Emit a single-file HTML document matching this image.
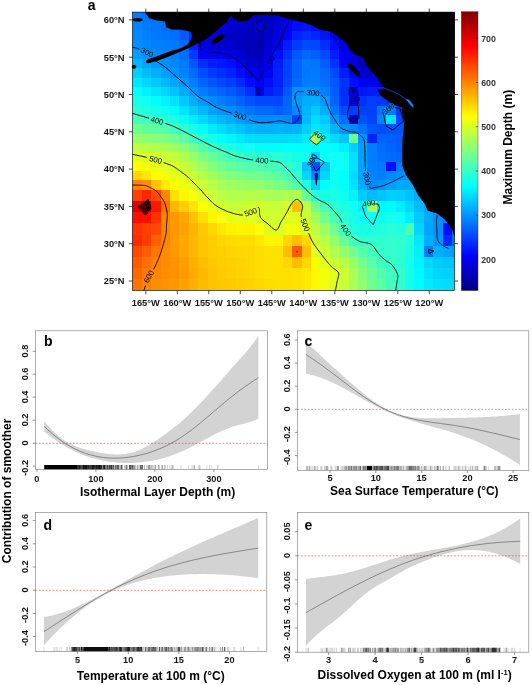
<!DOCTYPE html>
<html><head><meta charset="utf-8"><title>Figure</title>
<style>html,body{margin:0;padding:0;background:#fff}svg{display:block}</style></head>
<body>
<svg width="532" height="685" viewBox="0 0 532 685">
<rect width="532" height="685" fill="#fff"/>
<defs><clipPath id="mapclip"><rect x="132.4" y="12.1" width="322.2" height="278.5"/></clipPath><filter id="soft" x="-5%" y="-5%" width="110%" height="110%"><feGaussianBlur stdDeviation="0.6"/></filter></defs>
<g clip-path="url(#mapclip)"><g filter="url(#soft)" shape-rendering="crispEdges">
<rect x="128.40" y="8.10" width="13.70" height="13.65" fill="#007dff"/>
<rect x="141.80" y="8.10" width="9.70" height="13.65" fill="#0076ff"/>
<rect x="151.20" y="8.10" width="9.70" height="13.65" fill="#006eff"/>
<rect x="160.60" y="8.10" width="9.70" height="13.65" fill="#0065ff"/>
<rect x="170.00" y="8.10" width="9.70" height="13.65" fill="#0058ff"/>
<rect x="179.40" y="8.10" width="9.70" height="13.65" fill="#0044ff"/>
<rect x="188.80" y="8.10" width="9.70" height="13.65" fill="#002bff"/>
<rect x="198.20" y="8.10" width="9.70" height="13.65" fill="#0012ff"/>
<rect x="207.60" y="8.10" width="9.70" height="13.65" fill="#0000fb"/>
<rect x="217.00" y="8.10" width="9.70" height="13.65" fill="#0000e6"/>
<rect x="226.40" y="8.10" width="9.70" height="13.65" fill="#0000d6"/>
<rect x="235.80" y="8.10" width="9.70" height="13.65" fill="#0000cc"/>
<rect x="245.20" y="8.10" width="9.70" height="13.65" fill="#0000c4"/>
<rect x="254.60" y="8.10" width="9.70" height="13.65" fill="#0000c0"/>
<rect x="264.00" y="8.10" width="9.70" height="13.65" fill="#0000c3"/>
<rect x="273.40" y="8.10" width="9.70" height="13.65" fill="#0000d3"/>
<rect x="282.80" y="8.10" width="9.70" height="13.65" fill="#0000e7"/>
<rect x="292.20" y="8.10" width="9.70" height="13.65" fill="#0000f5"/>
<rect x="301.60" y="8.10" width="9.70" height="13.65" fill="#0000f9"/>
<rect x="311.00" y="8.10" width="9.70" height="13.65" fill="#0000f5"/>
<rect x="320.40" y="8.10" width="9.70" height="13.65" fill="#0000e8"/>
<rect x="329.80" y="8.10" width="9.70" height="13.65" fill="#0000d6"/>
<rect x="339.20" y="8.10" width="9.70" height="13.65" fill="#0000c1"/>
<rect x="348.60" y="8.10" width="9.70" height="13.65" fill="#0000ad"/>
<rect x="358.00" y="8.10" width="9.70" height="13.65" fill="#00009b"/>
<rect x="367.40" y="8.10" width="9.70" height="13.65" fill="#00008b"/>
<rect x="376.80" y="8.10" width="9.70" height="13.65" fill="#000080"/>
<rect x="386.20" y="8.10" width="9.70" height="13.65" fill="#000080"/>
<rect x="395.60" y="8.10" width="9.70" height="13.65" fill="#000080"/>
<rect x="405.00" y="8.10" width="9.70" height="13.65" fill="#000080"/>
<rect x="414.40" y="8.10" width="9.70" height="13.65" fill="#000080"/>
<rect x="423.80" y="8.10" width="9.70" height="13.65" fill="#000080"/>
<rect x="433.20" y="8.10" width="9.70" height="13.65" fill="#000080"/>
<rect x="442.60" y="8.10" width="9.70" height="13.65" fill="#000080"/>
<rect x="452.00" y="8.10" width="6.90" height="13.65" fill="#000080"/>
<rect x="128.40" y="21.45" width="13.70" height="9.65" fill="#0083ff"/>
<rect x="141.80" y="21.45" width="9.70" height="9.65" fill="#007cff"/>
<rect x="151.20" y="21.45" width="9.70" height="9.65" fill="#0074ff"/>
<rect x="160.60" y="21.45" width="9.70" height="9.65" fill="#006dff"/>
<rect x="170.00" y="21.45" width="9.70" height="9.65" fill="#0063ff"/>
<rect x="179.40" y="21.45" width="9.70" height="9.65" fill="#004dff"/>
<rect x="188.80" y="21.45" width="9.70" height="9.65" fill="#002bff"/>
<rect x="198.20" y="21.45" width="9.70" height="9.65" fill="#000cff"/>
<rect x="207.60" y="21.45" width="9.70" height="9.65" fill="#0000f4"/>
<rect x="217.00" y="21.45" width="9.70" height="9.65" fill="#0000de"/>
<rect x="226.40" y="21.45" width="9.70" height="9.65" fill="#0000cf"/>
<rect x="235.80" y="21.45" width="9.70" height="9.65" fill="#0000c8"/>
<rect x="245.20" y="21.45" width="9.70" height="9.65" fill="#0000c3"/>
<rect x="254.60" y="21.45" width="9.70" height="9.65" fill="#0000e1"/>
<rect x="264.00" y="21.45" width="9.70" height="9.65" fill="#0000c2"/>
<rect x="273.40" y="21.45" width="9.70" height="9.65" fill="#0000d8"/>
<rect x="282.80" y="21.45" width="9.70" height="9.65" fill="#0000f4"/>
<rect x="292.20" y="21.45" width="9.70" height="9.65" fill="#000aff"/>
<rect x="301.60" y="21.45" width="9.70" height="9.65" fill="#0012ff"/>
<rect x="311.00" y="21.45" width="9.70" height="9.65" fill="#000eff"/>
<rect x="320.40" y="21.45" width="9.70" height="9.65" fill="#0000fe"/>
<rect x="329.80" y="21.45" width="9.70" height="9.65" fill="#0000e7"/>
<rect x="339.20" y="21.45" width="9.70" height="9.65" fill="#0000cf"/>
<rect x="348.60" y="21.45" width="9.70" height="9.65" fill="#0000b7"/>
<rect x="358.00" y="21.45" width="9.70" height="9.65" fill="#0000a4"/>
<rect x="367.40" y="21.45" width="9.70" height="9.65" fill="#000094"/>
<rect x="376.80" y="21.45" width="9.70" height="9.65" fill="#000089"/>
<rect x="386.20" y="21.45" width="9.70" height="9.65" fill="#000081"/>
<rect x="395.60" y="21.45" width="9.70" height="9.65" fill="#000080"/>
<rect x="405.00" y="21.45" width="9.70" height="9.65" fill="#000080"/>
<rect x="414.40" y="21.45" width="9.70" height="9.65" fill="#000080"/>
<rect x="423.80" y="21.45" width="9.70" height="9.65" fill="#000080"/>
<rect x="433.20" y="21.45" width="9.70" height="9.65" fill="#000080"/>
<rect x="442.60" y="21.45" width="9.70" height="9.65" fill="#000080"/>
<rect x="452.00" y="21.45" width="6.90" height="9.65" fill="#000080"/>
<rect x="128.40" y="30.81" width="13.70" height="9.65" fill="#0088ff"/>
<rect x="141.80" y="30.81" width="9.70" height="9.65" fill="#0080ff"/>
<rect x="151.20" y="30.81" width="9.70" height="9.65" fill="#0079ff"/>
<rect x="160.60" y="30.81" width="9.70" height="9.65" fill="#0074ff"/>
<rect x="170.00" y="30.81" width="9.70" height="9.65" fill="#0070ff"/>
<rect x="179.40" y="30.81" width="9.70" height="9.65" fill="#005aff"/>
<rect x="188.80" y="30.81" width="9.70" height="9.65" fill="#0025ff"/>
<rect x="198.20" y="30.81" width="9.70" height="9.65" fill="#0000f9"/>
<rect x="207.60" y="30.81" width="9.70" height="9.65" fill="#0000e7"/>
<rect x="217.00" y="30.81" width="9.70" height="9.65" fill="#0000d2"/>
<rect x="226.40" y="30.81" width="9.70" height="9.65" fill="#0000c7"/>
<rect x="235.80" y="30.81" width="9.70" height="9.65" fill="#0000c3"/>
<rect x="245.20" y="30.81" width="9.70" height="9.65" fill="#0000c0"/>
<rect x="254.60" y="30.81" width="9.70" height="9.65" fill="#0000ba"/>
<rect x="264.00" y="30.81" width="9.70" height="9.65" fill="#0000c6"/>
<rect x="273.40" y="30.81" width="9.70" height="9.65" fill="#0000e1"/>
<rect x="282.80" y="30.81" width="9.70" height="9.65" fill="#0004ff"/>
<rect x="292.20" y="30.81" width="9.70" height="9.65" fill="#0020ff"/>
<rect x="301.60" y="30.81" width="9.70" height="9.65" fill="#002dff"/>
<rect x="311.00" y="30.81" width="9.70" height="9.65" fill="#0028ff"/>
<rect x="320.40" y="30.81" width="9.70" height="9.65" fill="#0016ff"/>
<rect x="329.80" y="30.81" width="9.70" height="9.65" fill="#0000f9"/>
<rect x="339.20" y="30.81" width="9.70" height="9.65" fill="#0000db"/>
<rect x="348.60" y="30.81" width="9.70" height="9.65" fill="#0000c1"/>
<rect x="358.00" y="30.81" width="9.70" height="9.65" fill="#0000ac"/>
<rect x="367.40" y="30.81" width="9.70" height="9.65" fill="#00009e"/>
<rect x="376.80" y="30.81" width="9.70" height="9.65" fill="#000094"/>
<rect x="386.20" y="30.81" width="9.70" height="9.65" fill="#00008d"/>
<rect x="395.60" y="30.81" width="9.70" height="9.65" fill="#000088"/>
<rect x="405.00" y="30.81" width="9.70" height="9.65" fill="#000083"/>
<rect x="414.40" y="30.81" width="9.70" height="9.65" fill="#000080"/>
<rect x="423.80" y="30.81" width="9.70" height="9.65" fill="#000080"/>
<rect x="433.20" y="30.81" width="9.70" height="9.65" fill="#000080"/>
<rect x="442.60" y="30.81" width="9.70" height="9.65" fill="#000080"/>
<rect x="452.00" y="30.81" width="6.90" height="9.65" fill="#000080"/>
<rect x="128.40" y="40.16" width="13.70" height="9.65" fill="#008fff"/>
<rect x="141.80" y="40.16" width="9.70" height="9.65" fill="#0088ff"/>
<rect x="151.20" y="40.16" width="9.70" height="9.65" fill="#007fff"/>
<rect x="160.60" y="40.16" width="9.70" height="9.65" fill="#007bff"/>
<rect x="170.00" y="40.16" width="9.70" height="9.65" fill="#007aff"/>
<rect x="179.40" y="40.16" width="9.70" height="9.65" fill="#0068ff"/>
<rect x="188.80" y="40.16" width="9.70" height="9.65" fill="#0023ff"/>
<rect x="198.20" y="40.16" width="9.70" height="9.65" fill="#0000e6"/>
<rect x="207.60" y="40.16" width="9.70" height="9.65" fill="#0000d9"/>
<rect x="217.00" y="40.16" width="9.70" height="9.65" fill="#0000d0"/>
<rect x="226.40" y="40.16" width="9.70" height="9.65" fill="#0000cb"/>
<rect x="235.80" y="40.16" width="9.70" height="9.65" fill="#0000c2"/>
<rect x="245.20" y="40.16" width="9.70" height="9.65" fill="#0000b6"/>
<rect x="254.60" y="40.16" width="9.70" height="9.65" fill="#0000b0"/>
<rect x="264.00" y="40.16" width="9.70" height="9.65" fill="#0000cd"/>
<rect x="273.40" y="40.16" width="9.70" height="9.65" fill="#0000f1"/>
<rect x="282.80" y="40.16" width="9.70" height="9.65" fill="#001bff"/>
<rect x="292.20" y="40.16" width="9.70" height="9.65" fill="#003bff"/>
<rect x="301.60" y="40.16" width="9.70" height="9.65" fill="#004aff"/>
<rect x="311.00" y="40.16" width="9.70" height="9.65" fill="#0045ff"/>
<rect x="320.40" y="40.16" width="9.70" height="9.65" fill="#002fff"/>
<rect x="329.80" y="40.16" width="9.70" height="9.65" fill="#000cff"/>
<rect x="339.20" y="40.16" width="9.70" height="9.65" fill="#0000e7"/>
<rect x="348.60" y="40.16" width="9.70" height="9.65" fill="#0000c9"/>
<rect x="358.00" y="40.16" width="9.70" height="9.65" fill="#0000b4"/>
<rect x="367.40" y="40.16" width="9.70" height="9.65" fill="#0000a7"/>
<rect x="376.80" y="40.16" width="9.70" height="9.65" fill="#0000a0"/>
<rect x="386.20" y="40.16" width="9.70" height="9.65" fill="#00009b"/>
<rect x="395.60" y="40.16" width="9.70" height="9.65" fill="#000098"/>
<rect x="405.00" y="40.16" width="9.70" height="9.65" fill="#000094"/>
<rect x="414.40" y="40.16" width="9.70" height="9.65" fill="#000090"/>
<rect x="423.80" y="40.16" width="9.70" height="9.65" fill="#00008b"/>
<rect x="433.20" y="40.16" width="9.70" height="9.65" fill="#000085"/>
<rect x="442.60" y="40.16" width="9.70" height="9.65" fill="#000080"/>
<rect x="452.00" y="40.16" width="6.90" height="9.65" fill="#000080"/>
<rect x="128.40" y="49.51" width="13.70" height="9.65" fill="#009eff"/>
<rect x="141.80" y="49.51" width="9.70" height="9.65" fill="#0095ff"/>
<rect x="151.20" y="49.51" width="9.70" height="9.65" fill="#008aff"/>
<rect x="160.60" y="49.51" width="9.70" height="9.65" fill="#0084ff"/>
<rect x="170.00" y="49.51" width="9.70" height="9.65" fill="#0080ff"/>
<rect x="179.40" y="49.51" width="9.70" height="9.65" fill="#006eff"/>
<rect x="188.80" y="49.51" width="9.70" height="9.65" fill="#0037ff"/>
<rect x="198.20" y="49.51" width="9.70" height="9.65" fill="#0000fe"/>
<rect x="207.60" y="49.51" width="9.70" height="9.65" fill="#0000f9"/>
<rect x="217.00" y="49.51" width="9.70" height="9.65" fill="#0000f4"/>
<rect x="226.40" y="49.51" width="9.70" height="9.65" fill="#0000e9"/>
<rect x="235.80" y="49.51" width="9.70" height="9.65" fill="#0000d3"/>
<rect x="245.20" y="49.51" width="9.70" height="9.65" fill="#0000bb"/>
<rect x="254.60" y="49.51" width="9.70" height="9.65" fill="#0000b9"/>
<rect x="264.00" y="49.51" width="9.70" height="9.65" fill="#0000df"/>
<rect x="273.40" y="49.51" width="9.70" height="9.65" fill="#000aff"/>
<rect x="282.80" y="49.51" width="9.70" height="9.65" fill="#0033ff"/>
<rect x="292.20" y="49.51" width="9.70" height="9.65" fill="#0057ff"/>
<rect x="301.60" y="49.51" width="9.70" height="9.65" fill="#0067ff"/>
<rect x="311.00" y="49.51" width="9.70" height="9.65" fill="#0061ff"/>
<rect x="320.40" y="49.51" width="9.70" height="9.65" fill="#0048ff"/>
<rect x="329.80" y="49.51" width="9.70" height="9.65" fill="#001fff"/>
<rect x="339.20" y="49.51" width="9.70" height="9.65" fill="#0000f2"/>
<rect x="348.60" y="49.51" width="9.70" height="9.65" fill="#0000d1"/>
<rect x="358.00" y="49.51" width="9.70" height="9.65" fill="#0000be"/>
<rect x="367.40" y="49.51" width="9.70" height="9.65" fill="#0000b3"/>
<rect x="376.80" y="49.51" width="9.70" height="9.65" fill="#0000ae"/>
<rect x="386.20" y="49.51" width="9.70" height="9.65" fill="#0000ac"/>
<rect x="395.60" y="49.51" width="9.70" height="9.65" fill="#0000aa"/>
<rect x="405.00" y="49.51" width="9.70" height="9.65" fill="#0000a8"/>
<rect x="414.40" y="49.51" width="9.70" height="9.65" fill="#0000a4"/>
<rect x="423.80" y="49.51" width="9.70" height="9.65" fill="#00009f"/>
<rect x="433.20" y="49.51" width="9.70" height="9.65" fill="#000098"/>
<rect x="442.60" y="49.51" width="9.70" height="9.65" fill="#000091"/>
<rect x="452.00" y="49.51" width="6.90" height="9.65" fill="#00008c"/>
<rect x="128.40" y="58.86" width="13.70" height="9.65" fill="#00b4ff"/>
<rect x="141.80" y="58.86" width="9.70" height="9.65" fill="#00a7ff"/>
<rect x="151.20" y="58.86" width="9.70" height="9.65" fill="#0099ff"/>
<rect x="160.60" y="58.86" width="9.70" height="9.65" fill="#008fff"/>
<rect x="170.00" y="58.86" width="9.70" height="9.65" fill="#0087ff"/>
<rect x="179.40" y="58.86" width="9.70" height="9.65" fill="#0079ff"/>
<rect x="188.80" y="58.86" width="9.70" height="9.65" fill="#0056ff"/>
<rect x="198.20" y="58.86" width="9.70" height="9.65" fill="#002dff"/>
<rect x="207.60" y="58.86" width="9.70" height="9.65" fill="#001cff"/>
<rect x="217.00" y="58.86" width="9.70" height="9.65" fill="#0014ff"/>
<rect x="226.40" y="58.86" width="9.70" height="9.65" fill="#0009ff"/>
<rect x="235.80" y="58.86" width="9.70" height="9.65" fill="#0000f3"/>
<rect x="245.20" y="58.86" width="9.70" height="9.65" fill="#0000d3"/>
<rect x="254.60" y="58.86" width="9.70" height="9.65" fill="#0000cc"/>
<rect x="264.00" y="58.86" width="9.70" height="9.65" fill="#0000f5"/>
<rect x="273.40" y="58.86" width="9.70" height="9.65" fill="#001bff"/>
<rect x="282.80" y="58.86" width="9.70" height="9.65" fill="#0041ff"/>
<rect x="292.20" y="58.86" width="9.70" height="9.65" fill="#0064ff"/>
<rect x="301.60" y="58.86" width="9.70" height="9.65" fill="#0077ff"/>
<rect x="311.00" y="58.86" width="9.70" height="9.65" fill="#0074ff"/>
<rect x="320.40" y="58.86" width="9.70" height="9.65" fill="#005dff"/>
<rect x="329.80" y="58.86" width="9.70" height="9.65" fill="#0034ff"/>
<rect x="339.20" y="58.86" width="9.70" height="9.65" fill="#0001ff"/>
<rect x="348.60" y="58.86" width="9.70" height="9.65" fill="#0000de"/>
<rect x="358.00" y="58.86" width="9.70" height="9.65" fill="#0000cb"/>
<rect x="367.40" y="58.86" width="9.70" height="9.65" fill="#0000c3"/>
<rect x="376.80" y="58.86" width="9.70" height="9.65" fill="#0000c1"/>
<rect x="386.20" y="58.86" width="9.70" height="9.65" fill="#0000c1"/>
<rect x="395.60" y="58.86" width="9.70" height="9.65" fill="#0000c0"/>
<rect x="405.00" y="58.86" width="9.70" height="9.65" fill="#0000be"/>
<rect x="414.40" y="58.86" width="9.70" height="9.65" fill="#0000b9"/>
<rect x="423.80" y="58.86" width="9.70" height="9.65" fill="#0000b3"/>
<rect x="433.20" y="58.86" width="9.70" height="9.65" fill="#0000ac"/>
<rect x="442.60" y="58.86" width="9.70" height="9.65" fill="#0000a4"/>
<rect x="452.00" y="58.86" width="6.90" height="9.65" fill="#00009e"/>
<rect x="128.40" y="68.22" width="13.70" height="9.65" fill="#00ceff"/>
<rect x="141.80" y="68.22" width="9.70" height="9.65" fill="#00bfff"/>
<rect x="151.20" y="68.22" width="9.70" height="9.65" fill="#00afff"/>
<rect x="160.60" y="68.22" width="9.70" height="9.65" fill="#009fff"/>
<rect x="170.00" y="68.22" width="9.70" height="9.65" fill="#0090ff"/>
<rect x="179.40" y="68.22" width="9.70" height="9.65" fill="#0081ff"/>
<rect x="188.80" y="68.22" width="9.70" height="9.65" fill="#0069ff"/>
<rect x="198.20" y="68.22" width="9.70" height="9.65" fill="#004dff"/>
<rect x="207.60" y="68.22" width="9.70" height="9.65" fill="#0039ff"/>
<rect x="217.00" y="68.22" width="9.70" height="9.65" fill="#002eff"/>
<rect x="226.40" y="68.22" width="9.70" height="9.65" fill="#0023ff"/>
<rect x="235.80" y="68.22" width="9.70" height="9.65" fill="#0010ff"/>
<rect x="245.20" y="68.22" width="9.70" height="9.65" fill="#0000f3"/>
<rect x="254.60" y="68.22" width="9.70" height="9.65" fill="#0000e7"/>
<rect x="264.00" y="68.22" width="9.70" height="9.65" fill="#0004ff"/>
<rect x="273.40" y="68.22" width="9.70" height="9.65" fill="#0020ff"/>
<rect x="282.80" y="68.22" width="9.70" height="9.65" fill="#0042ff"/>
<rect x="292.20" y="68.22" width="9.70" height="9.65" fill="#0062ff"/>
<rect x="301.60" y="68.22" width="9.70" height="9.65" fill="#0077ff"/>
<rect x="311.00" y="68.22" width="9.70" height="9.65" fill="#007cff"/>
<rect x="320.40" y="68.22" width="9.70" height="9.65" fill="#006aff"/>
<rect x="329.80" y="68.22" width="9.70" height="9.65" fill="#004aff"/>
<rect x="339.20" y="68.22" width="9.70" height="9.65" fill="#001dff"/>
<rect x="348.60" y="68.22" width="9.70" height="9.65" fill="#0000f3"/>
<rect x="358.00" y="68.22" width="9.70" height="9.65" fill="#0000dd"/>
<rect x="367.40" y="68.22" width="9.70" height="9.65" fill="#0000d8"/>
<rect x="376.80" y="68.22" width="9.70" height="9.65" fill="#0000da"/>
<rect x="386.20" y="68.22" width="9.70" height="9.65" fill="#0000db"/>
<rect x="395.60" y="68.22" width="9.70" height="9.65" fill="#0000da"/>
<rect x="405.00" y="68.22" width="9.70" height="9.65" fill="#0000d6"/>
<rect x="414.40" y="68.22" width="9.70" height="9.65" fill="#0000d0"/>
<rect x="423.80" y="68.22" width="9.70" height="9.65" fill="#0000c9"/>
<rect x="433.20" y="68.22" width="9.70" height="9.65" fill="#0000c1"/>
<rect x="442.60" y="68.22" width="9.70" height="9.65" fill="#0000b8"/>
<rect x="452.00" y="68.22" width="6.90" height="9.65" fill="#0000b1"/>
<rect x="128.40" y="77.57" width="13.70" height="9.65" fill="#00e8ff"/>
<rect x="141.80" y="77.57" width="9.70" height="9.65" fill="#00d9ff"/>
<rect x="151.20" y="77.57" width="9.70" height="9.65" fill="#00c9ff"/>
<rect x="160.60" y="77.57" width="9.70" height="9.65" fill="#00b8ff"/>
<rect x="170.00" y="77.57" width="9.70" height="9.65" fill="#00a5ff"/>
<rect x="179.40" y="77.57" width="9.70" height="9.65" fill="#0092ff"/>
<rect x="188.80" y="77.57" width="9.70" height="9.65" fill="#007cff"/>
<rect x="198.20" y="77.57" width="9.70" height="9.65" fill="#0065ff"/>
<rect x="207.60" y="77.57" width="9.70" height="9.65" fill="#0054ff"/>
<rect x="217.00" y="77.57" width="9.70" height="9.65" fill="#0048ff"/>
<rect x="226.40" y="77.57" width="9.70" height="9.65" fill="#003dff"/>
<rect x="235.80" y="77.57" width="9.70" height="9.65" fill="#0029ff"/>
<rect x="245.20" y="77.57" width="9.70" height="9.65" fill="#000cff"/>
<rect x="254.60" y="77.57" width="9.70" height="9.65" fill="#0000f7"/>
<rect x="264.00" y="77.57" width="9.70" height="9.65" fill="#0008ff"/>
<rect x="273.40" y="77.57" width="9.70" height="9.65" fill="#0020ff"/>
<rect x="282.80" y="77.57" width="9.70" height="9.65" fill="#0047ff"/>
<rect x="292.20" y="77.57" width="9.70" height="9.65" fill="#006bff"/>
<rect x="301.60" y="77.57" width="9.70" height="9.65" fill="#007cff"/>
<rect x="311.00" y="77.57" width="9.70" height="9.65" fill="#007eff"/>
<rect x="320.40" y="77.57" width="9.70" height="9.65" fill="#0072ff"/>
<rect x="329.80" y="77.57" width="9.70" height="9.65" fill="#0059ff"/>
<rect x="339.20" y="77.57" width="9.70" height="9.65" fill="#0031ff"/>
<rect x="348.60" y="77.57" width="9.70" height="9.65" fill="#0007ff"/>
<rect x="358.00" y="77.57" width="9.70" height="9.65" fill="#0000f2"/>
<rect x="367.40" y="77.57" width="9.70" height="9.65" fill="#0000f4"/>
<rect x="376.80" y="77.57" width="9.70" height="9.65" fill="#0000f8"/>
<rect x="386.20" y="77.57" width="9.70" height="9.65" fill="#0000f9"/>
<rect x="395.60" y="77.57" width="9.70" height="9.65" fill="#0000f5"/>
<rect x="405.00" y="77.57" width="9.70" height="9.65" fill="#0000ef"/>
<rect x="414.40" y="77.57" width="9.70" height="9.65" fill="#0000e8"/>
<rect x="423.80" y="77.57" width="9.70" height="9.65" fill="#0000df"/>
<rect x="433.20" y="77.57" width="9.70" height="9.65" fill="#0000d6"/>
<rect x="442.60" y="77.57" width="9.70" height="9.65" fill="#0000cb"/>
<rect x="452.00" y="77.57" width="6.90" height="9.65" fill="#0000c4"/>
<rect x="128.40" y="86.92" width="13.70" height="9.65" fill="#00feff"/>
<rect x="141.80" y="86.92" width="9.70" height="9.65" fill="#00f1ff"/>
<rect x="151.20" y="86.92" width="9.70" height="9.65" fill="#00e4ff"/>
<rect x="160.60" y="86.92" width="9.70" height="9.65" fill="#00d5ff"/>
<rect x="170.00" y="86.92" width="9.70" height="9.65" fill="#00c2ff"/>
<rect x="179.40" y="86.92" width="9.70" height="9.65" fill="#00abff"/>
<rect x="188.80" y="86.92" width="9.70" height="9.65" fill="#0092ff"/>
<rect x="198.20" y="86.92" width="9.70" height="9.65" fill="#007eff"/>
<rect x="207.60" y="86.92" width="9.70" height="9.65" fill="#006eff"/>
<rect x="217.00" y="86.92" width="9.70" height="9.65" fill="#0063ff"/>
<rect x="226.40" y="86.92" width="9.70" height="9.65" fill="#0058ff"/>
<rect x="235.80" y="86.92" width="9.70" height="9.65" fill="#0047ff"/>
<rect x="245.20" y="86.92" width="9.70" height="9.65" fill="#002dff"/>
<rect x="254.60" y="86.92" width="9.70" height="9.65" fill="#0000e9"/>
<rect x="264.00" y="86.92" width="9.70" height="9.65" fill="#001eff"/>
<rect x="273.40" y="86.92" width="9.70" height="9.65" fill="#002aff"/>
<rect x="282.80" y="86.92" width="9.70" height="9.65" fill="#0059ff"/>
<rect x="292.20" y="86.92" width="9.70" height="9.65" fill="#0091ff"/>
<rect x="301.60" y="86.92" width="9.70" height="9.65" fill="#0095ff"/>
<rect x="311.00" y="86.92" width="9.70" height="9.65" fill="#008fff"/>
<rect x="320.40" y="86.92" width="9.70" height="9.65" fill="#0080ff"/>
<rect x="329.80" y="86.92" width="9.70" height="9.65" fill="#005cff"/>
<rect x="339.20" y="86.92" width="9.70" height="9.65" fill="#002fff"/>
<rect x="348.60" y="86.92" width="9.70" height="9.65" fill="#0000f1"/>
<rect x="358.00" y="86.92" width="9.70" height="9.65" fill="#0013ff"/>
<rect x="367.40" y="86.92" width="9.70" height="9.65" fill="#001bff"/>
<rect x="376.80" y="86.92" width="9.70" height="9.65" fill="#001dff"/>
<rect x="386.20" y="86.92" width="9.70" height="9.65" fill="#0018ff"/>
<rect x="395.60" y="86.92" width="9.70" height="9.65" fill="#0011ff"/>
<rect x="405.00" y="86.92" width="9.70" height="9.65" fill="#0009ff"/>
<rect x="414.40" y="86.92" width="9.70" height="9.65" fill="#0000ff"/>
<rect x="423.80" y="86.92" width="9.70" height="9.65" fill="#0000f5"/>
<rect x="433.20" y="86.92" width="9.70" height="9.65" fill="#0000ea"/>
<rect x="442.60" y="86.92" width="9.70" height="9.65" fill="#0000de"/>
<rect x="452.00" y="86.92" width="6.90" height="9.65" fill="#0000d7"/>
<rect x="128.40" y="96.27" width="13.70" height="9.65" fill="#14ffeb"/>
<rect x="141.80" y="96.27" width="9.70" height="9.65" fill="#09fff6"/>
<rect x="151.20" y="96.27" width="9.70" height="9.65" fill="#00feff"/>
<rect x="160.60" y="96.27" width="9.70" height="9.65" fill="#00f3ff"/>
<rect x="170.00" y="96.27" width="9.70" height="9.65" fill="#00e0ff"/>
<rect x="179.40" y="96.27" width="9.70" height="9.65" fill="#00c7ff"/>
<rect x="188.80" y="96.27" width="9.70" height="9.65" fill="#00adff"/>
<rect x="198.20" y="96.27" width="9.70" height="9.65" fill="#0099ff"/>
<rect x="207.60" y="96.27" width="9.70" height="9.65" fill="#0089ff"/>
<rect x="217.00" y="96.27" width="9.70" height="9.65" fill="#007cff"/>
<rect x="226.40" y="96.27" width="9.70" height="9.65" fill="#0072ff"/>
<rect x="235.80" y="96.27" width="9.70" height="9.65" fill="#0063ff"/>
<rect x="245.20" y="96.27" width="9.70" height="9.65" fill="#0051ff"/>
<rect x="254.60" y="96.27" width="9.70" height="9.65" fill="#0046ff"/>
<rect x="264.00" y="96.27" width="9.70" height="9.65" fill="#0045ff"/>
<rect x="273.40" y="96.27" width="9.70" height="9.65" fill="#0044ff"/>
<rect x="282.80" y="96.27" width="9.70" height="9.65" fill="#0065ff"/>
<rect x="292.20" y="96.27" width="9.70" height="9.65" fill="#009aff"/>
<rect x="301.60" y="96.27" width="9.70" height="9.65" fill="#00aeff"/>
<rect x="311.00" y="96.27" width="9.70" height="9.65" fill="#00afff"/>
<rect x="320.40" y="96.27" width="9.70" height="9.65" fill="#0097ff"/>
<rect x="329.80" y="96.27" width="9.70" height="9.65" fill="#0063ff"/>
<rect x="339.20" y="96.27" width="9.70" height="9.65" fill="#0031ff"/>
<rect x="348.60" y="96.27" width="9.70" height="9.65" fill="#0000e1"/>
<rect x="358.00" y="96.27" width="9.70" height="9.65" fill="#0030ff"/>
<rect x="367.40" y="96.27" width="9.70" height="9.65" fill="#003dff"/>
<rect x="376.80" y="96.27" width="9.70" height="9.65" fill="#0037ff"/>
<rect x="386.20" y="96.27" width="9.70" height="9.65" fill="#0030ff"/>
<rect x="395.60" y="96.27" width="9.70" height="9.65" fill="#0027ff"/>
<rect x="405.00" y="96.27" width="9.70" height="9.65" fill="#001eff"/>
<rect x="414.40" y="96.27" width="9.70" height="9.65" fill="#0015ff"/>
<rect x="423.80" y="96.27" width="9.70" height="9.65" fill="#0009ff"/>
<rect x="433.20" y="96.27" width="9.70" height="9.65" fill="#0000fd"/>
<rect x="442.60" y="96.27" width="9.70" height="9.65" fill="#0000f0"/>
<rect x="452.00" y="96.27" width="6.90" height="9.65" fill="#0000e8"/>
<rect x="128.40" y="105.63" width="13.70" height="9.65" fill="#2affd5"/>
<rect x="141.80" y="105.63" width="9.70" height="9.65" fill="#21ffde"/>
<rect x="151.20" y="105.63" width="9.70" height="9.65" fill="#18ffe7"/>
<rect x="160.60" y="105.63" width="9.70" height="9.65" fill="#0dfff2"/>
<rect x="170.00" y="105.63" width="9.70" height="9.65" fill="#00fbff"/>
<rect x="179.40" y="105.63" width="9.70" height="9.65" fill="#00e4ff"/>
<rect x="188.80" y="105.63" width="9.70" height="9.65" fill="#00ccff"/>
<rect x="198.20" y="105.63" width="9.70" height="9.65" fill="#00b7ff"/>
<rect x="207.60" y="105.63" width="9.70" height="9.65" fill="#00a4ff"/>
<rect x="217.00" y="105.63" width="9.70" height="9.65" fill="#0096ff"/>
<rect x="226.40" y="105.63" width="9.70" height="9.65" fill="#008cff"/>
<rect x="235.80" y="105.63" width="9.70" height="9.65" fill="#0080ff"/>
<rect x="245.20" y="105.63" width="9.70" height="9.65" fill="#0073ff"/>
<rect x="254.60" y="105.63" width="9.70" height="9.65" fill="#006bff"/>
<rect x="264.00" y="105.63" width="9.70" height="9.65" fill="#0069ff"/>
<rect x="273.40" y="105.63" width="9.70" height="9.65" fill="#0060ff"/>
<rect x="282.80" y="105.63" width="9.70" height="9.65" fill="#0069ff"/>
<rect x="292.20" y="105.63" width="9.70" height="9.65" fill="#008cff"/>
<rect x="301.60" y="105.63" width="9.70" height="9.65" fill="#00b5ff"/>
<rect x="311.00" y="105.63" width="9.70" height="9.65" fill="#00caff"/>
<rect x="320.40" y="105.63" width="9.70" height="9.65" fill="#00adff"/>
<rect x="329.80" y="105.63" width="9.70" height="9.65" fill="#0077ff"/>
<rect x="339.20" y="105.63" width="9.70" height="9.65" fill="#004cff"/>
<rect x="348.60" y="105.63" width="9.70" height="9.65" fill="#003dff"/>
<rect x="358.00" y="105.63" width="9.70" height="9.65" fill="#003fff"/>
<rect x="367.40" y="105.63" width="9.70" height="9.65" fill="#0041ff"/>
<rect x="376.80" y="105.63" width="9.70" height="9.65" fill="#0074ff"/>
<rect x="386.20" y="105.63" width="9.70" height="9.65" fill="#007cff"/>
<rect x="395.60" y="105.63" width="9.70" height="9.65" fill="#0038ff"/>
<rect x="405.00" y="105.63" width="9.70" height="9.65" fill="#0031ff"/>
<rect x="414.40" y="105.63" width="9.70" height="9.65" fill="#0027ff"/>
<rect x="423.80" y="105.63" width="9.70" height="9.65" fill="#001bff"/>
<rect x="433.20" y="105.63" width="9.70" height="9.65" fill="#000fff"/>
<rect x="442.60" y="105.63" width="9.70" height="9.65" fill="#0002ff"/>
<rect x="452.00" y="105.63" width="6.90" height="9.65" fill="#0000f8"/>
<rect x="128.40" y="114.98" width="13.70" height="9.65" fill="#48ffb7"/>
<rect x="141.80" y="114.98" width="9.70" height="9.65" fill="#3fffc0"/>
<rect x="151.20" y="114.98" width="9.70" height="9.65" fill="#35ffca"/>
<rect x="160.60" y="114.98" width="9.70" height="9.65" fill="#2affd5"/>
<rect x="170.00" y="114.98" width="9.70" height="9.65" fill="#1affe5"/>
<rect x="179.40" y="114.98" width="9.70" height="9.65" fill="#04fffb"/>
<rect x="188.80" y="114.98" width="9.70" height="9.65" fill="#00edff"/>
<rect x="198.20" y="114.98" width="9.70" height="9.65" fill="#00d8ff"/>
<rect x="207.60" y="114.98" width="9.70" height="9.65" fill="#00c6ff"/>
<rect x="217.00" y="114.98" width="9.70" height="9.65" fill="#00b7ff"/>
<rect x="226.40" y="114.98" width="9.70" height="9.65" fill="#00abff"/>
<rect x="235.80" y="114.98" width="9.70" height="9.65" fill="#00a0ff"/>
<rect x="245.20" y="114.98" width="9.70" height="9.65" fill="#0092ff"/>
<rect x="254.60" y="114.98" width="9.70" height="9.65" fill="#008aff"/>
<rect x="264.00" y="114.98" width="9.70" height="9.65" fill="#008aff"/>
<rect x="273.40" y="114.98" width="9.70" height="9.65" fill="#008eff"/>
<rect x="282.80" y="114.98" width="9.70" height="9.65" fill="#0088ff"/>
<rect x="292.20" y="114.98" width="9.70" height="9.65" fill="#0043ff"/>
<rect x="301.60" y="114.98" width="9.70" height="9.65" fill="#00bcff"/>
<rect x="311.00" y="114.98" width="9.70" height="9.65" fill="#00dcff"/>
<rect x="320.40" y="114.98" width="9.70" height="9.65" fill="#00c9ff"/>
<rect x="329.80" y="114.98" width="9.70" height="9.65" fill="#0096ff"/>
<rect x="339.20" y="114.98" width="9.70" height="9.65" fill="#006dff"/>
<rect x="348.60" y="114.98" width="9.70" height="9.65" fill="#0000b8"/>
<rect x="358.00" y="114.98" width="9.70" height="9.65" fill="#0051ff"/>
<rect x="367.40" y="114.98" width="9.70" height="9.65" fill="#0042ff"/>
<rect x="376.80" y="114.98" width="9.70" height="9.65" fill="#0087ff"/>
<rect x="386.20" y="114.98" width="9.70" height="9.65" fill="#00e5ff"/>
<rect x="395.60" y="114.98" width="9.70" height="9.65" fill="#0046ff"/>
<rect x="405.00" y="114.98" width="9.70" height="9.65" fill="#0040ff"/>
<rect x="414.40" y="114.98" width="9.70" height="9.65" fill="#0036ff"/>
<rect x="423.80" y="114.98" width="9.70" height="9.65" fill="#002aff"/>
<rect x="433.20" y="114.98" width="9.70" height="9.65" fill="#001eff"/>
<rect x="442.60" y="114.98" width="9.70" height="9.65" fill="#0011ff"/>
<rect x="452.00" y="114.98" width="6.90" height="9.65" fill="#0008ff"/>
<rect x="128.40" y="124.33" width="13.70" height="9.65" fill="#6eff91"/>
<rect x="141.80" y="124.33" width="9.70" height="9.65" fill="#65ff9a"/>
<rect x="151.20" y="124.33" width="9.70" height="9.65" fill="#5bffa4"/>
<rect x="160.60" y="124.33" width="9.70" height="9.65" fill="#51ffae"/>
<rect x="170.00" y="124.33" width="9.70" height="9.65" fill="#41ffbe"/>
<rect x="179.40" y="124.33" width="9.70" height="9.65" fill="#2bffd4"/>
<rect x="188.80" y="124.33" width="9.70" height="9.65" fill="#14ffeb"/>
<rect x="198.20" y="124.33" width="9.70" height="9.65" fill="#00feff"/>
<rect x="207.60" y="124.33" width="9.70" height="9.65" fill="#00ebff"/>
<rect x="217.00" y="124.33" width="9.70" height="9.65" fill="#00dcff"/>
<rect x="226.40" y="124.33" width="9.70" height="9.65" fill="#00ceff"/>
<rect x="235.80" y="124.33" width="9.70" height="9.65" fill="#00c2ff"/>
<rect x="245.20" y="124.33" width="9.70" height="9.65" fill="#00b6ff"/>
<rect x="254.60" y="124.33" width="9.70" height="9.65" fill="#00b0ff"/>
<rect x="264.00" y="124.33" width="9.70" height="9.65" fill="#00b1ff"/>
<rect x="273.40" y="124.33" width="9.70" height="9.65" fill="#00b4ff"/>
<rect x="282.80" y="124.33" width="9.70" height="9.65" fill="#00afff"/>
<rect x="292.20" y="124.33" width="9.70" height="9.65" fill="#00b4ff"/>
<rect x="301.60" y="124.33" width="9.70" height="9.65" fill="#00d0ff"/>
<rect x="311.00" y="124.33" width="9.70" height="9.65" fill="#00e6ff"/>
<rect x="320.40" y="124.33" width="9.70" height="9.65" fill="#00dbff"/>
<rect x="329.80" y="124.33" width="9.70" height="9.65" fill="#00b5ff"/>
<rect x="339.20" y="124.33" width="9.70" height="9.65" fill="#0092ff"/>
<rect x="348.60" y="124.33" width="9.70" height="9.65" fill="#0086ff"/>
<rect x="358.00" y="124.33" width="9.70" height="9.65" fill="#0072ff"/>
<rect x="367.40" y="124.33" width="9.70" height="9.65" fill="#0055ff"/>
<rect x="376.80" y="124.33" width="9.70" height="9.65" fill="#004dff"/>
<rect x="386.20" y="124.33" width="9.70" height="9.65" fill="#0053ff"/>
<rect x="395.60" y="124.33" width="9.70" height="9.65" fill="#0054ff"/>
<rect x="405.00" y="124.33" width="9.70" height="9.65" fill="#004dff"/>
<rect x="414.40" y="124.33" width="9.70" height="9.65" fill="#0043ff"/>
<rect x="423.80" y="124.33" width="9.70" height="9.65" fill="#0037ff"/>
<rect x="433.20" y="124.33" width="9.70" height="9.65" fill="#002bff"/>
<rect x="442.60" y="124.33" width="9.70" height="9.65" fill="#001eff"/>
<rect x="452.00" y="124.33" width="6.90" height="9.65" fill="#0016ff"/>
<rect x="128.40" y="133.68" width="13.70" height="9.65" fill="#97ff68"/>
<rect x="141.80" y="133.68" width="9.70" height="9.65" fill="#8fff70"/>
<rect x="151.20" y="133.68" width="9.70" height="9.65" fill="#87ff78"/>
<rect x="160.60" y="133.68" width="9.70" height="9.65" fill="#7fff80"/>
<rect x="170.00" y="133.68" width="9.70" height="9.65" fill="#72ff8d"/>
<rect x="179.40" y="133.68" width="9.70" height="9.65" fill="#5dffa2"/>
<rect x="188.80" y="133.68" width="9.70" height="9.65" fill="#41ffbe"/>
<rect x="198.20" y="133.68" width="9.70" height="9.65" fill="#29ffd6"/>
<rect x="207.60" y="133.68" width="9.70" height="9.65" fill="#15ffea"/>
<rect x="217.00" y="133.68" width="9.70" height="9.65" fill="#04fffb"/>
<rect x="226.40" y="133.68" width="9.70" height="9.65" fill="#00f5ff"/>
<rect x="235.80" y="133.68" width="9.70" height="9.65" fill="#00e8ff"/>
<rect x="245.20" y="133.68" width="9.70" height="9.65" fill="#00deff"/>
<rect x="254.60" y="133.68" width="9.70" height="9.65" fill="#00d9ff"/>
<rect x="264.00" y="133.68" width="9.70" height="9.65" fill="#00daff"/>
<rect x="273.40" y="133.68" width="9.70" height="9.65" fill="#00daff"/>
<rect x="282.80" y="133.68" width="9.70" height="9.65" fill="#00daff"/>
<rect x="292.20" y="133.68" width="9.70" height="9.65" fill="#00deff"/>
<rect x="301.60" y="133.68" width="9.70" height="9.65" fill="#00ebff"/>
<rect x="311.00" y="133.68" width="9.70" height="9.65" fill="#b9ff46"/>
<rect x="320.40" y="133.68" width="9.70" height="9.65" fill="#00eeff"/>
<rect x="329.80" y="133.68" width="9.70" height="9.65" fill="#00dbff"/>
<rect x="339.20" y="133.68" width="9.70" height="9.65" fill="#00c5ff"/>
<rect x="348.60" y="133.68" width="9.70" height="9.65" fill="#68ff97"/>
<rect x="358.00" y="133.68" width="9.70" height="9.65" fill="#0095ff"/>
<rect x="367.40" y="133.68" width="9.70" height="9.65" fill="#0023ff"/>
<rect x="376.80" y="133.68" width="9.70" height="9.65" fill="#0062ff"/>
<rect x="386.20" y="133.68" width="9.70" height="9.65" fill="#0061ff"/>
<rect x="395.60" y="133.68" width="9.70" height="9.65" fill="#005cff"/>
<rect x="405.00" y="133.68" width="9.70" height="9.65" fill="#0054ff"/>
<rect x="414.40" y="133.68" width="9.70" height="9.65" fill="#004cff"/>
<rect x="423.80" y="133.68" width="9.70" height="9.65" fill="#0043ff"/>
<rect x="433.20" y="133.68" width="9.70" height="9.65" fill="#0038ff"/>
<rect x="442.60" y="133.68" width="9.70" height="9.65" fill="#002bff"/>
<rect x="452.00" y="133.68" width="6.90" height="9.65" fill="#0022ff"/>
<rect x="128.40" y="143.04" width="13.70" height="9.65" fill="#beff41"/>
<rect x="141.80" y="143.04" width="9.70" height="9.65" fill="#b7ff48"/>
<rect x="151.20" y="143.04" width="9.70" height="9.65" fill="#b1ff4e"/>
<rect x="160.60" y="143.04" width="9.70" height="9.65" fill="#aaff55"/>
<rect x="170.00" y="143.04" width="9.70" height="9.65" fill="#a0ff5f"/>
<rect x="179.40" y="143.04" width="9.70" height="9.65" fill="#8dff72"/>
<rect x="188.80" y="143.04" width="9.70" height="9.65" fill="#6fff90"/>
<rect x="198.20" y="143.04" width="9.70" height="9.65" fill="#55ffaa"/>
<rect x="207.60" y="143.04" width="9.70" height="9.65" fill="#3effc1"/>
<rect x="217.00" y="143.04" width="9.70" height="9.65" fill="#2dffd2"/>
<rect x="226.40" y="143.04" width="9.70" height="9.65" fill="#1dffe2"/>
<rect x="235.80" y="143.04" width="9.70" height="9.65" fill="#10ffef"/>
<rect x="245.20" y="143.04" width="9.70" height="9.65" fill="#07fff8"/>
<rect x="254.60" y="143.04" width="9.70" height="9.65" fill="#04fffb"/>
<rect x="264.00" y="143.04" width="9.70" height="9.65" fill="#03fffc"/>
<rect x="273.40" y="143.04" width="9.70" height="9.65" fill="#03fffc"/>
<rect x="282.80" y="143.04" width="9.70" height="9.65" fill="#02fffd"/>
<rect x="292.20" y="143.04" width="9.70" height="9.65" fill="#03fffc"/>
<rect x="301.60" y="143.04" width="9.70" height="9.65" fill="#04fffb"/>
<rect x="311.00" y="143.04" width="9.70" height="9.65" fill="#04fffb"/>
<rect x="320.40" y="143.04" width="9.70" height="9.65" fill="#01fffe"/>
<rect x="329.80" y="143.04" width="9.70" height="9.65" fill="#00fcff"/>
<rect x="339.20" y="143.04" width="9.70" height="9.65" fill="#00f0ff"/>
<rect x="348.60" y="143.04" width="9.70" height="9.65" fill="#00d0ff"/>
<rect x="358.00" y="143.04" width="9.70" height="9.65" fill="#00a1ff"/>
<rect x="367.40" y="143.04" width="9.70" height="9.65" fill="#007dff"/>
<rect x="376.80" y="143.04" width="9.70" height="9.65" fill="#006cff"/>
<rect x="386.20" y="143.04" width="9.70" height="9.65" fill="#0065ff"/>
<rect x="395.60" y="143.04" width="9.70" height="9.65" fill="#005bff"/>
<rect x="405.00" y="143.04" width="9.70" height="9.65" fill="#0059ff"/>
<rect x="414.40" y="143.04" width="9.70" height="9.65" fill="#0055ff"/>
<rect x="423.80" y="143.04" width="9.70" height="9.65" fill="#004eff"/>
<rect x="433.20" y="143.04" width="9.70" height="9.65" fill="#0044ff"/>
<rect x="442.60" y="143.04" width="9.70" height="9.65" fill="#0037ff"/>
<rect x="452.00" y="143.04" width="6.90" height="9.65" fill="#002eff"/>
<rect x="128.40" y="152.39" width="13.70" height="9.65" fill="#dfff20"/>
<rect x="141.80" y="152.39" width="9.70" height="9.65" fill="#d8ff27"/>
<rect x="151.20" y="152.39" width="9.70" height="9.65" fill="#d1ff2e"/>
<rect x="160.60" y="152.39" width="9.70" height="9.65" fill="#caff35"/>
<rect x="170.00" y="152.39" width="9.70" height="9.65" fill="#c1ff3e"/>
<rect x="179.40" y="152.39" width="9.70" height="9.65" fill="#afff50"/>
<rect x="188.80" y="152.39" width="9.70" height="9.65" fill="#96ff69"/>
<rect x="198.20" y="152.39" width="9.70" height="9.65" fill="#7cff83"/>
<rect x="207.60" y="152.39" width="9.70" height="9.65" fill="#65ff9a"/>
<rect x="217.00" y="152.39" width="9.70" height="9.65" fill="#52ffad"/>
<rect x="226.40" y="152.39" width="9.70" height="9.65" fill="#42ffbd"/>
<rect x="235.80" y="152.39" width="9.70" height="9.65" fill="#36ffc9"/>
<rect x="245.20" y="152.39" width="9.70" height="9.65" fill="#2effd1"/>
<rect x="254.60" y="152.39" width="9.70" height="9.65" fill="#2affd5"/>
<rect x="264.00" y="152.39" width="9.70" height="9.65" fill="#2affd5"/>
<rect x="273.40" y="152.39" width="9.70" height="9.65" fill="#27ffd8"/>
<rect x="282.80" y="152.39" width="9.70" height="9.65" fill="#1fffe0"/>
<rect x="292.20" y="152.39" width="9.70" height="9.65" fill="#19ffe6"/>
<rect x="301.60" y="152.39" width="9.70" height="9.65" fill="#13ffec"/>
<rect x="311.00" y="152.39" width="9.70" height="9.65" fill="#00d5ff"/>
<rect x="320.40" y="152.39" width="9.70" height="9.65" fill="#07fff8"/>
<rect x="329.80" y="152.39" width="9.70" height="9.65" fill="#0afff5"/>
<rect x="339.20" y="152.39" width="9.70" height="9.65" fill="#07fff8"/>
<rect x="348.60" y="152.39" width="9.70" height="9.65" fill="#00e2ff"/>
<rect x="358.00" y="152.39" width="9.70" height="9.65" fill="#00a2ff"/>
<rect x="367.40" y="152.39" width="9.70" height="9.65" fill="#007dff"/>
<rect x="376.80" y="152.39" width="9.70" height="9.65" fill="#0071ff"/>
<rect x="386.20" y="152.39" width="9.70" height="9.65" fill="#006cff"/>
<rect x="395.60" y="152.39" width="9.70" height="9.65" fill="#0066ff"/>
<rect x="405.00" y="152.39" width="9.70" height="9.65" fill="#0065ff"/>
<rect x="414.40" y="152.39" width="9.70" height="9.65" fill="#0062ff"/>
<rect x="423.80" y="152.39" width="9.70" height="9.65" fill="#005bff"/>
<rect x="433.20" y="152.39" width="9.70" height="9.65" fill="#0050ff"/>
<rect x="442.60" y="152.39" width="9.70" height="9.65" fill="#0043ff"/>
<rect x="452.00" y="152.39" width="6.90" height="9.65" fill="#003aff"/>
<rect x="128.40" y="161.74" width="13.70" height="9.65" fill="#fdff02"/>
<rect x="141.80" y="161.74" width="9.70" height="9.65" fill="#f1ff0e"/>
<rect x="151.20" y="161.74" width="9.70" height="9.65" fill="#e7ff18"/>
<rect x="160.60" y="161.74" width="9.70" height="9.65" fill="#dfff20"/>
<rect x="170.00" y="161.74" width="9.70" height="9.65" fill="#d8ff27"/>
<rect x="179.40" y="161.74" width="9.70" height="9.65" fill="#c9ff36"/>
<rect x="188.80" y="161.74" width="9.70" height="9.65" fill="#b4ff4b"/>
<rect x="198.20" y="161.74" width="9.70" height="9.65" fill="#9cff63"/>
<rect x="207.60" y="161.74" width="9.70" height="9.65" fill="#86ff79"/>
<rect x="217.00" y="161.74" width="9.70" height="9.65" fill="#73ff8c"/>
<rect x="226.40" y="161.74" width="9.70" height="9.65" fill="#65ff9a"/>
<rect x="235.80" y="161.74" width="9.70" height="9.65" fill="#5affa5"/>
<rect x="245.20" y="161.74" width="9.70" height="9.65" fill="#52ffad"/>
<rect x="254.60" y="161.74" width="9.70" height="9.65" fill="#4effb1"/>
<rect x="264.00" y="161.74" width="9.70" height="9.65" fill="#49ffb6"/>
<rect x="273.40" y="161.74" width="9.70" height="9.65" fill="#42ffbd"/>
<rect x="282.80" y="161.74" width="9.70" height="9.65" fill="#32ffcd"/>
<rect x="292.20" y="161.74" width="9.70" height="9.65" fill="#26ffd9"/>
<rect x="301.60" y="161.74" width="9.70" height="9.65" fill="#00c2ff"/>
<rect x="311.00" y="161.74" width="9.70" height="9.65" fill="#004bff"/>
<rect x="320.40" y="161.74" width="9.70" height="9.65" fill="#00c2ff"/>
<rect x="329.80" y="161.74" width="9.70" height="9.65" fill="#08fff7"/>
<rect x="339.20" y="161.74" width="9.70" height="9.65" fill="#07fff8"/>
<rect x="348.60" y="161.74" width="9.70" height="9.65" fill="#00e1ff"/>
<rect x="358.00" y="161.74" width="9.70" height="9.65" fill="#00a4ff"/>
<rect x="367.40" y="161.74" width="9.70" height="9.65" fill="#007fff"/>
<rect x="376.80" y="161.74" width="9.70" height="9.65" fill="#0079ff"/>
<rect x="386.20" y="161.74" width="9.70" height="9.65" fill="#000aff"/>
<rect x="395.60" y="161.74" width="9.70" height="9.65" fill="#007bff"/>
<rect x="405.00" y="161.74" width="9.70" height="9.65" fill="#007aff"/>
<rect x="414.40" y="161.74" width="9.70" height="9.65" fill="#0075ff"/>
<rect x="423.80" y="161.74" width="9.70" height="9.65" fill="#006bff"/>
<rect x="433.20" y="161.74" width="9.70" height="9.65" fill="#005eff"/>
<rect x="442.60" y="161.74" width="9.70" height="9.65" fill="#004fff"/>
<rect x="452.00" y="161.74" width="6.90" height="9.65" fill="#0045ff"/>
<rect x="128.40" y="171.09" width="13.70" height="9.65" fill="#ffd600"/>
<rect x="141.80" y="171.09" width="9.70" height="9.65" fill="#ffe800"/>
<rect x="151.20" y="171.09" width="9.70" height="9.65" fill="#fffe00"/>
<rect x="160.60" y="171.09" width="9.70" height="9.65" fill="#f1ff0e"/>
<rect x="170.00" y="171.09" width="9.70" height="9.65" fill="#e8ff17"/>
<rect x="179.40" y="171.09" width="9.70" height="9.65" fill="#ddff22"/>
<rect x="188.80" y="171.09" width="9.70" height="9.65" fill="#cbff34"/>
<rect x="198.20" y="171.09" width="9.70" height="9.65" fill="#b5ff4a"/>
<rect x="207.60" y="171.09" width="9.70" height="9.65" fill="#a0ff5f"/>
<rect x="217.00" y="171.09" width="9.70" height="9.65" fill="#8fff70"/>
<rect x="226.40" y="171.09" width="9.70" height="9.65" fill="#83ff7c"/>
<rect x="235.80" y="171.09" width="9.70" height="9.65" fill="#7bff84"/>
<rect x="245.20" y="171.09" width="9.70" height="9.65" fill="#75ff8a"/>
<rect x="254.60" y="171.09" width="9.70" height="9.65" fill="#6fff90"/>
<rect x="264.00" y="171.09" width="9.70" height="9.65" fill="#66ff99"/>
<rect x="273.40" y="171.09" width="9.70" height="9.65" fill="#59ffa6"/>
<rect x="282.80" y="171.09" width="9.70" height="9.65" fill="#46ffb9"/>
<rect x="292.20" y="171.09" width="9.70" height="9.65" fill="#2fffd0"/>
<rect x="301.60" y="171.09" width="9.70" height="9.65" fill="#00d5ff"/>
<rect x="311.00" y="171.09" width="9.70" height="9.65" fill="#0081ff"/>
<rect x="320.40" y="171.09" width="9.70" height="9.65" fill="#00d5ff"/>
<rect x="329.80" y="171.09" width="9.70" height="9.65" fill="#0bfff4"/>
<rect x="339.20" y="171.09" width="9.70" height="9.65" fill="#04fffb"/>
<rect x="348.60" y="171.09" width="9.70" height="9.65" fill="#00dbff"/>
<rect x="358.00" y="171.09" width="9.70" height="9.65" fill="#00a5ff"/>
<rect x="367.40" y="171.09" width="9.70" height="9.65" fill="#0083ff"/>
<rect x="376.80" y="171.09" width="9.70" height="9.65" fill="#007fff"/>
<rect x="386.20" y="171.09" width="9.70" height="9.65" fill="#0086ff"/>
<rect x="395.60" y="171.09" width="9.70" height="9.65" fill="#0091ff"/>
<rect x="405.00" y="171.09" width="9.70" height="9.65" fill="#0092ff"/>
<rect x="414.40" y="171.09" width="9.70" height="9.65" fill="#0089ff"/>
<rect x="423.80" y="171.09" width="9.70" height="9.65" fill="#007bff"/>
<rect x="433.20" y="171.09" width="9.70" height="9.65" fill="#006cff"/>
<rect x="442.60" y="171.09" width="9.70" height="9.65" fill="#005bff"/>
<rect x="452.00" y="171.09" width="6.90" height="9.65" fill="#0050ff"/>
<rect x="128.40" y="180.45" width="13.70" height="9.65" fill="#ff8200"/>
<rect x="141.80" y="180.45" width="9.70" height="9.65" fill="#ff8d00"/>
<rect x="151.20" y="180.45" width="9.70" height="9.65" fill="#ffc300"/>
<rect x="160.60" y="180.45" width="9.70" height="9.65" fill="#ffec00"/>
<rect x="170.00" y="180.45" width="9.70" height="9.65" fill="#fcff03"/>
<rect x="179.40" y="180.45" width="9.70" height="9.65" fill="#eeff11"/>
<rect x="188.80" y="180.45" width="9.70" height="9.65" fill="#dfff20"/>
<rect x="198.20" y="180.45" width="9.70" height="9.65" fill="#caff35"/>
<rect x="207.60" y="180.45" width="9.70" height="9.65" fill="#b6ff49"/>
<rect x="217.00" y="180.45" width="9.70" height="9.65" fill="#a6ff59"/>
<rect x="226.40" y="180.45" width="9.70" height="9.65" fill="#9cff63"/>
<rect x="235.80" y="180.45" width="9.70" height="9.65" fill="#97ff68"/>
<rect x="245.20" y="180.45" width="9.70" height="9.65" fill="#95ff6a"/>
<rect x="254.60" y="180.45" width="9.70" height="9.65" fill="#90ff6f"/>
<rect x="264.00" y="180.45" width="9.70" height="9.65" fill="#86ff79"/>
<rect x="273.40" y="180.45" width="9.70" height="9.65" fill="#79ff86"/>
<rect x="282.80" y="180.45" width="9.70" height="9.65" fill="#6dff92"/>
<rect x="292.20" y="180.45" width="9.70" height="9.65" fill="#51ffae"/>
<rect x="301.60" y="180.45" width="9.70" height="9.65" fill="#22ffdd"/>
<rect x="311.00" y="180.45" width="9.70" height="9.65" fill="#00cdff"/>
<rect x="320.40" y="180.45" width="9.70" height="9.65" fill="#06fff9"/>
<rect x="329.80" y="180.45" width="9.70" height="9.65" fill="#0efff1"/>
<rect x="339.20" y="180.45" width="9.70" height="9.65" fill="#06fff9"/>
<rect x="348.60" y="180.45" width="9.70" height="9.65" fill="#00e0ff"/>
<rect x="358.00" y="180.45" width="9.70" height="9.65" fill="#00adff"/>
<rect x="367.40" y="180.45" width="9.70" height="9.65" fill="#008cff"/>
<rect x="376.80" y="180.45" width="9.70" height="9.65" fill="#0091ff"/>
<rect x="386.20" y="180.45" width="9.70" height="9.65" fill="#009eff"/>
<rect x="395.60" y="180.45" width="9.70" height="9.65" fill="#00a9ff"/>
<rect x="405.00" y="180.45" width="9.70" height="9.65" fill="#00a8ff"/>
<rect x="414.40" y="180.45" width="9.70" height="9.65" fill="#009cff"/>
<rect x="423.80" y="180.45" width="9.70" height="9.65" fill="#008bff"/>
<rect x="433.20" y="180.45" width="9.70" height="9.65" fill="#0078ff"/>
<rect x="442.60" y="180.45" width="9.70" height="9.65" fill="#0065ff"/>
<rect x="452.00" y="180.45" width="6.90" height="9.65" fill="#0059ff"/>
<rect x="128.40" y="189.80" width="13.70" height="11.50" fill="#ff4000"/>
<rect x="141.80" y="189.80" width="9.70" height="11.50" fill="#ff2600"/>
<rect x="151.20" y="189.80" width="9.70" height="11.50" fill="#ff4a00"/>
<rect x="160.60" y="189.80" width="9.70" height="11.50" fill="#ff8600"/>
<rect x="170.00" y="189.80" width="9.70" height="11.50" fill="#ffe100"/>
<rect x="179.40" y="189.80" width="9.70" height="11.50" fill="#fff600"/>
<rect x="188.80" y="189.80" width="9.70" height="11.50" fill="#f6ff09"/>
<rect x="198.20" y="189.80" width="9.70" height="11.50" fill="#e0ff1f"/>
<rect x="207.60" y="189.80" width="9.70" height="11.50" fill="#caff35"/>
<rect x="217.00" y="189.80" width="9.70" height="11.50" fill="#baff45"/>
<rect x="226.40" y="189.80" width="9.70" height="11.50" fill="#b3ff4c"/>
<rect x="235.80" y="189.80" width="9.70" height="11.50" fill="#b2ff4d"/>
<rect x="245.20" y="189.80" width="9.70" height="11.50" fill="#b6ff49"/>
<rect x="254.60" y="189.80" width="9.70" height="11.50" fill="#b6ff49"/>
<rect x="264.00" y="189.80" width="9.70" height="11.50" fill="#adff52"/>
<rect x="273.40" y="189.80" width="9.70" height="11.50" fill="#a6ff59"/>
<rect x="282.80" y="189.80" width="9.70" height="11.50" fill="#afff50"/>
<rect x="292.20" y="189.80" width="9.70" height="11.50" fill="#b2ff4d"/>
<rect x="301.60" y="189.80" width="9.70" height="11.50" fill="#6aff95"/>
<rect x="311.00" y="189.80" width="9.70" height="11.50" fill="#28ffd7"/>
<rect x="320.40" y="189.80" width="9.70" height="11.50" fill="#19ffe6"/>
<rect x="329.80" y="189.80" width="9.70" height="11.50" fill="#17ffe8"/>
<rect x="339.20" y="189.80" width="9.70" height="11.50" fill="#0ffff0"/>
<rect x="348.60" y="189.80" width="9.70" height="11.50" fill="#00f3ff"/>
<rect x="358.00" y="189.80" width="9.70" height="11.50" fill="#00cdff"/>
<rect x="367.40" y="189.80" width="9.70" height="11.50" fill="#00b9ff"/>
<rect x="376.80" y="189.80" width="9.70" height="11.50" fill="#00c6ff"/>
<rect x="386.20" y="189.80" width="9.70" height="11.50" fill="#00d0ff"/>
<rect x="395.60" y="189.80" width="9.70" height="11.50" fill="#00ceff"/>
<rect x="405.00" y="189.80" width="9.70" height="11.50" fill="#00c1ff"/>
<rect x="414.40" y="189.80" width="9.70" height="11.50" fill="#00adff"/>
<rect x="423.80" y="189.80" width="9.70" height="11.50" fill="#0098ff"/>
<rect x="433.20" y="189.80" width="9.70" height="11.50" fill="#0084ff"/>
<rect x="442.60" y="189.80" width="9.70" height="11.50" fill="#006fff"/>
<rect x="452.00" y="189.80" width="6.90" height="11.50" fill="#0062ff"/>
<rect x="128.40" y="201.00" width="13.70" height="11.50" fill="#df0000"/>
<rect x="141.80" y="201.00" width="9.70" height="11.50" fill="#c50000"/>
<rect x="151.20" y="201.00" width="9.70" height="11.50" fill="#ff1900"/>
<rect x="160.60" y="201.00" width="9.70" height="11.50" fill="#ff7200"/>
<rect x="170.00" y="201.00" width="9.70" height="11.50" fill="#ffb700"/>
<rect x="179.40" y="201.00" width="9.70" height="11.50" fill="#ffce00"/>
<rect x="188.80" y="201.00" width="9.70" height="11.50" fill="#ffe500"/>
<rect x="198.20" y="201.00" width="9.70" height="11.50" fill="#ffff00"/>
<rect x="207.60" y="201.00" width="9.70" height="11.50" fill="#e5ff1a"/>
<rect x="217.00" y="201.00" width="9.70" height="11.50" fill="#d3ff2c"/>
<rect x="226.40" y="201.00" width="9.70" height="11.50" fill="#caff35"/>
<rect x="235.80" y="201.00" width="9.70" height="11.50" fill="#c9ff36"/>
<rect x="245.20" y="201.00" width="9.70" height="11.50" fill="#d0ff2f"/>
<rect x="254.60" y="201.00" width="9.70" height="11.50" fill="#d7ff28"/>
<rect x="264.00" y="201.00" width="9.70" height="11.50" fill="#ccff33"/>
<rect x="273.40" y="201.00" width="9.70" height="11.50" fill="#c9ff36"/>
<rect x="282.80" y="201.00" width="9.70" height="11.50" fill="#d7ff28"/>
<rect x="292.20" y="201.00" width="9.70" height="11.50" fill="#ffc000"/>
<rect x="301.60" y="201.00" width="9.70" height="11.50" fill="#bdff42"/>
<rect x="311.00" y="201.00" width="9.70" height="11.50" fill="#72ff8d"/>
<rect x="320.40" y="201.00" width="9.70" height="11.50" fill="#47ffb8"/>
<rect x="329.80" y="201.00" width="9.70" height="11.50" fill="#2dffd2"/>
<rect x="339.20" y="201.00" width="9.70" height="11.50" fill="#1cffe3"/>
<rect x="348.60" y="201.00" width="9.70" height="11.50" fill="#09fff6"/>
<rect x="358.00" y="201.00" width="9.70" height="11.50" fill="#00f3ff"/>
<rect x="367.40" y="201.00" width="9.70" height="11.50" fill="#a9ff56"/>
<rect x="376.80" y="201.00" width="9.70" height="11.50" fill="#00f8ff"/>
<rect x="386.20" y="201.00" width="9.70" height="11.50" fill="#00fbff"/>
<rect x="395.60" y="201.00" width="9.70" height="11.50" fill="#00efff"/>
<rect x="405.00" y="201.00" width="9.70" height="11.50" fill="#00d8ff"/>
<rect x="414.40" y="201.00" width="9.70" height="11.50" fill="#00bcff"/>
<rect x="423.80" y="201.00" width="9.70" height="11.50" fill="#00a3ff"/>
<rect x="433.20" y="201.00" width="9.70" height="11.50" fill="#008dff"/>
<rect x="442.60" y="201.00" width="9.70" height="11.50" fill="#0076ff"/>
<rect x="452.00" y="201.00" width="6.90" height="11.50" fill="#0068ff"/>
<rect x="128.40" y="212.20" width="13.70" height="11.50" fill="#ff0e00"/>
<rect x="141.80" y="212.20" width="9.70" height="11.50" fill="#ff0e00"/>
<rect x="151.20" y="212.20" width="9.70" height="11.50" fill="#ff3100"/>
<rect x="160.60" y="212.20" width="9.70" height="11.50" fill="#ff8600"/>
<rect x="170.00" y="212.20" width="9.70" height="11.50" fill="#ff9900"/>
<rect x="179.40" y="212.20" width="9.70" height="11.50" fill="#ffa600"/>
<rect x="188.80" y="212.20" width="9.70" height="11.50" fill="#ffc200"/>
<rect x="198.20" y="212.20" width="9.70" height="11.50" fill="#ffde00"/>
<rect x="207.60" y="212.20" width="9.70" height="11.50" fill="#fff500"/>
<rect x="217.00" y="212.20" width="9.70" height="11.50" fill="#f6ff09"/>
<rect x="226.40" y="212.20" width="9.70" height="11.50" fill="#e9ff16"/>
<rect x="235.80" y="212.20" width="9.70" height="11.50" fill="#e2ff1d"/>
<rect x="245.20" y="212.20" width="9.70" height="11.50" fill="#e4ff1b"/>
<rect x="254.60" y="212.20" width="9.70" height="11.50" fill="#dcff23"/>
<rect x="264.00" y="212.20" width="9.70" height="11.50" fill="#d2ff2d"/>
<rect x="273.40" y="212.20" width="9.70" height="11.50" fill="#d3ff2c"/>
<rect x="282.80" y="212.20" width="9.70" height="11.50" fill="#dfff20"/>
<rect x="292.20" y="212.20" width="9.70" height="11.50" fill="#e2ff1d"/>
<rect x="301.60" y="212.20" width="9.70" height="11.50" fill="#cbff34"/>
<rect x="311.00" y="212.20" width="9.70" height="11.50" fill="#a0ff5f"/>
<rect x="320.40" y="212.20" width="9.70" height="11.50" fill="#73ff8c"/>
<rect x="329.80" y="212.20" width="9.70" height="11.50" fill="#4affb5"/>
<rect x="339.20" y="212.20" width="9.70" height="11.50" fill="#2affd5"/>
<rect x="348.60" y="212.20" width="9.70" height="11.50" fill="#14ffeb"/>
<rect x="358.00" y="212.20" width="9.70" height="11.50" fill="#0afff5"/>
<rect x="367.40" y="212.20" width="9.70" height="11.50" fill="#0afff5"/>
<rect x="376.80" y="212.20" width="9.70" height="11.50" fill="#11ffee"/>
<rect x="386.20" y="212.20" width="9.70" height="11.50" fill="#13ffec"/>
<rect x="395.60" y="212.20" width="9.70" height="11.50" fill="#09fff6"/>
<rect x="405.00" y="212.20" width="9.70" height="11.50" fill="#00eeff"/>
<rect x="414.40" y="212.20" width="9.70" height="11.50" fill="#00caff"/>
<rect x="423.80" y="212.20" width="9.70" height="11.50" fill="#00aaff"/>
<rect x="433.20" y="212.20" width="9.70" height="11.50" fill="#0091ff"/>
<rect x="442.60" y="212.20" width="9.70" height="11.50" fill="#0078ff"/>
<rect x="452.00" y="212.20" width="6.90" height="11.50" fill="#0069ff"/>
<rect x="128.40" y="223.40" width="13.70" height="11.50" fill="#ff3100"/>
<rect x="141.80" y="223.40" width="9.70" height="11.50" fill="#ff4000"/>
<rect x="151.20" y="223.40" width="9.70" height="11.50" fill="#ff4a00"/>
<rect x="160.60" y="223.40" width="9.70" height="11.50" fill="#ff8600"/>
<rect x="170.00" y="223.40" width="9.70" height="11.50" fill="#ff9700"/>
<rect x="179.40" y="223.40" width="9.70" height="11.50" fill="#ffa100"/>
<rect x="188.80" y="223.40" width="9.70" height="11.50" fill="#ffb400"/>
<rect x="198.20" y="223.40" width="9.70" height="11.50" fill="#ffc800"/>
<rect x="207.60" y="223.40" width="9.70" height="11.50" fill="#ffd800"/>
<rect x="217.00" y="223.40" width="9.70" height="11.50" fill="#ffe700"/>
<rect x="226.40" y="223.40" width="9.70" height="11.50" fill="#fff200"/>
<rect x="235.80" y="223.40" width="9.70" height="11.50" fill="#fff500"/>
<rect x="245.20" y="223.40" width="9.70" height="11.50" fill="#fff300"/>
<rect x="254.60" y="223.40" width="9.70" height="11.50" fill="#feff01"/>
<rect x="264.00" y="223.40" width="9.70" height="11.50" fill="#e2ff1d"/>
<rect x="273.40" y="223.40" width="9.70" height="11.50" fill="#dbff24"/>
<rect x="282.80" y="223.40" width="9.70" height="11.50" fill="#f0ff0f"/>
<rect x="292.20" y="223.40" width="9.70" height="11.50" fill="#f0ff0f"/>
<rect x="301.60" y="223.40" width="9.70" height="11.50" fill="#dbff24"/>
<rect x="311.00" y="223.40" width="9.70" height="11.50" fill="#bcff43"/>
<rect x="320.40" y="223.40" width="9.70" height="11.50" fill="#9bff64"/>
<rect x="329.80" y="223.40" width="9.70" height="11.50" fill="#6fff90"/>
<rect x="339.20" y="223.40" width="9.70" height="11.50" fill="#3dffc2"/>
<rect x="348.60" y="223.40" width="9.70" height="11.50" fill="#21ffde"/>
<rect x="358.00" y="223.40" width="9.70" height="11.50" fill="#19ffe6"/>
<rect x="367.40" y="223.40" width="9.70" height="11.50" fill="#1cffe3"/>
<rect x="376.80" y="223.40" width="9.70" height="11.50" fill="#21ffde"/>
<rect x="386.20" y="223.40" width="9.70" height="11.50" fill="#25ffda"/>
<rect x="395.60" y="223.40" width="9.70" height="11.50" fill="#20ffdf"/>
<rect x="405.00" y="223.40" width="9.70" height="11.50" fill="#4bffb4"/>
<rect x="414.40" y="223.40" width="9.70" height="11.50" fill="#00d7ff"/>
<rect x="423.80" y="223.40" width="9.70" height="11.50" fill="#00a7ff"/>
<rect x="433.20" y="223.40" width="9.70" height="11.50" fill="#0091ff"/>
<rect x="442.60" y="223.40" width="9.70" height="11.50" fill="#000aff"/>
<rect x="452.00" y="223.40" width="6.90" height="11.50" fill="#0068ff"/>
<rect x="128.40" y="234.60" width="13.70" height="11.50" fill="#ff2c00"/>
<rect x="141.80" y="234.60" width="9.70" height="11.50" fill="#ff3e00"/>
<rect x="151.20" y="234.60" width="9.70" height="11.50" fill="#ff6100"/>
<rect x="160.60" y="234.60" width="9.70" height="11.50" fill="#ff8500"/>
<rect x="170.00" y="234.60" width="9.70" height="11.50" fill="#ff9a00"/>
<rect x="179.40" y="234.60" width="9.70" height="11.50" fill="#ffa800"/>
<rect x="188.80" y="234.60" width="9.70" height="11.50" fill="#ffb700"/>
<rect x="198.20" y="234.60" width="9.70" height="11.50" fill="#ffc500"/>
<rect x="207.60" y="234.60" width="9.70" height="11.50" fill="#ffce00"/>
<rect x="217.00" y="234.60" width="9.70" height="11.50" fill="#ffd600"/>
<rect x="226.40" y="234.60" width="9.70" height="11.50" fill="#ffdc00"/>
<rect x="235.80" y="234.60" width="9.70" height="11.50" fill="#ffdd00"/>
<rect x="245.20" y="234.60" width="9.70" height="11.50" fill="#ffdd00"/>
<rect x="254.60" y="234.60" width="9.70" height="11.50" fill="#ffe700"/>
<rect x="264.00" y="234.60" width="9.70" height="11.50" fill="#fff700"/>
<rect x="273.40" y="234.60" width="9.70" height="11.50" fill="#fff500"/>
<rect x="282.80" y="234.60" width="9.70" height="11.50" fill="#ffd700"/>
<rect x="292.20" y="234.60" width="9.70" height="11.50" fill="#ffbe00"/>
<rect x="301.60" y="234.60" width="9.70" height="11.50" fill="#ffd700"/>
<rect x="311.00" y="234.60" width="9.70" height="11.50" fill="#cfff30"/>
<rect x="320.40" y="234.60" width="9.70" height="11.50" fill="#b7ff48"/>
<rect x="329.80" y="234.60" width="9.70" height="11.50" fill="#93ff6c"/>
<rect x="339.20" y="234.60" width="9.70" height="11.50" fill="#64ff9b"/>
<rect x="348.60" y="234.60" width="9.70" height="11.50" fill="#41ffbe"/>
<rect x="358.00" y="234.60" width="9.70" height="11.50" fill="#31ffce"/>
<rect x="367.40" y="234.60" width="9.70" height="11.50" fill="#2fffd0"/>
<rect x="376.80" y="234.60" width="9.70" height="11.50" fill="#2effd1"/>
<rect x="386.20" y="234.60" width="9.70" height="11.50" fill="#30ffcf"/>
<rect x="395.60" y="234.60" width="9.70" height="11.50" fill="#31ffce"/>
<rect x="405.00" y="234.60" width="9.70" height="11.50" fill="#20ffdf"/>
<rect x="414.40" y="234.60" width="9.70" height="11.50" fill="#00e7ff"/>
<rect x="423.80" y="234.60" width="9.70" height="11.50" fill="#00afff"/>
<rect x="433.20" y="234.60" width="9.70" height="11.50" fill="#0094ff"/>
<rect x="442.60" y="234.60" width="9.70" height="11.50" fill="#002bff"/>
<rect x="452.00" y="234.60" width="6.90" height="11.50" fill="#006dff"/>
<rect x="128.40" y="245.80" width="13.70" height="11.50" fill="#ff4c00"/>
<rect x="141.80" y="245.80" width="9.70" height="11.50" fill="#ff5f00"/>
<rect x="151.20" y="245.80" width="9.70" height="11.50" fill="#ff7600"/>
<rect x="160.60" y="245.80" width="9.70" height="11.50" fill="#ff8b00"/>
<rect x="170.00" y="245.80" width="9.70" height="11.50" fill="#ff9900"/>
<rect x="179.40" y="245.80" width="9.70" height="11.50" fill="#ffa700"/>
<rect x="188.80" y="245.80" width="9.70" height="11.50" fill="#ffb800"/>
<rect x="198.20" y="245.80" width="9.70" height="11.50" fill="#ffc600"/>
<rect x="207.60" y="245.80" width="9.70" height="11.50" fill="#ffcc00"/>
<rect x="217.00" y="245.80" width="9.70" height="11.50" fill="#ffd000"/>
<rect x="226.40" y="245.80" width="9.70" height="11.50" fill="#ffd400"/>
<rect x="235.80" y="245.80" width="9.70" height="11.50" fill="#ffd600"/>
<rect x="245.20" y="245.80" width="9.70" height="11.50" fill="#ffd800"/>
<rect x="254.60" y="245.80" width="9.70" height="11.50" fill="#ffdd00"/>
<rect x="264.00" y="245.80" width="9.70" height="11.50" fill="#ffe300"/>
<rect x="273.40" y="245.80" width="9.70" height="11.50" fill="#ffe100"/>
<rect x="282.80" y="245.80" width="9.70" height="11.50" fill="#ffbe00"/>
<rect x="292.20" y="245.80" width="9.70" height="11.50" fill="#ff5a00"/>
<rect x="301.60" y="245.80" width="9.70" height="11.50" fill="#ffbe00"/>
<rect x="311.00" y="245.80" width="9.70" height="11.50" fill="#e3ff1c"/>
<rect x="320.40" y="245.80" width="9.70" height="11.50" fill="#caff35"/>
<rect x="329.80" y="245.80" width="9.70" height="11.50" fill="#b0ff4f"/>
<rect x="339.20" y="245.80" width="9.70" height="11.50" fill="#90ff6f"/>
<rect x="348.60" y="245.80" width="9.70" height="11.50" fill="#6fff90"/>
<rect x="358.00" y="245.80" width="9.70" height="11.50" fill="#54ffab"/>
<rect x="367.40" y="245.80" width="9.70" height="11.50" fill="#40ffbf"/>
<rect x="376.80" y="245.80" width="9.70" height="11.50" fill="#33ffcc"/>
<rect x="386.20" y="245.80" width="9.70" height="11.50" fill="#32ffcd"/>
<rect x="395.60" y="245.80" width="9.70" height="11.50" fill="#2effd1"/>
<rect x="405.00" y="245.80" width="9.70" height="11.50" fill="#1affe5"/>
<rect x="414.40" y="245.80" width="9.70" height="11.50" fill="#00f0ff"/>
<rect x="423.80" y="245.80" width="9.70" height="11.50" fill="#007cff"/>
<rect x="433.20" y="245.80" width="9.70" height="11.50" fill="#00b1ff"/>
<rect x="442.60" y="245.80" width="9.70" height="11.50" fill="#00a3ff"/>
<rect x="452.00" y="245.80" width="6.90" height="11.50" fill="#0099ff"/>
<rect x="128.40" y="257.00" width="13.70" height="11.50" fill="#ff5c00"/>
<rect x="141.80" y="257.00" width="9.70" height="11.50" fill="#ff6f00"/>
<rect x="151.20" y="257.00" width="9.70" height="11.50" fill="#ff8100"/>
<rect x="160.60" y="257.00" width="9.70" height="11.50" fill="#ff8c00"/>
<rect x="170.00" y="257.00" width="9.70" height="11.50" fill="#ff9200"/>
<rect x="179.40" y="257.00" width="9.70" height="11.50" fill="#ff9e00"/>
<rect x="188.80" y="257.00" width="9.70" height="11.50" fill="#ffb000"/>
<rect x="198.20" y="257.00" width="9.70" height="11.50" fill="#ffbf00"/>
<rect x="207.60" y="257.00" width="9.70" height="11.50" fill="#ffc800"/>
<rect x="217.00" y="257.00" width="9.70" height="11.50" fill="#ffcd00"/>
<rect x="226.40" y="257.00" width="9.70" height="11.50" fill="#ffd000"/>
<rect x="235.80" y="257.00" width="9.70" height="11.50" fill="#ffd300"/>
<rect x="245.20" y="257.00" width="9.70" height="11.50" fill="#ffd700"/>
<rect x="254.60" y="257.00" width="9.70" height="11.50" fill="#ffdc00"/>
<rect x="264.00" y="257.00" width="9.70" height="11.50" fill="#ffe100"/>
<rect x="273.40" y="257.00" width="9.70" height="11.50" fill="#ffe200"/>
<rect x="282.80" y="257.00" width="9.70" height="11.50" fill="#ffd700"/>
<rect x="292.20" y="257.00" width="9.70" height="11.50" fill="#ffbe00"/>
<rect x="301.60" y="257.00" width="9.70" height="11.50" fill="#ffd700"/>
<rect x="311.00" y="257.00" width="9.70" height="11.50" fill="#faff05"/>
<rect x="320.40" y="257.00" width="9.70" height="11.50" fill="#e0ff1f"/>
<rect x="329.80" y="257.00" width="9.70" height="11.50" fill="#ccff33"/>
<rect x="339.20" y="257.00" width="9.70" height="11.50" fill="#b6ff49"/>
<rect x="348.60" y="257.00" width="9.70" height="11.50" fill="#97ff68"/>
<rect x="358.00" y="257.00" width="9.70" height="11.50" fill="#73ff8c"/>
<rect x="367.40" y="257.00" width="9.70" height="11.50" fill="#54ffab"/>
<rect x="376.80" y="257.00" width="9.70" height="11.50" fill="#3fffc0"/>
<rect x="386.20" y="257.00" width="9.70" height="11.50" fill="#36ffc9"/>
<rect x="395.60" y="257.00" width="9.70" height="11.50" fill="#2cffd3"/>
<rect x="405.00" y="257.00" width="9.70" height="11.50" fill="#15ffea"/>
<rect x="414.40" y="257.00" width="9.70" height="11.50" fill="#00f4ff"/>
<rect x="423.80" y="257.00" width="9.70" height="11.50" fill="#00d9ff"/>
<rect x="433.20" y="257.00" width="9.70" height="11.50" fill="#00cbff"/>
<rect x="442.60" y="257.00" width="9.70" height="11.50" fill="#00c6ff"/>
<rect x="452.00" y="257.00" width="6.90" height="11.50" fill="#00c3ff"/>
<rect x="128.40" y="268.20" width="13.70" height="11.50" fill="#ff6800"/>
<rect x="141.80" y="268.20" width="9.70" height="11.50" fill="#ff7b00"/>
<rect x="151.20" y="268.20" width="9.70" height="11.50" fill="#ff8800"/>
<rect x="160.60" y="268.20" width="9.70" height="11.50" fill="#ff8e00"/>
<rect x="170.00" y="268.20" width="9.70" height="11.50" fill="#ff9000"/>
<rect x="179.40" y="268.20" width="9.70" height="11.50" fill="#ff9a00"/>
<rect x="188.80" y="268.20" width="9.70" height="11.50" fill="#ffab00"/>
<rect x="198.20" y="268.20" width="9.70" height="11.50" fill="#ffba00"/>
<rect x="207.60" y="268.20" width="9.70" height="11.50" fill="#ffc400"/>
<rect x="217.00" y="268.20" width="9.70" height="11.50" fill="#ffca00"/>
<rect x="226.40" y="268.20" width="9.70" height="11.50" fill="#ffce00"/>
<rect x="235.80" y="268.20" width="9.70" height="11.50" fill="#ffd100"/>
<rect x="245.20" y="268.20" width="9.70" height="11.50" fill="#ffd600"/>
<rect x="254.60" y="268.20" width="9.70" height="11.50" fill="#ffdc00"/>
<rect x="264.00" y="268.20" width="9.70" height="11.50" fill="#ffe100"/>
<rect x="273.40" y="268.20" width="9.70" height="11.50" fill="#ffe100"/>
<rect x="282.80" y="268.20" width="9.70" height="11.50" fill="#ffe100"/>
<rect x="292.20" y="268.20" width="9.70" height="11.50" fill="#ffe200"/>
<rect x="301.60" y="268.20" width="9.70" height="11.50" fill="#ffe900"/>
<rect x="311.00" y="268.20" width="9.70" height="11.50" fill="#fff900"/>
<rect x="320.40" y="268.20" width="9.70" height="11.50" fill="#f1ff0e"/>
<rect x="329.80" y="268.20" width="9.70" height="11.50" fill="#e0ff1f"/>
<rect x="339.20" y="268.20" width="9.70" height="11.50" fill="#cbff34"/>
<rect x="348.60" y="268.20" width="9.70" height="11.50" fill="#a9ff56"/>
<rect x="358.00" y="268.20" width="9.70" height="11.50" fill="#86ff79"/>
<rect x="367.40" y="268.20" width="9.70" height="11.50" fill="#67ff98"/>
<rect x="376.80" y="268.20" width="9.70" height="11.50" fill="#50ffaf"/>
<rect x="386.20" y="268.20" width="9.70" height="11.50" fill="#41ffbe"/>
<rect x="395.60" y="268.20" width="9.70" height="11.50" fill="#31ffce"/>
<rect x="405.00" y="268.20" width="9.70" height="11.50" fill="#16ffe9"/>
<rect x="414.40" y="268.20" width="9.70" height="11.50" fill="#00f9ff"/>
<rect x="423.80" y="268.20" width="9.70" height="11.50" fill="#00e3ff"/>
<rect x="433.20" y="268.20" width="9.70" height="11.50" fill="#00d6ff"/>
<rect x="442.60" y="268.20" width="9.70" height="11.50" fill="#00d2ff"/>
<rect x="452.00" y="268.20" width="6.90" height="11.50" fill="#00d0ff"/>
<rect x="128.40" y="279.40" width="13.70" height="15.50" fill="#ff7300"/>
<rect x="141.80" y="279.40" width="9.70" height="15.50" fill="#ff8400"/>
<rect x="151.20" y="279.40" width="9.70" height="15.50" fill="#ff8e00"/>
<rect x="160.60" y="279.40" width="9.70" height="15.50" fill="#ff9300"/>
<rect x="170.00" y="279.40" width="9.70" height="15.50" fill="#ff9800"/>
<rect x="179.40" y="279.40" width="9.70" height="15.50" fill="#ffa100"/>
<rect x="188.80" y="279.40" width="9.70" height="15.50" fill="#ffaf00"/>
<rect x="198.20" y="279.40" width="9.70" height="15.50" fill="#ffbb00"/>
<rect x="207.60" y="279.40" width="9.70" height="15.50" fill="#ffc300"/>
<rect x="217.00" y="279.40" width="9.70" height="15.50" fill="#ffc800"/>
<rect x="226.40" y="279.40" width="9.70" height="15.50" fill="#ffcb00"/>
<rect x="235.80" y="279.40" width="9.70" height="15.50" fill="#ffce00"/>
<rect x="245.20" y="279.40" width="9.70" height="15.50" fill="#ffd300"/>
<rect x="254.60" y="279.40" width="9.70" height="15.50" fill="#ffd800"/>
<rect x="264.00" y="279.40" width="9.70" height="15.50" fill="#ffdc00"/>
<rect x="273.40" y="279.40" width="9.70" height="15.50" fill="#ffde00"/>
<rect x="282.80" y="279.40" width="9.70" height="15.50" fill="#ffde00"/>
<rect x="292.20" y="279.40" width="9.70" height="15.50" fill="#ffe100"/>
<rect x="301.60" y="279.40" width="9.70" height="15.50" fill="#ffe900"/>
<rect x="311.00" y="279.40" width="9.70" height="15.50" fill="#fff800"/>
<rect x="320.40" y="279.40" width="9.70" height="15.50" fill="#f3ff0c"/>
<rect x="329.80" y="279.40" width="9.70" height="15.50" fill="#deff21"/>
<rect x="339.20" y="279.40" width="9.70" height="15.50" fill="#c7ff38"/>
<rect x="348.60" y="279.40" width="9.70" height="15.50" fill="#abff54"/>
<rect x="358.00" y="279.40" width="9.70" height="15.50" fill="#8dff72"/>
<rect x="367.40" y="279.40" width="9.70" height="15.50" fill="#70ff8f"/>
<rect x="376.80" y="279.40" width="9.70" height="15.50" fill="#58ffa7"/>
<rect x="386.20" y="279.40" width="9.70" height="15.50" fill="#43ffbc"/>
<rect x="395.60" y="279.40" width="9.70" height="15.50" fill="#2effd1"/>
<rect x="405.00" y="279.40" width="9.70" height="15.50" fill="#15ffea"/>
<rect x="414.40" y="279.40" width="9.70" height="15.50" fill="#00fcff"/>
<rect x="423.80" y="279.40" width="9.70" height="15.50" fill="#00ebff"/>
<rect x="433.20" y="279.40" width="9.70" height="15.50" fill="#00e0ff"/>
<rect x="442.60" y="279.40" width="9.70" height="15.50" fill="#00dcff"/>
<rect x="452.00" y="279.40" width="6.90" height="15.50" fill="#00d9ff"/>
</g></g>
<path d="M144.7,12.1 L149.2,18.2 L157.0,20.4 L165.0,21.5 L166.1,27.2 L171.7,29.4 L180.8,29.6 L186.4,30.8 L190.9,32.0 L192.3,36.2 L191.0,39.5 L187.1,45.0 L179.6,48.6 L172.1,50.4 L164.6,53.2 L157.0,56.2 L148.0,59.3 L145.6,61.0 L146.5,63.0 L148.5,63.2 L157.0,61.0 L167.6,57.0 L176.6,53.3 L187.1,48.8 L196.2,44.2 L203.0,40.8 L209.0,37.3 L216.8,30.6 L222.0,25.8 L226.5,22.6 L229.3,17.5 L231.5,15.2 L233.0,18.8 L238.0,21.2 L246.0,21.0 L250.5,18.6 L253.0,15.2 L265.0,14.7 L277.0,15.4 L288.3,19.1 L303.3,22.4 L312.0,25.4 L320.0,29.8 L331.3,31.7 L340.7,38.8 L345.4,42.6 L351.0,51.0 L355.7,54.8 L363.2,57.6 L366.0,65.1 L370.0,70.0 L374.5,74.5 L379.0,81.0 L382.0,86.0 L384.0,89.6 L395.0,93.4 L405.0,99.4 L413.5,108.6 L407.0,108.0 L401.5,108.6 L402.0,113.0 L404.3,121.0 L403.5,130.0 L402.5,140.0 L402.3,148.9 L402.3,165.8 L406.0,175.2 L412.6,184.6 L418.3,195.6 L424.8,204.0 L427.7,210.7 L437.0,213.5 L445.5,220.0 L452.0,229.5 L454.6,237.0 L454.6,12.1Z" fill="#000"/>
<ellipse cx="137.7" cy="19.7" rx="5" ry="1.8" fill="#000"/>
<ellipse cx="134" cy="66.8" rx="2.3" ry="2" fill="#000"/>
<ellipse cx="218" cy="39" rx="7.5" ry="2.9" transform="rotate(-33 218 39)" fill="#000"/>
<path d="M347,64.5 L350.5,63.5 355,67 359.5,72.5 360.5,76.5 357,76 352,71.5 348,67.5Z" fill="#000"/>
<path d="M377.3,89.5 L383,89.3 395,93 405,99 413,108.4 410,109.2 400,107 390,102.5 381,96Z" fill="#000"/>
<path d="M333.5,32.5 L336,41 M334.5,36.5 L337.5,34 M336,41 L340,38.5 M336,41 L339,46.5 344.5,50.5 M341,43 L344,44.5" stroke="#00107a" stroke-width="0.8" fill="none"/>
<path d="M352,55 L356.5,59.5 358.5,65 M361,62 L363.5,69.5 368,77 373,80.5" stroke="#00107a" stroke-width="0.7" fill="none"/>
<path d="M382.3,87.2 L388,89.6 395,92.4 402,96.4 407.5,100.5 411.5,104.5" stroke="#0a58ff" stroke-width="0.7" fill="none"/>
<path d="M405.5,98.8 L409.5,100 412.8,104.5 413.8,108 411,105.5 408,102Z" fill="#1c86ff"/>
<path d="M132.4,47.0L132.8,47.1L133.3,47.3L133.9,47.4L134.5,47.6L135.2,47.7L136.0,48.0L136.8,48.2L137.6,48.5L138.4,48.8L139.3,49.1M152.6,58.8L153.6,59.5L154.6,60.2L155.7,60.9L156.8,61.6L157.8,62.2L158.9,62.9L160.0,63.6L161.0,64.3L162.1,64.9L163.1,65.6L164.0,66.3L165.0,67.0L165.9,67.7L166.8,68.4L167.6,69.1L168.4,69.8L169.2,70.5L170.0,71.2L170.8,71.9L171.6,72.7L172.4,73.4L173.2,74.2L174.1,74.9L175.0,75.7L175.9,76.5L176.9,77.3L177.9,78.2L178.9,79.0L179.9,79.9L181.0,80.8L182.0,81.6L183.0,82.5L184.0,83.4L185.1,84.3L186.0,85.1L187.0,86.0L187.9,86.9L188.9,87.7L189.8,88.6L190.7,89.5L191.6,90.4L192.5,91.3L193.4,92.2L194.3,93.0L195.2,93.8L196.0,94.6L196.9,95.3L197.7,96.0L198.5,96.6L199.3,97.2L200.1,97.7L200.8,98.2L201.6,98.6L202.3,99.0L203.0,99.4L203.8,99.8L204.5,100.2L205.2,100.6L206.0,101.1L206.7,101.5L207.4,102.0L208.2,102.4L208.9,102.9L209.7,103.4L210.4,103.9L211.1,104.3L211.9,104.8L212.6,105.3L213.4,105.7L214.1,106.2L214.9,106.6L215.7,107.0L216.5,107.4L217.3,107.8L218.1,108.1L218.9,108.5L219.7,108.8L220.5,109.1L221.3,109.5L222.2,109.8L223.0,110.1L224.0,110.5L224.9,110.8L225.9,111.2L226.9,111.6L228.0,111.9L229.1,112.3L230.2,112.7L231.3,113.1M248.8,119.5L250.3,120.2L251.9,120.7L253.4,121.3L254.9,121.7L256.4,122.1L257.8,122.4L259.2,122.6L260.7,122.7L262.2,122.7L263.6,122.7L265.1,122.6L266.5,122.5L267.9,122.4L269.3,122.2L270.5,122.1L271.7,121.9L272.8,121.8L273.8,121.7L274.7,121.6L275.4,121.5L276.0,121.4L276.6,121.3L277.0,121.2L277.5,121.1L277.9,121.0L278.2,120.9L278.6,120.8L279.0,120.8L279.5,120.8L280.0,120.8L280.6,120.9L281.1,120.9L281.7,121.1L282.3,121.2L282.9,121.4L283.5,121.5L284.1,121.7L284.7,121.9L285.3,122.1L285.9,122.2L286.4,122.4L287.0,122.5L287.5,122.6L288.1,122.7L288.6,122.9L289.1,123.0L289.6,123.1L290.2,123.3L290.7,123.4L291.1,123.4L291.6,123.5L292.1,123.5L292.6,123.5L293.0,123.4L293.4,123.3L293.9,123.1L294.3,122.9L294.7,122.7L295.1,122.4L295.5,122.1L295.9,121.8L296.2,121.5L296.6,121.1L296.9,120.8L297.2,120.4L297.5,120.0L297.8,119.6L298.1,119.2L298.3,118.8L298.6,118.3L298.9,117.9L299.1,117.4L299.3,116.9L299.5,116.4L299.6,115.8L299.7,115.3L299.7,114.6L299.7,114.0L299.6,113.3L299.5,112.5L299.2,111.7L299.0,110.8L298.7,109.9L298.3,109.0L298.0,108.1L297.6,107.2L297.3,106.3L297.0,105.5L296.7,104.7L296.5,104.0L296.3,103.4L296.1,102.8L295.9,102.2L295.8,101.7L295.6,101.2L295.5,100.7L295.4,100.2L295.3,99.8L295.2,99.3L295.1,98.9L295.0,98.5L295.0,98.0L295.0,97.5L295.0,97.1L295.0,96.6L295.0,96.1L295.1,95.7L295.2,95.2L295.2,94.8L295.4,94.4L295.5,94.0L295.6,93.6L295.8,93.3L296.0,93.0L296.2,92.7L296.4,92.5L296.6,92.3L296.8,92.1L297.0,92.0L297.2,91.8L297.5,91.7L297.9,91.6L298.3,91.6L298.8,91.5L299.3,91.5L300.0,91.5L300.8,91.5L301.7,91.5L302.7,91.6L303.8,91.7M321.3,95.7L322.1,96.1L322.8,96.6L323.4,97.0L323.9,97.5L324.4,98.0L324.8,98.5L325.1,99.1L325.4,99.7L325.7,100.3L325.9,100.9L326.1,101.5L326.3,102.1L326.5,102.8L326.7,103.4L327.0,104.0L327.3,104.6L327.5,105.2L327.7,105.8L328.0,106.5L328.2,107.1L328.4,107.7L328.6,108.3L328.9,109.0L329.1,109.6L329.4,110.3L329.7,110.9L330.0,111.6L330.3,112.3L330.7,113.0L331.1,113.7L331.5,114.4L331.9,115.1L332.3,115.8L332.8,116.5L333.2,117.2L333.7,118.0L334.1,118.6L334.6,119.3L335.0,120.0L335.4,120.7L335.9,121.3L336.3,122.0L336.7,122.7L337.2,123.3L337.6,124.0L338.0,124.6L338.5,125.3L339.0,125.8L339.5,126.4L340.0,126.9L340.5,127.4L341.1,127.8L341.6,128.2L342.2,128.6L342.8,129.0L343.4,129.3L344.1,129.6L344.7,129.8L345.4,130.1L346.0,130.3L346.7,130.6L347.3,130.8L348.0,131.0L348.7,131.2L349.4,131.4L350.1,131.5L350.8,131.6L351.6,131.7L352.3,131.8L353.1,131.9L353.8,132.0L354.5,132.1L355.1,132.3L355.7,132.4L356.3,132.6L356.8,132.8L357.3,133.0L357.8,133.3L358.2,133.6L358.6,133.8L359.0,134.1L359.3,134.4L359.7,134.7L360.0,135.0L360.3,135.3L360.7,135.7L361.0,136.0L361.3,136.3L361.6,136.6L362.0,136.8L362.3,137.0L362.6,137.3L362.8,137.6L363.1,137.9L363.4,138.2L363.6,138.6L363.8,139.2L364.0,139.8L364.2,140.5L364.4,141.4L364.5,142.3L364.6,143.4L364.7,144.6L364.7,145.8L364.8,147.1L364.8,148.5L364.8,149.8L364.9,151.1L364.9,152.5L365.0,153.8L365.0,155.0L365.0,156.2L365.1,157.5L365.1,158.7L365.2,160.0L365.2,161.3L365.2,162.6L365.3,163.8L365.3,165.1L365.3,166.2L365.4,167.4L365.4,168.5L365.5,169.5L365.6,170.5M369.0,187.0L369.2,187.2L369.5,187.4L369.8,187.6L370.1,187.8L370.4,187.9L370.8,188.0L371.2,188.1L371.7,188.1L372.3,188.1L372.9,188.0L373.5,187.9L374.1,187.8L374.8,187.7L375.5,187.6L376.1,187.4L376.8,187.3L377.4,187.1L378.0,187.0L378.6,186.9L379.2,186.7L379.7,186.6L380.3,186.5L380.8,186.3L381.4,186.2L382.0,186.0L382.5,185.9L383.1,185.7L383.7,185.5L384.3,185.2L385.0,185.0L385.7,184.7L386.4,184.5L387.1,184.2L387.8,183.9L388.6,183.5L389.3,183.2L390.1,182.8L390.9,182.5L391.7,182.1L392.4,181.7L393.2,181.4L394.0,181.0L394.8,180.6L395.7,180.2L396.6,179.7L397.5,179.2L398.5,178.7L399.4,178.2L400.3,177.8L401.2,177.3L401.9,176.9L402.6,176.6L403.2,176.2L403.7,176.0" fill="none" stroke="#000" stroke-width="0.95" stroke-linejoin="round"/>
<path d="M437.0,215.4L437.0,215.7L436.9,216.0L436.9,216.4L436.8,216.8L436.8,217.3L436.7,217.8L436.7,218.3L436.6,218.9L436.6,219.4L436.5,219.9L436.5,220.5L436.5,221.0L436.5,221.5L436.5,222.0L436.5,222.6L436.5,223.1L436.5,223.7L436.5,224.2L436.6,224.8L436.6,225.4L436.6,225.9L436.7,226.5L436.7,227.1L436.7,227.6L436.7,228.1L436.7,228.7L436.8,229.2L436.8,229.7L436.8,230.3L436.8,230.8L436.8,231.3L436.8,231.8L436.9,232.4L436.9,232.9L437.0,233.5L437.0,234.0L437.0,234.6L437.1,235.1L437.1,235.7L437.1,236.3L437.2,236.9L437.2,237.5L437.3,238.1L437.4,238.7L437.5,239.2L437.6,239.8L437.8,240.3L438.0,240.8L438.3,241.3L438.6,241.7L438.9,242.2L439.3,242.6L439.7,243.0L440.1,243.4L440.5,243.8L440.9,244.2L441.4,244.5L441.8,244.9L442.3,245.2L442.7,245.5L443.2,245.8L443.6,246.1L444.2,246.4L444.7,246.7L445.3,246.9L445.8,247.2L446.3,247.4L446.8,247.6L447.3,247.8L447.7,248.0L448.0,248.2L448.3,248.3" fill="none" stroke="#000" stroke-width="0.95" stroke-linejoin="round"/>
<path d="M209.0,35.0L208.7,35.1L208.3,35.3L207.9,35.5L207.3,35.7L206.8,36.0L206.2,36.2L205.6,36.5L205.0,36.8L204.4,37.1L203.9,37.4L203.4,37.7L203.0,38.0L202.6,38.3L202.3,38.6L202.0,38.9L201.6,39.2L201.4,39.5L201.1,39.9L200.8,40.2L200.6,40.6L200.4,40.9L200.3,41.3L200.1,41.6L200.0,42.0L199.9,42.4L199.9,42.8L199.9,43.2L199.9,43.6L199.9,44.1L200.0,44.5L200.0,44.9L200.1,45.4L200.2,45.8L200.3,46.2L200.4,46.6L200.5,47.0L200.6,47.4L200.6,47.8L200.6,48.1L200.6,48.5L200.7,48.9L200.7,49.2L200.8,49.6L200.9,49.9L201.1,50.2L201.3,50.5L201.6,50.8L202.0,51.0L202.5,51.2L203.1,51.3L203.7,51.5L204.4,51.6L205.2,51.6L206.0,51.7L206.9,51.7L207.7,51.8L208.6,51.8L209.4,51.9L210.2,51.9L211.0,52.0L211.7,52.1L212.5,52.1L213.2,52.2L213.9,52.2L214.6,52.3L215.3,52.3L216.1,52.4L216.8,52.5L217.6,52.6L218.4,52.7L219.2,52.8L220.0,53.0L220.9,53.2L221.8,53.4L222.7,53.6L223.6,53.8L224.6,54.0L225.6,54.2L226.5,54.5L227.5,54.8L228.5,55.2L229.5,55.6L230.5,56.0L231.5,56.5L232.5,57.1L233.5,57.7L234.6,58.4L235.6,59.1L236.7,59.9L237.8,60.8L238.8,61.6L239.8,62.4L240.8,63.2L241.8,64.0L242.7,64.8L243.5,65.5L244.3,66.2L245.0,66.8L245.7,67.5L246.3,68.1L247.0,68.7L247.6,69.4L248.1,70.0L248.7,70.6L249.3,71.2L249.8,71.8L250.4,72.4L251.0,73.0L251.6,73.7L252.3,74.4L252.9,75.2L253.5,76.0L254.2,76.8L254.8,77.5L255.5,78.2L256.1,78.9L256.6,79.4L257.2,79.8L257.7,80.1L258.2,80.2L258.6,80.1L259.0,79.8L259.4,79.4L259.7,78.8L260.0,78.2L260.3,77.4L260.6,76.7L260.8,75.9L261.1,75.1L261.4,74.3L261.7,73.6L262.0,73.0L262.3,72.5L262.6,72.0L262.9,71.5L263.2,71.0L263.6,70.6L263.9,70.1L264.2,69.7L264.5,69.2M272.5,54.1L273.1,53.1L273.6,52.2L274.2,51.3L274.7,50.4L275.3,49.5L275.8,48.6L276.4,47.7L276.9,46.8L277.5,45.9L278.0,44.9L278.5,44.0L279.0,43.0L279.5,42.0L280.0,41.0L280.4,40.0L280.9,39.0L281.4,38.0L281.8,36.9L282.3,35.9L282.7,34.9L283.1,33.9L283.6,33.0L284.0,32.0L284.4,31.0L284.9,30.0L285.3,29.0L285.8,28.0L286.3,27.0L286.7,26.0L287.1,25.1L287.5,24.2L287.9,23.4L288.2,22.6L288.5,22.0L288.7,21.5" fill="none" stroke="#000" stroke-width="0.95" stroke-linejoin="round"/>
<path d="M132.4,113.4L133.0,113.6L133.8,113.8L134.7,114.0L135.7,114.3L136.8,114.6L137.9,115.0L139.2,115.3L140.4,115.7L141.6,116.0L142.8,116.3L143.9,116.7L145.0,117.0L146.0,117.3L147.0,117.6L148.0,117.9L149.0,118.2M165.5,123.5L166.8,123.9L168.0,124.3L169.2,124.8L170.4,125.2L171.5,125.6L172.6,126.0L173.6,126.5L174.6,126.9L175.6,127.3L176.5,127.8L177.5,128.2L178.4,128.7L179.3,129.1L180.2,129.6L181.1,130.1L182.1,130.5L183.0,131.0L183.9,131.5L184.9,131.9L185.8,132.4L186.7,132.9L187.6,133.4L188.5,133.9L189.4,134.4L190.4,134.9L191.3,135.3L192.2,135.8L193.1,136.3L194.0,136.8L194.9,137.3L195.8,137.8L196.7,138.2L197.7,138.7L198.6,139.2L199.5,139.7L200.4,140.1L201.3,140.6L202.2,141.1L203.1,141.6L204.1,142.0L205.0,142.5L205.9,143.0L206.9,143.4L207.8,143.9L208.8,144.4L209.8,144.9L210.7,145.4L211.7,145.8L212.6,146.3L213.6,146.7L214.5,147.2L215.4,147.6L216.3,148.0L217.2,148.4L218.0,148.8L218.8,149.1L219.7,149.4L220.5,149.8L221.3,150.1L222.1,150.4L222.8,150.7L223.6,151.0L224.4,151.4L225.2,151.7L226.0,152.0L226.8,152.3L227.5,152.7L228.3,153.0L229.0,153.4L229.7,153.7L230.4,154.0L231.2,154.4L232.0,154.7L232.8,155.0L233.6,155.4L234.5,155.7L235.5,156.0L236.5,156.3L237.7,156.6L238.8,157.0L240.1,157.3L241.3,157.6L242.6,157.9L243.9,158.2L245.2,158.5L246.4,158.8L247.7,159.1L248.9,159.3L250.0,159.5L251.1,159.7L252.1,159.8L253.1,159.9M270.4,161.1L271.8,161.2L273.3,161.3L274.6,161.5L275.9,161.6L277.0,161.8L278.0,162.0L278.9,162.2L279.6,162.5L280.2,162.8L280.8,163.1L281.3,163.4L281.7,163.8L282.1,164.1L282.4,164.5L282.8,164.9L283.2,165.3L283.6,165.6L284.0,166.0L284.4,166.4L284.8,166.7L285.2,167.0L285.6,167.3L285.9,167.6L286.3,168.0L286.6,168.3L287.0,168.7L287.4,169.1L287.9,169.6L288.4,170.2L289.0,170.8L289.7,171.5L290.4,172.4L291.2,173.3L292.0,174.2L292.9,175.3L293.8,176.3L294.7,177.3L295.5,178.4L296.4,179.4L297.2,180.3L298.0,181.2L298.7,182.0L299.3,182.7L299.9,183.4L300.5,184.0L301.0,184.5L301.6,185.1L302.1,185.6L302.5,186.1L303.0,186.5L303.5,187.0L304.0,187.5L304.5,188.0L305.0,188.5L305.5,189.0L306.0,189.6L306.6,190.1L307.1,190.6L307.6,191.2L308.1,191.7L308.6,192.2L309.2,192.7L309.7,193.2L310.3,193.7L310.8,194.2L311.4,194.7L312.0,195.2L312.6,195.6L313.2,196.1L313.8,196.6L314.4,197.0L315.1,197.5L315.7,197.9L316.4,198.3L317.0,198.8L317.7,199.2L318.3,199.6L319.0,200.0L319.7,200.4L320.4,200.7L321.1,201.1L321.8,201.4L322.5,201.7L323.3,202.1L324.0,202.4L324.7,202.7L325.4,203.1L326.1,203.5L326.8,203.9L327.4,204.3L328.0,204.8L328.6,205.3L329.2,205.8L329.7,206.3L330.3,206.9L330.8,207.4L331.4,208.0L331.9,208.6L332.4,209.2L332.9,209.8L333.5,210.4L334.0,211.0L334.5,211.6L335.1,212.2L335.6,212.8L336.1,213.4L336.7,214.0L337.2,214.6L337.7,215.2L338.2,215.8L338.7,216.5L339.2,217.2L339.7,217.9L340.2,218.7L340.7,219.5L341.1,220.4L341.6,221.4L342.0,222.4M351.4,236.0L352.0,236.5L352.6,237.0L353.2,237.4L353.8,237.9L354.4,238.4L355.1,238.8L355.7,239.2L356.4,239.6L357.0,240.0L357.7,240.4L358.5,240.8L359.2,241.2L360.0,241.5L360.8,241.8L361.7,242.0L362.7,242.2L363.7,242.4L364.7,242.6L365.7,242.7L366.7,242.9L367.7,243.1L368.7,243.3L369.6,243.6L370.5,244.0L371.3,244.5L372.1,245.1L372.8,245.7L373.5,246.5L374.1,247.3L374.8,248.2L375.4,249.1L376.0,250.0L376.5,250.9L377.1,251.7L377.7,252.5L378.2,253.3L378.8,254.0L379.4,254.6L379.9,255.2L380.4,255.8L380.9,256.3L381.4,256.8L381.9,257.3L382.4,257.7L382.9,258.2L383.4,258.7L383.9,259.1L384.5,259.5L385.0,260.0L385.6,260.4L386.1,260.8L386.7,261.2L387.3,261.6L387.9,261.9L388.5,262.3L389.1,262.6L389.7,263.0L390.3,263.4L390.9,263.9L391.5,264.4L392.0,265.0L392.5,265.6L393.1,266.4L393.6,267.1L394.2,267.9L394.7,268.8L395.3,269.7L395.8,270.5L396.2,271.4L396.7,272.2L397.0,273.1L397.4,273.9L397.6,274.6L397.8,275.3L397.9,276.0L397.9,276.6L397.9,277.2L397.8,277.8L397.7,278.4L397.6,279.0L397.5,279.6L397.3,280.2L397.2,280.8L397.1,281.4L397.0,282.0L396.9,282.7L396.8,283.4L396.7,284.1L396.6,284.9L396.4,285.7L396.3,286.5L396.2,287.2L396.1,287.9L395.9,288.5L395.8,289.1L395.8,289.6L395.7,290.0" fill="none" stroke="#000" stroke-width="0.95" stroke-linejoin="round"/>
<path d="M132.4,154.3L133.0,154.4L133.8,154.6L134.7,154.8L135.7,155.0L136.9,155.2L138.0,155.5L139.3,155.7L140.5,156.0L141.7,156.2L142.9,156.5L144.0,156.8L145.0,157.0L145.9,157.2L146.8,157.5M163.7,162.6L165.1,163.1L166.6,163.6L167.9,164.1L169.2,164.6L170.4,165.0L171.5,165.5L172.5,166.0L173.4,166.4L174.2,166.9L174.9,167.3L175.6,167.8L176.3,168.2L176.9,168.7L177.5,169.2L178.1,169.6L178.7,170.1L179.4,170.5L180.0,171.0L180.7,171.5L181.3,171.9L182.0,172.4L182.6,172.9L183.2,173.3L183.9,173.8L184.5,174.3L185.1,174.7L185.7,175.2L186.3,175.7L186.9,176.2L187.5,176.7L188.1,177.2L188.6,177.7L189.2,178.2L189.7,178.7L190.3,179.3L190.8,179.8L191.4,180.3L191.9,180.9L192.4,181.4L192.9,181.9L193.5,182.5L194.0,183.0L194.5,183.5L195.1,184.1L195.6,184.6L196.1,185.1L196.6,185.6L197.1,186.2L197.7,186.7L198.2,187.3L198.7,187.8L199.2,188.4L199.8,188.9L200.3,189.5L200.8,190.1L201.4,190.7L201.9,191.3L202.5,191.9L203.0,192.5L203.5,193.2L204.1,193.8L204.7,194.4L205.2,195.1L205.8,195.7L206.4,196.4L207.0,197.0L207.6,197.6L208.3,198.3L208.9,199.0L209.6,199.7L210.2,200.4L210.9,201.1L211.6,201.8L212.3,202.4L213.0,203.1L213.7,203.7L214.3,204.3L215.0,204.8L215.7,205.3L216.3,205.8L217.0,206.2L217.7,206.7L218.3,207.1L219.0,207.4L219.7,207.8L220.3,208.2L221.0,208.5L221.7,208.8L222.3,209.2L223.0,209.5L223.7,209.8L224.3,210.1L224.9,210.4L225.6,210.7L226.2,211.0L226.8,211.3L227.5,211.5L228.1,211.8L228.8,212.0L229.5,212.2L230.2,212.5L231.0,212.7L231.8,212.9L232.7,213.2L233.6,213.5L234.5,213.7L235.5,214.0L236.5,214.2L237.4,214.4L238.4,214.6L239.3,214.8L240.3,214.9L241.2,215.0L242.0,215.0L242.8,215.0M257.7,207.5L258.3,207.4L258.7,207.5L259.0,207.8L259.3,208.3L259.4,208.9L259.5,209.7L259.5,210.6L259.5,211.5L259.5,212.5L259.6,213.5L259.6,214.5L259.8,215.4L260.0,216.3L260.3,217.0L260.7,217.7L261.2,218.3L261.8,218.9L262.4,219.6L263.0,220.1L263.7,220.7L264.4,221.3L265.2,221.8L265.9,222.4L266.6,222.9L267.3,223.5L268.0,224.0L268.7,224.6L269.4,225.2L270.1,225.9L270.9,226.6L271.6,227.3L272.3,227.9L273.1,228.5L273.8,229.1L274.5,229.5L275.1,229.8L275.7,230.0L276.3,230.0L276.8,229.8L277.3,229.5L277.7,229.0L278.1,228.4L278.5,227.7L278.9,226.9L279.2,226.0L279.6,225.2L279.9,224.3L280.2,223.5L280.6,222.7L281.0,222.0L281.4,221.3L281.8,220.7L282.2,220.1L282.6,219.5L283.0,218.8L283.3,218.2L283.7,217.6L284.1,216.9L284.6,216.2L285.0,215.5L285.4,214.8L285.9,214.0L286.4,213.1L286.9,212.2L287.4,211.2L288.0,210.2L288.5,209.1L289.1,208.0L289.6,207.0L290.2,206.0L290.7,205.0L291.3,204.2L291.8,203.4L292.3,202.7L292.8,202.1L293.3,201.6L293.7,201.1L294.2,200.7L294.7,200.3L295.1,200.0L295.5,199.7L296.0,199.5L296.4,199.4L296.8,199.4L297.3,199.4L297.7,199.5L298.1,199.7L298.6,200.0L299.1,200.4L299.6,200.8L300.1,201.4L300.5,202.0L301.0,202.6L301.4,203.3L301.7,203.9L302.1,204.6L302.3,205.3L302.5,206.0L302.6,206.7L302.6,207.4L302.5,208.2L302.3,208.9L302.1,209.7L301.9,210.6L301.7,211.4L301.5,212.2L301.3,213.1L301.2,213.9L301.1,214.7L301.2,215.5L301.3,216.3L301.5,217.1M308.7,233.3L309.0,234.0L309.3,234.7L309.6,235.5L309.9,236.2L310.2,236.9L310.5,237.6L310.8,238.3L311.1,239.0L311.4,239.7L311.8,240.5L312.2,241.2L312.6,241.9L313.0,242.7L313.5,243.5L314.0,244.3L314.5,245.1L315.1,245.9L315.7,246.7L316.3,247.6L316.9,248.4L317.5,249.2L318.2,250.0L318.8,250.9L319.4,251.7L320.0,252.5L320.6,253.3L321.2,254.1L321.9,255.0L322.5,255.8L323.1,256.7L323.8,257.5L324.4,258.3L325.1,259.1L325.7,259.9L326.3,260.6L326.8,261.3L327.4,262.0L327.9,262.6L328.4,263.2L328.9,263.8L329.4,264.3L329.9,264.8L330.3,265.3L330.8,265.7L331.2,266.2L331.6,266.7L332.1,267.1L332.5,267.5L333.0,268.0L333.5,268.4L334.0,268.8L334.6,269.2L335.1,269.6L335.7,270.0L336.2,270.3L336.8,270.7L337.3,271.1L337.7,271.5L338.1,271.9L338.4,272.4L338.6,273.0L338.7,273.6L338.8,274.3L338.7,275.0L338.6,275.7L338.4,276.5L338.2,277.3L338.0,278.1L337.8,278.9L337.6,279.7L337.4,280.5L337.2,281.3L337.0,282.0L336.9,282.8L336.7,283.6L336.6,284.4L336.4,285.2L336.3,286.0L336.1,286.9L336.0,287.6L335.8,288.4L335.7,289.1L335.6,289.7L335.5,290.2L335.4,290.6" fill="none" stroke="#000" stroke-width="0.95" stroke-linejoin="round"/>
<path d="M132.4,185.0L132.7,185.0L133.1,185.0L133.6,185.0L134.1,185.0L134.7,185.1L135.3,185.1L135.9,185.1L136.6,185.1L137.2,185.1L137.8,185.2L138.4,185.2L139.0,185.2L139.5,185.2L140.1,185.2L140.6,185.2L141.1,185.2L141.7,185.3L142.2,185.3L142.7,185.3L143.3,185.3L143.8,185.4L144.3,185.4L144.8,185.5L145.3,185.6L145.8,185.7L146.3,185.9L146.8,186.0L147.2,186.2L147.7,186.4L148.2,186.6L148.7,186.8L149.1,187.1L149.6,187.3L150.1,187.5L150.5,187.8L151.0,188.0L151.5,188.2L152.0,188.5L152.4,188.7L152.9,188.9L153.4,189.2L153.9,189.4L154.4,189.7L154.8,190.0L155.3,190.3L155.7,190.6L156.2,190.9L156.6,191.3L157.0,191.7L157.4,192.1L157.8,192.6L158.2,193.0L158.6,193.5L158.9,194.0L159.3,194.5L159.6,195.0L160.0,195.5L160.3,196.0L160.7,196.5L161.0,197.0L161.3,197.5L161.6,197.9L162.0,198.3L162.3,198.7L162.6,199.1L162.9,199.5L163.1,199.9L163.4,200.3L163.7,200.8L164.0,201.3L164.2,201.9L164.5,202.6L164.8,203.3L165.0,204.1L165.3,205.0L165.6,205.9L165.9,206.9L166.1,207.8L166.4,208.8L166.6,209.9L166.8,210.9L167.0,211.9L167.1,212.8L167.2,213.8L167.3,214.7L167.3,215.7L167.3,216.7L167.2,217.7L167.1,218.7L167.0,219.7L166.9,220.6L166.8,221.6L166.7,222.5L166.6,223.4L166.6,224.2L166.5,225.0L166.5,225.7L166.5,226.4L166.5,227.0L166.5,227.5L166.5,228.0L166.5,228.5L166.5,229.0L166.5,229.5L166.5,230.1L166.4,230.6L166.4,231.2L166.3,231.9L166.2,232.6L166.0,233.4L165.9,234.2L165.7,235.0L165.5,235.9L165.3,236.8L165.1,237.6L164.9,238.5L164.7,239.4L164.4,240.3L164.2,241.2L164.0,242.0L163.8,242.8L163.5,243.7L163.3,244.6L163.1,245.4L162.8,246.3L162.5,247.1L162.3,248.0L162.0,248.8L161.8,249.6L161.5,250.5L161.3,251.2L161.0,252.0L160.8,252.7L160.5,253.4L160.3,254.1L160.0,254.8L159.8,255.5L159.5,256.1L159.3,256.8L159.1,257.4L158.8,258.0L158.5,258.7L158.3,259.3L158.0,260.0L157.7,260.7L157.4,261.3L157.2,262.0L156.9,262.6L156.6,263.3L156.3,263.9L156.0,264.6L155.7,265.3L155.4,265.9L155.0,266.6L154.7,267.3L154.3,268.0L153.9,268.7L153.5,269.4M145.6,285.6L145.1,286.8L144.7,288.0L144.4,289.0L144.1,289.8L143.8,290.5" fill="none" stroke="#000" stroke-width="0.95" stroke-linejoin="round"/>
<path d="M309.3,139.3 L315,133.4 323.3,138.7 316.3,145Z" fill="none" stroke="#000" stroke-width="0.9"/>
<path d="M311,163 L315,156.8 324.4,162 316.3,171.4Z" fill="none" stroke="#000" stroke-width="0.9"/>
<path d="M315.2,173.5 L317.4,173.5 316.3,184.5Z" fill="#001a70" stroke="#000" stroke-width="0.9"/>
<path d="M349,89 L353,88 357,92 358.5,108 359,118 354,122 348,119 347.5,112 350,104Z" fill="none" stroke="#000" stroke-width="0.9"/>
<path d="M383,112 L390,106.5 400,108.5 403.5,121 393,130 386,126Z" fill="none" stroke="#000" stroke-width="0.9"/>
<path d="M362,206 L366,203.5 378,204 379.7,208 373.2,224.8 365.6,216.3Z" fill="none" stroke="#000" stroke-width="0.9"/>
<path d="M428.6,249.5 L434,251 429,253.5Z" fill="none" stroke="#000" stroke-width="0.9"/>
<path d="M256.5,90.5 L258,87 259.8,91.5 258.2,95Z" fill="none" stroke="#000" stroke-width="0.9"/>
<path d="M257,22 L260.5,20.5 262,23.5 264.5,25 264,29 260,31.5 256.5,29.5 257.5,26Z" fill="none" stroke="#000" stroke-width="0.9"/>
<path d="M137.9,206.8 L148.2,199.6 151,208.5 145.4,215.1Z" fill="#7a0000" stroke="#000" stroke-width="0.9"/>
<path d="M140.5,206.8 L147.3,202 149,208 145,212.3Z" fill="none" stroke="#000" stroke-width="0.9"/>
<path d="M143,207 L146.3,204.5 147.3,207.8 145,210Z" fill="none" stroke="#000" stroke-width="0.9"/>
<path d="M296.6,251.2 h1 v1 h-1Z" fill="#000"/>
<text x="147.0" y="52.5" transform="rotate(28 147.0 52.5)" font-family="Liberation Sans, Arial, sans-serif" font-size="7.8" text-anchor="middle" dominant-baseline="central" fill="#000" stroke="#0094ff" stroke-width="1.2" paint-order="stroke" stroke-linejoin="round">300</text>
<text x="313.0" y="93.0" transform="rotate(5 313.0 93.0)" font-family="Liberation Sans, Arial, sans-serif" font-size="7.8" text-anchor="middle" dominant-baseline="central" fill="#000" stroke="#0094ff" stroke-width="1.2" paint-order="stroke" stroke-linejoin="round">300</text>
<text x="240.0" y="116.0" transform="rotate(18 240.0 116.0)" font-family="Liberation Sans, Arial, sans-serif" font-size="7.8" text-anchor="middle" dominant-baseline="central" fill="#000" stroke="#0094ff" stroke-width="1.2" paint-order="stroke" stroke-linejoin="round">300</text>
<text x="366.8" y="178.7" transform="rotate(78 366.8 178.7)" font-family="Liberation Sans, Arial, sans-serif" font-size="7.8" text-anchor="middle" dominant-baseline="central" fill="#000" stroke="#0094ff" stroke-width="1.2" paint-order="stroke" stroke-linejoin="round">300</text>
<text x="312.3" y="160.5" transform="rotate(-62 312.3 160.5)" font-family="Liberation Sans, Arial, sans-serif" font-size="7.8" text-anchor="middle" dominant-baseline="central" fill="#000" stroke="#0094ff" stroke-width="1.2" paint-order="stroke" stroke-linejoin="round">300</text>
<text x="388.5" y="109.0" transform="rotate(-40 388.5 109.0)" font-family="Liberation Sans, Arial, sans-serif" font-size="7.8" text-anchor="middle" dominant-baseline="central" fill="#000" stroke="#0094ff" stroke-width="1.2" paint-order="stroke" stroke-linejoin="round">300</text>
<text x="157.0" y="120.8" transform="rotate(17 157.0 120.8)" font-family="Liberation Sans, Arial, sans-serif" font-size="7.8" text-anchor="middle" dominant-baseline="central" fill="#000" stroke="#37ffc8" stroke-width="1.2" paint-order="stroke" stroke-linejoin="round">400</text>
<text x="262.0" y="160.6" transform="rotate(3 262.0 160.6)" font-family="Liberation Sans, Arial, sans-serif" font-size="7.8" text-anchor="middle" dominant-baseline="central" fill="#000" stroke="#37ffc8" stroke-width="1.2" paint-order="stroke" stroke-linejoin="round">400</text>
<text x="345.6" y="230.0" transform="rotate(55 345.6 230.0)" font-family="Liberation Sans, Arial, sans-serif" font-size="7.8" text-anchor="middle" dominant-baseline="central" fill="#000" stroke="#37ffc8" stroke-width="1.2" paint-order="stroke" stroke-linejoin="round">400</text>
<text x="319.5" y="135.5" transform="rotate(38 319.5 135.5)" font-family="Liberation Sans, Arial, sans-serif" font-size="7.8" text-anchor="middle" dominant-baseline="central" fill="#000" stroke="#37ffc8" stroke-width="1.2" paint-order="stroke" stroke-linejoin="round">400</text>
<text x="369.0" y="203.5" transform="rotate(-10 369.0 203.5)" font-family="Liberation Sans, Arial, sans-serif" font-size="7.8" text-anchor="middle" dominant-baseline="central" fill="#000" stroke="#37ffc8" stroke-width="1.2" paint-order="stroke" stroke-linejoin="round">400</text>
<text x="155.6" y="160.0" transform="rotate(15 155.6 160.0)" font-family="Liberation Sans, Arial, sans-serif" font-size="7.8" text-anchor="middle" dominant-baseline="central" fill="#000" stroke="#daff25" stroke-width="1.2" paint-order="stroke" stroke-linejoin="round">500</text>
<text x="250.7" y="212.3" transform="rotate(-20 250.7 212.3)" font-family="Liberation Sans, Arial, sans-serif" font-size="7.8" text-anchor="middle" dominant-baseline="central" fill="#000" stroke="#daff25" stroke-width="1.2" paint-order="stroke" stroke-linejoin="round">500</text>
<text x="305.0" y="225.0" transform="rotate(68 305.0 225.0)" font-family="Liberation Sans, Arial, sans-serif" font-size="7.8" text-anchor="middle" dominant-baseline="central" fill="#000" stroke="#daff25" stroke-width="1.2" paint-order="stroke" stroke-linejoin="round">500</text>
<text x="149.0" y="276.6" transform="rotate(-60 149.0 276.6)" font-family="Liberation Sans, Arial, sans-serif" font-size="7.8" text-anchor="middle" dominant-baseline="central" fill="#000" stroke="#ff8200" stroke-width="1.2" paint-order="stroke" stroke-linejoin="round">600</text>
<text x="269.5" y="62.0" transform="rotate(-62 269.5 62.0)" font-family="Liberation Sans, Arial, sans-serif" font-size="7.8" text-anchor="middle" dominant-baseline="central" fill="#000" stroke="#0000f1" stroke-width="1.2" paint-order="stroke" stroke-linejoin="round">200</text>
<text x="355.5" y="95.0" transform="rotate(75 355.5 95.0)" font-family="Liberation Sans, Arial, sans-serif" font-size="7.8" text-anchor="middle" dominant-baseline="central" fill="#000" stroke="#0000f1" stroke-width="1.2" paint-order="stroke" stroke-linejoin="round">200</text>
<text x="148" y="207.5" transform="rotate(-70 148 207.5)" font-family="Liberation Sans, Arial, sans-serif" font-size="5.5" text-anchor="middle" dominant-baseline="central" fill="#000">700</text>
<rect x="132.4" y="12.1" width="322.2" height="278.5" fill="none" stroke="#000" stroke-width="0.6"/>
<path d="M145.8,290.6 v3.6 M145.8,12.1 v-3.6 M177.3,290.6 v3.6 M177.3,12.1 v-3.6 M208.8,290.6 v3.6 M208.8,12.1 v-3.6 M240.3,290.6 v3.6 M240.3,12.1 v-3.6 M271.8,290.6 v3.6 M271.8,12.1 v-3.6 M303.3,290.6 v3.6 M303.3,12.1 v-3.6 M334.8,290.6 v3.6 M334.8,12.1 v-3.6 M366.3,290.6 v3.6 M366.3,12.1 v-3.6 M397.8,290.6 v3.6 M397.8,12.1 v-3.6 M429.3,290.6 v3.6 M429.3,12.1 v-3.6 M132.4,281.0 h-3.6 M454.6,281.0 h3.4 M132.4,243.7 h-3.6 M454.6,243.7 h3.4 M132.4,206.4 h-3.6 M454.6,206.4 h3.4 M132.4,169.1 h-3.6 M454.6,169.1 h3.4 M132.4,131.8 h-3.6 M454.6,131.8 h3.4 M132.4,94.5 h-3.6 M454.6,94.5 h3.4 M132.4,57.2 h-3.6 M454.6,57.2 h3.4 M132.4,19.9 h-3.6 M454.6,19.9 h3.4" stroke="#000" stroke-width="0.7" fill="none"/>
<text x="145.8" y="306.3" font-family="Liberation Sans, Arial, sans-serif" font-size="9.3" font-weight="bold" text-anchor="middle" fill="#151515">165°W</text>
<text x="177.3" y="306.3" font-family="Liberation Sans, Arial, sans-serif" font-size="9.3" font-weight="bold" text-anchor="middle" fill="#151515">160°W</text>
<text x="208.8" y="306.3" font-family="Liberation Sans, Arial, sans-serif" font-size="9.3" font-weight="bold" text-anchor="middle" fill="#151515">155°W</text>
<text x="240.3" y="306.3" font-family="Liberation Sans, Arial, sans-serif" font-size="9.3" font-weight="bold" text-anchor="middle" fill="#151515">150°W</text>
<text x="271.8" y="306.3" font-family="Liberation Sans, Arial, sans-serif" font-size="9.3" font-weight="bold" text-anchor="middle" fill="#151515">145°W</text>
<text x="303.3" y="306.3" font-family="Liberation Sans, Arial, sans-serif" font-size="9.3" font-weight="bold" text-anchor="middle" fill="#151515">140°W</text>
<text x="334.8" y="306.3" font-family="Liberation Sans, Arial, sans-serif" font-size="9.3" font-weight="bold" text-anchor="middle" fill="#151515">135°W</text>
<text x="366.3" y="306.3" font-family="Liberation Sans, Arial, sans-serif" font-size="9.3" font-weight="bold" text-anchor="middle" fill="#151515">130°W</text>
<text x="397.8" y="306.3" font-family="Liberation Sans, Arial, sans-serif" font-size="9.3" font-weight="bold" text-anchor="middle" fill="#151515">125°W</text>
<text x="429.3" y="306.3" font-family="Liberation Sans, Arial, sans-serif" font-size="9.3" font-weight="bold" text-anchor="middle" fill="#151515">120°W</text>
<text x="124.5" y="284.3" font-family="Liberation Sans, Arial, sans-serif" font-size="9.3" font-weight="bold" text-anchor="end" fill="#151515">25°N</text>
<text x="124.5" y="247.0" font-family="Liberation Sans, Arial, sans-serif" font-size="9.3" font-weight="bold" text-anchor="end" fill="#151515">30°N</text>
<text x="124.5" y="209.7" font-family="Liberation Sans, Arial, sans-serif" font-size="9.3" font-weight="bold" text-anchor="end" fill="#151515">35°N</text>
<text x="124.5" y="172.4" font-family="Liberation Sans, Arial, sans-serif" font-size="9.3" font-weight="bold" text-anchor="end" fill="#151515">40°N</text>
<text x="124.5" y="135.1" font-family="Liberation Sans, Arial, sans-serif" font-size="9.3" font-weight="bold" text-anchor="end" fill="#151515">45°N</text>
<text x="124.5" y="97.8" font-family="Liberation Sans, Arial, sans-serif" font-size="9.3" font-weight="bold" text-anchor="end" fill="#151515">50°N</text>
<text x="124.5" y="60.5" font-family="Liberation Sans, Arial, sans-serif" font-size="9.3" font-weight="bold" text-anchor="end" fill="#151515">55°N</text>
<text x="124.5" y="23.2" font-family="Liberation Sans, Arial, sans-serif" font-size="9.3" font-weight="bold" text-anchor="end" fill="#151515">60°N</text>
<text x="87.7" y="9.8" font-family="Liberation Sans, Arial, sans-serif" font-size="14" font-weight="bold" fill="#000">a</text>
<defs><linearGradient id="jet" x1="0" y1="1" x2="0" y2="0"><stop offset="0" stop-color="#000080"/><stop offset="0.125" stop-color="#0000ff"/><stop offset="0.375" stop-color="#00ffff"/><stop offset="0.625" stop-color="#ffff00"/><stop offset="0.875" stop-color="#ff0000"/><stop offset="1" stop-color="#800000"/></linearGradient></defs>
<rect x="461.3" y="11.7" width="16.7" height="278.9" fill="url(#jet)" stroke="#333" stroke-width="0.4"/>
<text x="481.2" y="262.7" font-family="Liberation Sans, Arial, sans-serif" font-size="8.8" font-weight="bold" fill="#333">200</text>
<path d="M478,259.5h-2.2" stroke="#222" stroke-width="0.6"/>
<text x="481.2" y="218.4" font-family="Liberation Sans, Arial, sans-serif" font-size="8.8" font-weight="bold" fill="#333">300</text>
<path d="M478,215.2h-2.2" stroke="#222" stroke-width="0.6"/>
<text x="481.2" y="174.2" font-family="Liberation Sans, Arial, sans-serif" font-size="8.8" font-weight="bold" fill="#333">400</text>
<path d="M478,171.0h-2.2" stroke="#222" stroke-width="0.6"/>
<text x="481.2" y="129.9" font-family="Liberation Sans, Arial, sans-serif" font-size="8.8" font-weight="bold" fill="#333">500</text>
<path d="M478,126.8h-2.2" stroke="#222" stroke-width="0.6"/>
<text x="481.2" y="85.7" font-family="Liberation Sans, Arial, sans-serif" font-size="8.8" font-weight="bold" fill="#333">600</text>
<path d="M478,82.5h-2.2" stroke="#222" stroke-width="0.6"/>
<text x="481.2" y="41.5" font-family="Liberation Sans, Arial, sans-serif" font-size="8.8" font-weight="bold" fill="#333">700</text>
<path d="M478,38.2h-2.2" stroke="#222" stroke-width="0.6"/>
<text transform="translate(511.8,147.2) rotate(-90)" font-family="Liberation Sans, Arial, sans-serif" font-size="12" font-weight="bold" text-anchor="middle" fill="#000">Maximum Depth (m)</text>
<polygon points="44.2,421.0 46.0,423.3 47.8,425.5 49.6,427.6 51.4,429.5 53.2,431.4 55.0,433.1 56.8,434.7 58.6,436.2 60.4,437.6 62.2,438.9 64.0,440.2 65.8,441.3 67.6,442.3 69.4,443.3 71.2,444.2 73.0,445.1 74.8,445.9 76.6,446.6 78.4,447.2 80.2,447.9 82.0,448.4 83.8,449.0 85.6,449.5 87.4,449.9 89.2,450.4 91.0,450.8 92.8,451.2 94.6,451.6 96.4,452.0 98.2,452.4 100.0,452.7 101.8,453.0 103.6,453.3 105.4,453.6 107.2,453.8 109.0,454.0 110.8,454.2 112.6,454.3 114.4,454.4 116.2,454.4 118.0,454.4 119.8,454.4 121.6,454.3 123.4,454.1 125.2,453.9 127.0,453.6 128.8,453.3 130.6,452.9 132.4,452.5 134.2,452.0 136.0,451.4 137.8,450.7 139.6,450.0 141.4,449.2 143.2,448.3 145.0,447.3 146.8,446.3 148.6,445.3 150.4,444.2 152.2,443.0 154.0,441.8 155.8,440.6 157.6,439.4 159.4,438.2 161.2,437.0 163.0,435.7 164.8,434.5 166.6,433.2 168.4,431.8 170.2,430.5 172.0,429.1 173.8,427.7 175.6,426.3 177.4,424.9 179.2,423.4 181.0,421.8 182.8,420.3 184.6,418.7 186.4,417.0 188.2,415.4 190.0,413.6 191.8,411.9 193.6,410.1 195.4,408.3 197.2,406.5 199.0,404.6 200.8,402.7 202.6,400.8 204.4,398.9 206.2,396.9 208.0,395.0 209.8,393.0 211.6,391.0 213.4,389.0 215.2,387.0 217.0,384.9 218.8,382.9 220.6,380.9 222.4,378.8 224.2,376.8 226.0,374.7 227.8,372.7 229.6,370.7 231.4,368.6 233.2,366.6 235.0,364.6 236.8,362.6 238.6,360.6 240.4,358.5 242.2,356.5 244.0,354.5 245.8,352.4 247.6,350.2 249.4,348.1 251.2,345.8 253.0,343.5 254.8,341.1 256.6,338.6 258.4,336.0 258.4,418.4 256.6,419.4 254.8,420.3 253.0,421.0 251.2,421.7 249.4,422.3 247.6,422.8 245.8,423.3 244.0,423.7 242.2,424.2 240.4,424.6 238.6,425.0 236.8,425.5 235.0,426.0 233.2,426.5 231.4,427.1 229.6,427.8 227.8,428.4 226.0,429.2 224.2,429.9 222.4,430.7 220.6,431.5 218.8,432.4 217.0,433.2 215.2,434.1 213.4,435.1 211.6,436.0 209.8,436.9 208.0,437.9 206.2,438.9 204.4,439.8 202.6,440.8 200.8,441.8 199.0,442.8 197.2,443.7 195.4,444.7 193.6,445.7 191.8,446.6 190.0,447.5 188.2,448.4 186.4,449.3 184.6,450.2 182.8,451.0 181.0,451.8 179.2,452.6 177.4,453.3 175.6,454.0 173.8,454.7 172.0,455.3 170.2,456.0 168.4,456.6 166.6,457.1 164.8,457.7 163.0,458.2 161.2,458.7 159.4,459.1 157.6,459.5 155.8,459.9 154.0,460.3 152.2,460.7 150.4,461.0 148.6,461.3 146.8,461.6 145.0,461.8 143.2,462.0 141.4,462.2 139.6,462.4 137.8,462.5 136.0,462.7 134.2,462.8 132.4,462.9 130.6,462.9 128.8,462.9 127.0,463.0 125.2,462.9 123.4,462.9 121.6,462.8 119.8,462.8 118.0,462.6 116.2,462.5 114.4,462.3 112.6,462.1 110.8,461.9 109.0,461.7 107.2,461.4 105.4,461.1 103.6,460.8 101.8,460.4 100.0,460.0 98.2,459.6 96.4,459.2 94.6,458.7 92.8,458.2 91.0,457.7 89.2,457.1 87.4,456.5 85.6,455.9 83.8,455.2 82.0,454.5 80.2,453.8 78.4,453.0 76.6,452.2 74.8,451.4 73.0,450.5 71.2,449.6 69.4,448.7 67.6,447.7 65.8,446.7 64.0,445.6 62.2,444.5 60.4,443.4 58.6,442.3 56.8,441.1 55.0,439.8 53.2,438.5 51.4,437.2 49.6,435.9 47.8,434.5 46.0,433.0 44.2,431.6" fill="#d3d3d3"/>
<path d="M35.5,443.3 H267.6" stroke="#e8392c" stroke-width="0.6" stroke-dasharray="1.8,1.6" fill="none"/>
<polyline points="44.2,426.3 46.0,428.1 47.8,429.8 49.6,431.4 51.4,433.0 53.2,434.5 55.0,436.0 56.8,437.4 58.6,438.8 60.4,440.1 62.2,441.4 64.0,442.6 65.8,443.8 67.6,444.9 69.4,445.9 71.2,447.0 73.0,447.9 74.8,448.8 76.6,449.7 78.4,450.5 80.2,451.3 82.0,452.0 83.8,452.7 85.6,453.4 87.4,454.0 89.2,454.5 91.0,455.0 92.8,455.5 94.6,455.9 96.4,456.3 98.2,456.7 100.0,457.0 101.8,457.3 103.6,457.5 105.4,457.7 107.2,457.8 109.0,458.0 110.8,458.1 112.6,458.1 114.4,458.1 116.2,458.1 118.0,458.1 119.8,458.0 121.6,457.9 123.4,457.8 125.2,457.6 127.0,457.4 128.8,457.2 130.6,456.9 132.4,456.6 134.2,456.3 136.0,456.0 137.8,455.6 139.6,455.2 141.4,454.8 143.2,454.3 145.0,453.9 146.8,453.4 148.6,452.8 150.4,452.2 152.2,451.6 154.0,451.0 155.8,450.3 157.6,449.6 159.4,448.9 161.2,448.1 163.0,447.3 164.8,446.5 166.6,445.6 168.4,444.7 170.2,443.8 172.0,442.8 173.8,441.8 175.6,440.8 177.4,439.7 179.2,438.6 181.0,437.4 182.8,436.2 184.6,435.0 186.4,433.7 188.2,432.4 190.0,431.1 191.8,429.7 193.6,428.3 195.4,426.9 197.2,425.5 199.0,424.0 200.8,422.6 202.6,421.1 204.4,419.6 206.2,418.1 208.0,416.6 209.8,415.0 211.6,413.5 213.4,411.9 215.2,410.4 217.0,408.9 218.8,407.3 220.6,405.8 222.4,404.3 224.2,402.8 226.0,401.3 227.8,399.8 229.6,398.3 231.4,396.9 233.2,395.5 235.0,394.1 236.8,392.7 238.6,391.3 240.4,390.0 242.2,388.7 244.0,387.4 245.8,386.1 247.6,384.9 249.4,383.6 251.2,382.4 253.0,381.2 254.8,380.0 256.6,378.8 258.4,377.6" fill="none" stroke="#444" stroke-width="0.55"/>
<rect x="44.2" y="465.0" width="32.8" height="4.4" fill="#000" fill-opacity="1.00"/>
<rect x="77.0" y="465.0" width="23.0" height="4.4" fill="#000" fill-opacity="0.70"/>
<path d="M77.7,469.4v-4.4 M78.9,469.4v-4.4 M79.7,469.4v-4.4 M80.0,469.4v-4.4 M83.1,469.4v-4.4 M83.7,469.4v-4.4 M83.8,469.4v-4.4 M83.9,469.4v-4.4 M84.8,469.4v-4.4 M85.4,469.4v-4.4 M85.9,469.4v-4.4 M86.1,469.4v-4.4 M86.4,469.4v-4.4 M86.6,469.4v-4.4 M87.1,469.4v-4.4 M88.5,469.4v-4.4 M90.0,469.4v-4.4 M92.0,469.4v-4.4 M92.8,469.4v-4.4 M92.9,469.4v-4.4 M93.0,469.4v-4.4 M93.8,469.4v-4.4 M95.0,469.4v-4.4 M96.3,469.4v-4.4 M96.7,469.4v-4.4 M97.4,469.4v-4.4 M98.5,469.4v-4.4 M99.1,469.4v-4.4 M99.5,469.4v-4.4 M99.8,469.4v-4.4" stroke="#000" stroke-opacity="1.00" stroke-width="0.45" fill="none"/>
<rect x="100.0" y="465.0" width="22.0" height="4.4" fill="#000" fill-opacity="0.25"/>
<path d="M100.1,469.4v-4.4 M100.4,469.4v-4.4 M100.7,469.4v-4.4 M100.8,469.4v-4.4 M101.5,469.4v-4.4 M101.7,469.4v-4.4 M102.1,469.4v-4.4 M103.6,469.4v-4.4 M103.7,469.4v-4.4 M103.9,469.4v-4.4 M104.2,469.4v-4.4 M104.5,469.4v-4.4 M104.5,469.4v-4.4 M105.6,469.4v-4.4 M106.1,469.4v-4.4 M107.3,469.4v-4.4 M107.8,469.4v-4.4 M107.9,469.4v-4.4 M109.4,469.4v-4.4 M109.6,469.4v-4.4 M110.3,469.4v-4.4 M110.8,469.4v-4.4 M111.4,469.4v-4.4 M111.5,469.4v-4.4 M112.1,469.4v-4.4 M113.3,469.4v-4.4 M113.4,469.4v-4.4 M115.8,469.4v-4.4 M116.0,469.4v-4.4 M117.6,469.4v-4.4 M118.0,469.4v-4.4 M118.4,469.4v-4.4 M121.3,469.4v-4.4 M121.7,469.4v-4.4" stroke="#000" stroke-opacity="0.90" stroke-width="0.45" fill="none"/>
<path d="M122.3,469.4v-4.4 M124.8,469.4v-4.4 M126.1,469.4v-4.4 M126.2,469.4v-4.4 M126.8,469.4v-4.4 M127.2,469.4v-4.4 M129.4,469.4v-4.4 M129.6,469.4v-4.4 M129.7,469.4v-4.4 M130.1,469.4v-4.4 M130.1,469.4v-4.4 M130.3,469.4v-4.4 M131.0,469.4v-4.4 M131.2,469.4v-4.4 M131.2,469.4v-4.4 M132.3,469.4v-4.4 M132.4,469.4v-4.4 M132.4,469.4v-4.4 M133.2,469.4v-4.4 M133.3,469.4v-4.4 M134.2,469.4v-4.4 M134.6,469.4v-4.4 M135.7,469.4v-4.4 M137.3,469.4v-4.4 M138.0,469.4v-4.4 M139.8,469.4v-4.4 M140.6,469.4v-4.4 M140.6,469.4v-4.4 M140.9,469.4v-4.4 M141.3,469.4v-4.4 M141.6,469.4v-4.4 M142.2,469.4v-4.4 M142.5,469.4v-4.4 M142.5,469.4v-4.4 M144.5,469.4v-4.4 M146.9,469.4v-4.4 M148.3,469.4v-4.4 M148.8,469.4v-4.4 M149.7,469.4v-4.4 M149.8,469.4v-4.4" stroke="#000" stroke-opacity="0.70" stroke-width="0.40" fill="none"/>
<path d="M151.1,469.4v-4.4 M151.6,469.4v-4.4 M152.5,469.4v-4.4 M153.8,469.4v-4.4 M155.0,469.4v-4.4 M155.4,469.4v-4.4 M155.7,469.4v-4.4 M158.5,469.4v-4.4 M158.7,469.4v-4.4 M159.3,469.4v-4.4 M161.4,469.4v-4.4 M162.6,469.4v-4.4 M162.8,469.4v-4.4 M164.6,469.4v-4.4 M165.3,469.4v-4.4 M167.4,469.4v-4.4 M169.9,469.4v-4.4 M171.7,469.4v-4.4 M172.5,469.4v-4.4 M173.3,469.4v-4.4" stroke="#000" stroke-opacity="0.50" stroke-width="0.40" fill="none"/>
<path d="M181.0,469.4v-4.4 M188.7,469.4v-4.4 M192.0,469.4v-4.4 M193.2,469.4v-4.4 M194.4,469.4v-4.4 M194.5,469.4v-4.4 M198.4,469.4v-4.4 M199.8,469.4v-4.4 M199.8,469.4v-4.4" stroke="#000" stroke-opacity="0.40" stroke-width="0.40" fill="none"/>
<path d="M206.8,469.4v-4.4 M209.4,469.4v-4.4 M211.2,469.4v-4.4 M217.5,469.4v-4.4 M218.1,469.4v-4.4" stroke="#000" stroke-opacity="0.35" stroke-width="0.40" fill="none"/>
<path d="M258.5,469.4v-4.4" stroke="#000" stroke-opacity="0.40" stroke-width="0.40" fill="none"/>
<rect x="35.5" y="330.8" width="232.1" height="138.6" fill="none" stroke="#777" stroke-width="0.6"/>
<text transform="translate(27.9,351.0) rotate(-90)" font-family="Liberation Sans, Arial, sans-serif" font-size="9.2" font-weight="bold" text-anchor="middle" fill="#151515">0.8</text>
<text transform="translate(27.9,373.9) rotate(-90)" font-family="Liberation Sans, Arial, sans-serif" font-size="9.2" font-weight="bold" text-anchor="middle" fill="#151515">0.6</text>
<text transform="translate(27.9,396.9) rotate(-90)" font-family="Liberation Sans, Arial, sans-serif" font-size="9.2" font-weight="bold" text-anchor="middle" fill="#151515">0.4</text>
<text transform="translate(27.9,419.9) rotate(-90)" font-family="Liberation Sans, Arial, sans-serif" font-size="9.2" font-weight="bold" text-anchor="middle" fill="#151515">0.2</text>
<text transform="translate(27.9,442.9) rotate(-90)" font-family="Liberation Sans, Arial, sans-serif" font-size="9.2" font-weight="bold" text-anchor="middle" fill="#151515">0</text>
<text transform="translate(27.9,467.8) rotate(-90)" font-family="Liberation Sans, Arial, sans-serif" font-size="9.2" font-weight="bold" text-anchor="middle" fill="#151515">-0.2</text>
<text x="36.9" y="481.5" font-family="Liberation Sans, Arial, sans-serif" font-size="9.2" font-weight="bold" text-anchor="middle" fill="#151515">0</text>
<text x="95.9" y="481.5" font-family="Liberation Sans, Arial, sans-serif" font-size="9.2" font-weight="bold" text-anchor="middle" fill="#151515">100</text>
<text x="154.9" y="481.5" font-family="Liberation Sans, Arial, sans-serif" font-size="9.2" font-weight="bold" text-anchor="middle" fill="#151515">200</text>
<text x="213.9" y="481.5" font-family="Liberation Sans, Arial, sans-serif" font-size="9.2" font-weight="bold" text-anchor="middle" fill="#151515">300</text>
<path d="M35.5,351.3h-2.8 M35.5,374.2h-2.8 M35.5,397.2h-2.8 M35.5,420.2h-2.8 M35.5,443.2h-2.8 M35.5,466.2h-2.8 M36.9,469.4v2.8 M95.9,469.4v2.8 M154.9,469.4v2.8 M213.9,469.4v2.8" stroke="#555" stroke-width="0.6" fill="none"/>
<text x="44.0" y="346.0" font-family="Liberation Sans, Arial, sans-serif" font-size="14" font-weight="bold" fill="#000">b</text>
<text x="157.6" y="495.6" font-family="Liberation Sans, Arial, sans-serif" font-size="12" font-weight="bold" text-anchor="middle" fill="#000">Isothermal Layer Depth (m)</text>
<polygon points="306.0,341.3 307.8,343.1 309.6,344.9 311.4,346.7 313.2,348.5 315.0,350.2 316.8,352.0 318.6,353.7 320.4,355.4 322.2,357.1 324.0,358.7 325.8,360.4 327.6,362.0 329.4,363.7 331.2,365.3 333.0,366.9 334.8,368.5 336.6,370.1 338.4,371.8 340.2,373.4 341.9,375.0 343.7,376.6 345.5,378.2 347.3,379.8 349.1,381.4 350.9,382.9 352.7,384.5 354.5,386.1 356.3,387.6 358.1,389.1 359.9,390.6 361.7,392.1 363.5,393.5 365.3,395.0 367.1,396.4 368.9,397.7 370.7,399.1 372.5,400.4 374.3,401.6 376.1,402.9 377.9,404.0 379.7,405.2 381.5,406.3 383.3,407.3 385.1,408.3 386.9,409.3 388.7,410.2 390.5,411.1 392.3,411.8 394.1,412.6 395.9,413.3 397.7,413.9 399.5,414.4 401.3,415.0 403.1,415.4 404.9,415.9 406.7,416.3 408.5,416.6 410.3,416.9 412.1,417.2 413.8,417.4 415.6,417.6 417.4,417.8 419.2,417.9 421.0,418.0 422.8,418.1 424.6,418.2 426.4,418.3 428.2,418.3 430.0,418.3 431.8,418.3 433.6,418.3 435.4,418.3 437.2,418.2 439.0,418.2 440.8,418.2 442.6,418.1 444.4,418.1 446.2,418.0 448.0,418.0 449.8,418.0 451.6,417.9 453.4,417.9 455.2,417.9 457.0,417.8 458.8,417.8 460.6,417.8 462.4,417.8 464.2,417.7 466.0,417.7 467.8,417.6 469.6,417.6 471.4,417.6 473.2,417.5 475.0,417.5 476.8,417.4 478.6,417.3 480.4,417.3 482.2,417.2 484.0,417.1 485.7,417.0 487.5,417.0 489.3,416.9 491.1,416.8 492.9,416.6 494.7,416.5 496.5,416.4 498.3,416.3 500.1,416.1 501.9,416.0 503.7,415.8 505.5,415.7 507.3,415.5 509.1,415.3 510.9,415.1 512.7,414.9 514.5,414.7 516.3,414.5 518.1,414.2 519.9,414.0 519.9,465.0 518.1,463.8 516.3,462.6 514.5,461.5 512.7,460.3 510.9,459.2 509.1,458.1 507.3,457.1 505.5,456.0 503.7,455.0 501.9,453.9 500.1,452.9 498.3,452.0 496.5,451.0 494.7,450.1 492.9,449.1 491.1,448.2 489.3,447.3 487.5,446.5 485.7,445.6 484.0,444.8 482.2,443.9 480.4,443.1 478.6,442.3 476.8,441.6 475.0,440.8 473.2,440.1 471.4,439.3 469.6,438.6 467.8,437.9 466.0,437.2 464.2,436.5 462.4,435.9 460.6,435.2 458.8,434.6 457.0,434.0 455.2,433.4 453.4,432.8 451.6,432.2 449.8,431.6 448.0,431.0 446.2,430.5 444.4,429.9 442.6,429.4 440.8,428.9 439.0,428.4 437.2,427.9 435.4,427.4 433.6,426.9 431.8,426.4 430.0,425.9 428.2,425.4 426.4,424.9 424.6,424.4 422.8,423.9 421.0,423.4 419.2,422.9 417.4,422.3 415.6,421.8 413.8,421.3 412.1,420.7 410.3,420.2 408.5,419.6 406.7,419.0 404.9,418.4 403.1,417.8 401.3,417.2 399.5,416.6 397.7,415.9 395.9,415.2 394.1,414.5 392.3,413.8 390.5,413.0 388.7,412.2 386.9,411.4 385.1,410.6 383.3,409.8 381.5,408.9 379.7,408.0 377.9,407.1 376.1,406.2 374.3,405.3 372.5,404.3 370.7,403.3 368.9,402.4 367.1,401.4 365.3,400.4 363.5,399.4 361.7,398.4 359.9,397.3 358.1,396.3 356.3,395.3 354.5,394.3 352.7,393.2 350.9,392.2 349.1,391.2 347.3,390.2 345.5,389.2 343.7,388.3 341.9,387.3 340.2,386.4 338.4,385.4 336.6,384.5 334.8,383.7 333.0,382.8 331.2,382.0 329.4,381.2 327.6,380.4 325.8,379.6 324.0,378.9 322.2,378.2 320.4,377.6 318.6,377.0 316.8,376.4 315.0,375.8 313.2,375.3 311.4,374.9 309.6,374.4 307.8,374.0 306.0,373.7" fill="#d3d3d3"/>
<path d="M297.6,409.3 H528.8" stroke="#e8392c" stroke-width="0.6" stroke-dasharray="1.8,1.6" fill="none"/>
<polyline points="306.0,354.7 307.8,355.8 309.6,357.0 311.4,358.1 313.2,359.3 315.0,360.6 316.8,361.8 318.6,363.1 320.4,364.3 322.2,365.6 324.0,366.9 325.8,368.3 327.6,369.6 329.4,370.9 331.2,372.3 333.0,373.6 334.8,375.0 336.6,376.4 338.4,377.8 340.2,379.1 341.9,380.5 343.7,381.9 345.5,383.3 347.3,384.6 349.1,386.0 350.9,387.4 352.7,388.7 354.5,390.0 356.3,391.4 358.1,392.7 359.9,393.9 361.7,395.2 363.5,396.5 365.3,397.7 367.1,398.9 368.9,400.1 370.7,401.2 372.5,402.3 374.3,403.4 376.1,404.5 377.9,405.5 379.7,406.5 381.5,407.5 383.3,408.4 385.1,409.3 386.9,410.2 388.7,411.0 390.5,411.8 392.3,412.5 394.1,413.3 395.9,413.9 397.7,414.6 399.5,415.2 401.3,415.8 403.1,416.4 404.9,416.9 406.7,417.4 408.5,417.9 410.3,418.3 412.1,418.7 413.8,419.1 415.6,419.5 417.4,419.9 419.2,420.2 421.0,420.5 422.8,420.9 424.6,421.2 426.4,421.5 428.2,421.7 430.0,422.0 431.8,422.3 433.6,422.5 435.4,422.8 437.2,423.0 439.0,423.3 440.8,423.5 442.6,423.8 444.4,424.0 446.2,424.3 448.0,424.5 449.8,424.8 451.6,425.0 453.4,425.3 455.2,425.6 457.0,425.9 458.8,426.2 460.6,426.4 462.4,426.7 464.2,427.1 466.0,427.4 467.8,427.7 469.6,428.0 471.4,428.4 473.2,428.7 475.0,429.1 476.8,429.4 478.6,429.8 480.4,430.2 482.2,430.6 484.0,431.0 485.7,431.4 487.5,431.8 489.3,432.2 491.1,432.6 492.9,433.0 494.7,433.4 496.5,433.8 498.3,434.3 500.1,434.7 501.9,435.1 503.7,435.6 505.5,436.0 507.3,436.4 509.1,436.9 510.9,437.3 512.7,437.8 514.5,438.2 516.3,438.6 518.1,439.1 519.9,439.5" fill="none" stroke="#444" stroke-width="0.55"/>
<path d="M306.3,470.3v-4.4 M306.3,470.3v-4.4 M307.2,470.3v-4.4 M307.6,470.3v-4.4 M307.8,470.3v-4.4 M309.0,470.3v-4.4 M309.7,470.3v-4.4 M309.7,470.3v-4.4 M309.8,470.3v-4.4 M311.6,470.3v-4.4 M312.5,470.3v-4.4 M314.3,470.3v-4.4 M314.3,470.3v-4.4 M314.6,470.3v-4.4 M315.2,470.3v-4.4 M315.9,470.3v-4.4 M317.4,470.3v-4.4 M317.6,470.3v-4.4 M320.7,470.3v-4.4 M321.4,470.3v-4.4 M322.1,470.3v-4.4 M324.6,470.3v-4.4 M325.0,470.3v-4.4 M325.3,470.3v-4.4 M326.5,470.3v-4.4 M326.5,470.3v-4.4 M327.1,470.3v-4.4 M327.5,470.3v-4.4 M327.6,470.3v-4.4 M328.1,470.3v-4.4 M331.0,470.3v-4.4 M331.1,470.3v-4.4 M332.2,470.3v-4.4 M335.1,470.3v-4.4 M336.0,470.3v-4.4 M337.2,470.3v-4.4 M337.5,470.3v-4.4 M337.7,470.3v-4.4 M337.8,470.3v-4.4 M338.2,470.3v-4.4 M338.3,470.3v-4.4 M338.6,470.3v-4.4 M341.0,470.3v-4.4 M342.2,470.3v-4.4 M342.2,470.3v-4.4 M343.8,470.3v-4.4 M344.0,470.3v-4.4 M344.6,470.3v-4.4" stroke="#000" stroke-opacity="0.32" stroke-width="0.45" fill="none"/>
<rect x="345.0" y="465.9" width="21.6" height="4.4" fill="#000" fill-opacity="0.12"/>
<path d="M345.3,470.3v-4.4 M346.1,470.3v-4.4 M346.7,470.3v-4.4 M348.3,470.3v-4.4 M348.5,470.3v-4.4 M349.4,470.3v-4.4 M349.4,470.3v-4.4 M350.7,470.3v-4.4 M351.3,470.3v-4.4 M351.6,470.3v-4.4 M351.8,470.3v-4.4 M353.2,470.3v-4.4 M353.9,470.3v-4.4 M354.3,470.3v-4.4 M355.1,470.3v-4.4 M355.2,470.3v-4.4 M356.2,470.3v-4.4 M356.8,470.3v-4.4 M356.9,470.3v-4.4 M358.8,470.3v-4.4 M358.9,470.3v-4.4 M360.0,470.3v-4.4 M360.2,470.3v-4.4 M360.5,470.3v-4.4 M360.5,470.3v-4.4 M362.9,470.3v-4.4 M363.1,470.3v-4.4 M363.4,470.3v-4.4 M363.9,470.3v-4.4 M364.8,470.3v-4.4 M364.8,470.3v-4.4 M365.3,470.3v-4.4 M365.7,470.3v-4.4 M366.1,470.3v-4.4" stroke="#000" stroke-opacity="0.50" stroke-width="0.45" fill="none"/>
<rect x="366.8" y="465.9" width="5.2" height="4.4" fill="#000" fill-opacity="1.00"/>
<rect x="372.0" y="465.9" width="20.0" height="4.4" fill="#000" fill-opacity="0.30"/>
<path d="M374.1,470.3v-4.4 M374.1,470.3v-4.4 M374.1,470.3v-4.4 M375.1,470.3v-4.4 M375.3,470.3v-4.4 M376.7,470.3v-4.4 M376.7,470.3v-4.4 M376.9,470.3v-4.4 M377.1,470.3v-4.4 M378.0,470.3v-4.4 M379.1,470.3v-4.4 M379.1,470.3v-4.4 M380.3,470.3v-4.4 M380.7,470.3v-4.4 M381.3,470.3v-4.4 M381.5,470.3v-4.4 M382.1,470.3v-4.4 M382.5,470.3v-4.4 M382.9,470.3v-4.4 M384.3,470.3v-4.4 M385.0,470.3v-4.4 M385.8,470.3v-4.4 M386.4,470.3v-4.4 M386.9,470.3v-4.4 M387.4,470.3v-4.4 M387.8,470.3v-4.4 M388.1,470.3v-4.4 M388.5,470.3v-4.4 M388.5,470.3v-4.4 M391.9,470.3v-4.4" stroke="#000" stroke-opacity="0.70" stroke-width="0.45" fill="none"/>
<rect x="392.0" y="465.9" width="28.0" height="4.4" fill="#000" fill-opacity="0.12"/>
<path d="M393.0,470.3v-4.4 M394.1,470.3v-4.4 M394.2,470.3v-4.4 M394.4,470.3v-4.4 M395.7,470.3v-4.4 M396.0,470.3v-4.4 M396.3,470.3v-4.4 M396.9,470.3v-4.4 M397.6,470.3v-4.4 M397.8,470.3v-4.4 M397.9,470.3v-4.4 M398.5,470.3v-4.4 M399.0,470.3v-4.4 M400.4,470.3v-4.4 M401.3,470.3v-4.4 M403.2,470.3v-4.4 M406.5,470.3v-4.4 M407.5,470.3v-4.4 M408.8,470.3v-4.4 M409.1,470.3v-4.4 M409.2,470.3v-4.4 M409.3,470.3v-4.4 M409.7,470.3v-4.4 M410.4,470.3v-4.4 M410.5,470.3v-4.4 M411.1,470.3v-4.4 M411.3,470.3v-4.4 M411.7,470.3v-4.4 M411.7,470.3v-4.4 M412.3,470.3v-4.4 M413.0,470.3v-4.4 M413.6,470.3v-4.4 M413.7,470.3v-4.4 M414.3,470.3v-4.4 M414.9,470.3v-4.4 M415.5,470.3v-4.4 M415.8,470.3v-4.4 M417.2,470.3v-4.4 M417.3,470.3v-4.4 M418.5,470.3v-4.4 M419.0,470.3v-4.4 M419.0,470.3v-4.4" stroke="#000" stroke-opacity="0.50" stroke-width="0.45" fill="none"/>
<path d="M421.0,470.3v-4.4 M421.7,470.3v-4.4 M422.1,470.3v-4.4 M424.0,470.3v-4.4 M424.1,470.3v-4.4 M424.7,470.3v-4.4 M424.7,470.3v-4.4 M425.6,470.3v-4.4 M426.1,470.3v-4.4 M426.3,470.3v-4.4 M428.0,470.3v-4.4 M430.0,470.3v-4.4 M430.3,470.3v-4.4 M431.0,470.3v-4.4 M431.2,470.3v-4.4 M432.5,470.3v-4.4 M434.6,470.3v-4.4 M434.6,470.3v-4.4 M435.7,470.3v-4.4 M436.9,470.3v-4.4 M437.1,470.3v-4.4 M437.5,470.3v-4.4 M437.7,470.3v-4.4 M437.8,470.3v-4.4 M437.9,470.3v-4.4 M438.4,470.3v-4.4 M439.0,470.3v-4.4 M440.4,470.3v-4.4 M440.5,470.3v-4.4 M443.0,470.3v-4.4 M443.4,470.3v-4.4 M443.5,470.3v-4.4" stroke="#000" stroke-opacity="0.38" stroke-width="0.45" fill="none"/>
<path d="M445.4,470.3v-4.4 M446.3,470.3v-4.4 M448.4,470.3v-4.4 M449.6,470.3v-4.4 M449.6,470.3v-4.4 M453.8,470.3v-4.4 M454.8,470.3v-4.4 M455.0,470.3v-4.4 M455.9,470.3v-4.4 M456.8,470.3v-4.4 M458.1,470.3v-4.4 M458.8,470.3v-4.4 M458.9,470.3v-4.4 M459.0,470.3v-4.4 M460.3,470.3v-4.4 M462.1,470.3v-4.4 M462.5,470.3v-4.4 M463.3,470.3v-4.4 M465.0,470.3v-4.4 M465.4,470.3v-4.4 M465.4,470.3v-4.4 M466.7,470.3v-4.4 M468.5,470.3v-4.4 M470.1,470.3v-4.4 M470.4,470.3v-4.4 M471.0,470.3v-4.4 M472.7,470.3v-4.4 M472.8,470.3v-4.4 M472.9,470.3v-4.4 M474.6,470.3v-4.4" stroke="#000" stroke-opacity="0.30" stroke-width="0.45" fill="none"/>
<path d="M475.5,470.3v-4.4 M476.0,470.3v-4.4 M476.9,470.3v-4.4 M477.1,470.3v-4.4 M477.7,470.3v-4.4 M477.9,470.3v-4.4 M483.2,470.3v-4.4 M483.8,470.3v-4.4 M484.3,470.3v-4.4 M484.6,470.3v-4.4 M484.6,470.3v-4.4 M484.8,470.3v-4.4 M485.3,470.3v-4.4 M485.8,470.3v-4.4 M486.4,470.3v-4.4 M488.6,470.3v-4.4 M494.5,470.3v-4.4 M495.0,470.3v-4.4 M495.5,470.3v-4.4 M495.9,470.3v-4.4 M496.9,470.3v-4.4 M497.8,470.3v-4.4" stroke="#000" stroke-opacity="0.33" stroke-width="0.45" fill="none"/>
<rect x="497.8" y="465.9" width="2.6" height="4.4" fill="#000" fill-opacity="0.40"/>
<rect x="297.6" y="330.8" width="231.2" height="139.5" fill="none" stroke="#777" stroke-width="0.6"/>
<text transform="translate(289.9,339.7) rotate(-90)" font-family="Liberation Sans, Arial, sans-serif" font-size="9.2" font-weight="bold" text-anchor="middle" fill="#151515">0.6</text>
<text transform="translate(289.9,362.8) rotate(-90)" font-family="Liberation Sans, Arial, sans-serif" font-size="9.2" font-weight="bold" text-anchor="middle" fill="#151515">0.4</text>
<text transform="translate(289.9,385.9) rotate(-90)" font-family="Liberation Sans, Arial, sans-serif" font-size="9.2" font-weight="bold" text-anchor="middle" fill="#151515">0.2</text>
<text transform="translate(289.9,409.0) rotate(-90)" font-family="Liberation Sans, Arial, sans-serif" font-size="9.2" font-weight="bold" text-anchor="middle" fill="#151515">0</text>
<text transform="translate(289.9,434.0) rotate(-90)" font-family="Liberation Sans, Arial, sans-serif" font-size="9.2" font-weight="bold" text-anchor="middle" fill="#151515">-0.2</text>
<text transform="translate(289.9,457.2) rotate(-90)" font-family="Liberation Sans, Arial, sans-serif" font-size="9.2" font-weight="bold" text-anchor="middle" fill="#151515">-0.4</text>
<text x="330.0" y="481.1" font-family="Liberation Sans, Arial, sans-serif" font-size="9.2" font-weight="bold" text-anchor="middle" fill="#151515">5</text>
<text x="375.8" y="481.1" font-family="Liberation Sans, Arial, sans-serif" font-size="9.2" font-weight="bold" text-anchor="middle" fill="#151515">10</text>
<text x="421.6" y="481.1" font-family="Liberation Sans, Arial, sans-serif" font-size="9.2" font-weight="bold" text-anchor="middle" fill="#151515">15</text>
<text x="467.4" y="481.1" font-family="Liberation Sans, Arial, sans-serif" font-size="9.2" font-weight="bold" text-anchor="middle" fill="#151515">20</text>
<text x="513.1" y="481.1" font-family="Liberation Sans, Arial, sans-serif" font-size="9.2" font-weight="bold" text-anchor="middle" fill="#151515">25</text>
<path d="M297.6,340.0h-2.8 M297.6,363.1h-2.8 M297.6,386.2h-2.8 M297.6,409.3h-2.8 M297.6,432.4h-2.8 M297.6,455.6h-2.8 M330.0,470.3v2.8 M375.8,470.3v2.8 M421.6,470.3v2.8 M467.4,470.3v2.8 M513.1,470.3v2.8" stroke="#555" stroke-width="0.6" fill="none"/>
<text x="304.6" y="345.8" font-family="Liberation Sans, Arial, sans-serif" font-size="14" font-weight="bold" fill="#000">c</text>
<text x="414.3" y="494.7" font-family="Liberation Sans, Arial, sans-serif" font-size="12" font-weight="bold" text-anchor="middle" fill="#000">Sea Surface Temperature (°C)</text>
<polygon points="44.0,617.0 45.8,616.7 47.6,616.4 49.4,616.1 51.2,615.7 53.0,615.3 54.8,614.8 56.6,614.3 58.4,613.8 60.2,613.3 62.0,612.7 63.8,612.1 65.6,611.4 67.4,610.8 69.2,610.1 71.0,609.4 72.8,608.6 74.6,607.9 76.4,607.1 78.2,606.3 80.0,605.5 81.8,604.6 83.6,603.8 85.4,602.9 87.2,602.0 89.0,601.1 90.8,600.2 92.6,599.3 94.4,598.3 96.2,597.4 98.0,596.4 99.8,595.4 101.6,594.4 103.4,593.5 105.2,592.5 107.0,591.5 108.8,590.5 110.6,589.4 112.4,588.4 114.2,587.4 116.0,586.4 117.8,585.4 119.6,584.4 121.4,583.4 123.2,582.4 125.0,581.3 126.8,580.3 128.6,579.3 130.4,578.3 132.2,577.3 134.0,576.3 135.8,575.3 137.6,574.3 139.4,573.3 141.2,572.3 143.0,571.3 144.8,570.3 146.6,569.4 148.4,568.4 150.2,567.4 152.0,566.5 153.8,565.5 155.6,564.6 157.4,563.6 159.2,562.7 161.0,561.8 162.8,560.8 164.6,559.9 166.4,559.0 168.2,558.1 170.0,557.2 171.8,556.4 173.6,555.5 175.4,554.6 177.2,553.7 179.0,552.9 180.8,552.0 182.6,551.2 184.4,550.3 186.2,549.5 188.0,548.7 189.8,547.8 191.6,547.0 193.4,546.2 195.2,545.4 197.0,544.6 198.8,543.7 200.6,542.9 202.4,542.1 204.2,541.3 206.0,540.5 207.8,539.7 209.6,538.9 211.4,538.2 213.2,537.4 215.0,536.6 216.8,535.8 218.6,535.0 220.4,534.2 222.2,533.5 224.0,532.7 225.8,531.9 227.6,531.1 229.4,530.4 231.2,529.6 233.0,528.8 234.8,528.0 236.6,527.3 238.4,526.5 240.2,525.7 242.0,524.9 243.8,524.2 245.6,523.4 247.4,522.6 249.2,521.8 251.0,521.0 252.8,520.3 254.6,519.5 256.4,518.7 258.2,517.9 258.2,578.4 256.4,578.1 254.6,577.8 252.8,577.6 251.0,577.3 249.2,577.1 247.4,576.8 245.6,576.6 243.8,576.4 242.0,576.2 240.2,576.0 238.4,575.8 236.6,575.6 234.8,575.5 233.0,575.3 231.2,575.2 229.4,575.1 227.6,574.9 225.8,574.8 224.0,574.7 222.2,574.6 220.4,574.5 218.6,574.5 216.8,574.4 215.0,574.3 213.2,574.3 211.4,574.2 209.6,574.2 207.8,574.2 206.0,574.1 204.2,574.1 202.4,574.1 200.6,574.1 198.8,574.1 197.0,574.2 195.2,574.2 193.4,574.2 191.6,574.3 189.8,574.3 188.0,574.4 186.2,574.5 184.4,574.6 182.6,574.7 180.8,574.8 179.0,575.0 177.2,575.1 175.4,575.2 173.6,575.4 171.8,575.6 170.0,575.8 168.2,576.0 166.4,576.2 164.6,576.4 162.8,576.7 161.0,576.9 159.2,577.2 157.4,577.5 155.6,577.8 153.8,578.1 152.0,578.5 150.2,578.8 148.4,579.2 146.6,579.6 144.8,580.0 143.0,580.4 141.2,580.8 139.4,581.3 137.6,581.8 135.8,582.3 134.0,582.8 132.2,583.4 130.4,583.9 128.6,584.5 126.8,585.1 125.0,585.8 123.2,586.5 121.4,587.1 119.6,587.9 117.8,588.6 116.0,589.4 114.2,590.2 112.4,591.0 110.6,591.9 108.8,592.8 107.0,593.7 105.2,594.6 103.4,595.6 101.6,596.6 99.8,597.7 98.0,598.7 96.2,599.8 94.4,601.0 92.6,602.1 90.8,603.3 89.0,604.5 87.2,605.8 85.4,607.1 83.6,608.4 81.8,609.7 80.0,611.1 78.2,612.5 76.4,614.0 74.6,615.4 72.8,616.9 71.0,618.5 69.2,620.0 67.4,621.6 65.6,623.2 63.8,624.9 62.0,626.6 60.2,628.3 58.4,630.1 56.6,631.9 54.8,633.7 53.0,635.6 51.2,637.4 49.4,639.4 47.6,641.3 45.8,643.3 44.0,645.3" fill="#d3d3d3"/>
<path d="M35.5,590.3 H266.8" stroke="#e8392c" stroke-width="0.6" stroke-dasharray="1.8,1.6" fill="none"/>
<polyline points="44.0,631.6 45.8,630.5 47.6,629.3 49.4,628.2 51.2,627.0 53.0,625.8 54.8,624.7 56.6,623.5 58.4,622.3 60.2,621.2 62.0,620.0 63.8,618.8 65.6,617.7 67.4,616.5 69.2,615.4 71.0,614.2 72.8,613.1 74.6,611.9 76.4,610.8 78.2,609.6 80.0,608.5 81.8,607.4 83.6,606.2 85.4,605.1 87.2,604.0 89.0,602.9 90.8,601.8 92.6,600.8 94.4,599.7 96.2,598.6 98.0,597.6 99.8,596.5 101.6,595.5 103.4,594.5 105.2,593.5 107.0,592.5 108.8,591.5 110.6,590.6 112.4,589.6 114.2,588.7 116.0,587.7 117.8,586.8 119.6,586.0 121.4,585.1 123.2,584.2 125.0,583.4 126.8,582.5 128.6,581.7 130.4,580.9 132.2,580.1 134.0,579.3 135.8,578.5 137.6,577.8 139.4,577.0 141.2,576.3 143.0,575.6 144.8,574.9 146.6,574.2 148.4,573.5 150.2,572.8 152.0,572.2 153.8,571.5 155.6,570.9 157.4,570.3 159.2,569.7 161.0,569.1 162.8,568.5 164.6,567.9 166.4,567.3 168.2,566.8 170.0,566.2 171.8,565.7 173.6,565.2 175.4,564.7 177.2,564.2 179.0,563.7 180.8,563.2 182.6,562.7 184.4,562.2 186.2,561.8 188.0,561.3 189.8,560.9 191.6,560.4 193.4,560.0 195.2,559.6 197.0,559.2 198.8,558.8 200.6,558.4 202.4,558.0 204.2,557.6 206.0,557.2 207.8,556.8 209.6,556.5 211.4,556.1 213.2,555.8 215.0,555.4 216.8,555.1 218.6,554.7 220.4,554.4 222.2,554.1 224.0,553.7 225.8,553.4 227.6,553.1 229.4,552.8 231.2,552.5 233.0,552.2 234.8,551.9 236.6,551.6 238.4,551.3 240.2,551.0 242.0,550.7 243.8,550.4 245.6,550.1 247.4,549.8 249.2,549.6 251.0,549.3 252.8,549.0 254.6,548.7 256.4,548.5 258.2,548.2" fill="none" stroke="#444" stroke-width="0.55"/>
<path d="M44.1,651.4v-4.4" stroke="#000" stroke-opacity="0.40" stroke-width="0.40" fill="none"/>
<path d="M54.0,651.4v-4.4 M55.1,651.4v-4.4 M56.5,651.4v-4.4 M57.8,651.4v-4.4 M60.0,651.4v-4.4 M61.6,651.4v-4.4" stroke="#000" stroke-opacity="0.30" stroke-width="0.40" fill="none"/>
<path d="M66.8,651.4v-4.4 M67.3,651.4v-4.4 M69.5,651.4v-4.4 M71.0,651.4v-4.4 M71.3,651.4v-4.4" stroke="#000" stroke-opacity="0.40" stroke-width="0.45" fill="none"/>
<rect x="72.0" y="647.0" width="12.0" height="4.4" fill="#000" fill-opacity="0.45"/>
<path d="M72.1,651.4v-4.4 M72.2,651.4v-4.4 M73.3,651.4v-4.4 M74.1,651.4v-4.4 M74.1,651.4v-4.4 M74.2,651.4v-4.4 M74.6,651.4v-4.4 M75.0,651.4v-4.4 M75.3,651.4v-4.4 M76.0,651.4v-4.4 M76.5,651.4v-4.4 M77.2,651.4v-4.4 M79.2,651.4v-4.4 M79.2,651.4v-4.4 M81.5,651.4v-4.4 M81.7,651.4v-4.4 M81.8,651.4v-4.4 M81.8,651.4v-4.4 M83.3,651.4v-4.4 M83.7,651.4v-4.4" stroke="#000" stroke-opacity="0.90" stroke-width="0.45" fill="none"/>
<rect x="84.0" y="647.0" width="24.0" height="4.4" fill="#000" fill-opacity="0.95"/>
<rect x="108.0" y="647.0" width="34.0" height="4.4" fill="#000" fill-opacity="0.50"/>
<path d="M108.7,651.4v-4.4 M109.2,651.4v-4.4 M109.5,651.4v-4.4 M110.0,651.4v-4.4 M111.6,651.4v-4.4 M112.8,651.4v-4.4 M114.1,651.4v-4.4 M115.1,651.4v-4.4 M116.1,651.4v-4.4 M116.5,651.4v-4.4 M117.7,651.4v-4.4 M119.6,651.4v-4.4 M120.1,651.4v-4.4 M120.2,651.4v-4.4 M120.8,651.4v-4.4 M121.0,651.4v-4.4 M121.2,651.4v-4.4 M125.2,651.4v-4.4 M126.5,651.4v-4.4 M127.6,651.4v-4.4 M127.8,651.4v-4.4 M128.2,651.4v-4.4 M128.4,651.4v-4.4 M128.5,651.4v-4.4 M129.4,651.4v-4.4 M129.4,651.4v-4.4 M133.2,651.4v-4.4 M134.1,651.4v-4.4 M137.0,651.4v-4.4 M138.1,651.4v-4.4 M138.3,651.4v-4.4 M138.3,651.4v-4.4 M139.8,651.4v-4.4 M140.2,651.4v-4.4 M141.2,651.4v-4.4 M141.4,651.4v-4.4" stroke="#000" stroke-opacity="1.00" stroke-width="0.45" fill="none"/>
<rect x="142.0" y="647.0" width="38.0" height="4.4" fill="#000" fill-opacity="0.12"/>
<path d="M142.9,651.4v-4.4 M145.4,651.4v-4.4 M145.5,651.4v-4.4 M146.2,651.4v-4.4 M148.1,651.4v-4.4 M148.3,651.4v-4.4 M148.6,651.4v-4.4 M149.6,651.4v-4.4 M149.8,651.4v-4.4 M150.0,651.4v-4.4 M151.4,651.4v-4.4 M151.7,651.4v-4.4 M152.3,651.4v-4.4 M152.5,651.4v-4.4 M153.3,651.4v-4.4 M153.7,651.4v-4.4 M153.9,651.4v-4.4 M153.9,651.4v-4.4 M154.8,651.4v-4.4 M154.9,651.4v-4.4 M155.7,651.4v-4.4 M155.8,651.4v-4.4 M157.0,651.4v-4.4 M159.4,651.4v-4.4 M159.5,651.4v-4.4 M159.6,651.4v-4.4 M161.3,651.4v-4.4 M162.1,651.4v-4.4 M162.5,651.4v-4.4 M162.9,651.4v-4.4 M164.7,651.4v-4.4 M165.2,651.4v-4.4 M165.8,651.4v-4.4 M166.1,651.4v-4.4 M166.4,651.4v-4.4 M167.0,651.4v-4.4 M167.0,651.4v-4.4 M168.5,651.4v-4.4 M168.5,651.4v-4.4 M169.8,651.4v-4.4 M170.7,651.4v-4.4 M171.6,651.4v-4.4 M171.6,651.4v-4.4 M172.6,651.4v-4.4 M174.7,651.4v-4.4 M177.1,651.4v-4.4 M178.2,651.4v-4.4 M178.4,651.4v-4.4 M178.7,651.4v-4.4 M179.1,651.4v-4.4 M179.3,651.4v-4.4 M179.7,651.4v-4.4" stroke="#000" stroke-opacity="0.65" stroke-width="0.45" fill="none"/>
<rect x="180.0" y="647.0" width="45.0" height="4.4" fill="#000" fill-opacity="0.06"/>
<path d="M180.1,651.4v-4.4 M181.2,651.4v-4.4 M181.8,651.4v-4.4 M184.1,651.4v-4.4 M185.0,651.4v-4.4 M185.1,651.4v-4.4 M186.0,651.4v-4.4 M187.8,651.4v-4.4 M188.2,651.4v-4.4 M188.5,651.4v-4.4 M189.4,651.4v-4.4 M190.9,651.4v-4.4 M192.3,651.4v-4.4 M192.7,651.4v-4.4 M193.9,651.4v-4.4 M194.5,651.4v-4.4 M195.5,651.4v-4.4 M195.9,651.4v-4.4 M196.2,651.4v-4.4 M196.9,651.4v-4.4 M197.4,651.4v-4.4 M197.8,651.4v-4.4 M198.1,651.4v-4.4 M198.5,651.4v-4.4 M199.9,651.4v-4.4 M200.0,651.4v-4.4 M200.3,651.4v-4.4 M201.9,651.4v-4.4 M202.1,651.4v-4.4 M202.1,651.4v-4.4 M202.5,651.4v-4.4 M202.5,651.4v-4.4 M203.6,651.4v-4.4 M203.7,651.4v-4.4 M206.0,651.4v-4.4 M206.2,651.4v-4.4 M206.2,651.4v-4.4 M206.8,651.4v-4.4 M209.5,651.4v-4.4 M209.9,651.4v-4.4 M212.0,651.4v-4.4 M212.2,651.4v-4.4 M212.2,651.4v-4.4 M212.8,651.4v-4.4 M214.7,651.4v-4.4 M220.5,651.4v-4.4 M222.4,651.4v-4.4 M222.5,651.4v-4.4 M224.6,651.4v-4.4 M224.7,651.4v-4.4 M224.7,651.4v-4.4 M225.0,651.4v-4.4" stroke="#000" stroke-opacity="0.55" stroke-width="0.45" fill="none"/>
<path d="M227.6,651.4v-4.4 M228.0,651.4v-4.4 M229.1,651.4v-4.4 M233.7,651.4v-4.4 M234.9,651.4v-4.4 M240.9,651.4v-4.4 M243.3,651.4v-4.4 M243.6,651.4v-4.4" stroke="#000" stroke-opacity="0.40" stroke-width="0.40" fill="none"/>
<path d="M258.1,651.4v-4.4" stroke="#000" stroke-opacity="0.40" stroke-width="0.40" fill="none"/>
<rect x="35.5" y="512.4" width="231.3" height="139.0" fill="none" stroke="#777" stroke-width="0.6"/>
<text transform="translate(27.9,520.3) rotate(-90)" font-family="Liberation Sans, Arial, sans-serif" font-size="9.2" font-weight="bold" text-anchor="middle" fill="#151515">0.6</text>
<text transform="translate(27.9,543.5) rotate(-90)" font-family="Liberation Sans, Arial, sans-serif" font-size="9.2" font-weight="bold" text-anchor="middle" fill="#151515">0.4</text>
<text transform="translate(27.9,566.7) rotate(-90)" font-family="Liberation Sans, Arial, sans-serif" font-size="9.2" font-weight="bold" text-anchor="middle" fill="#151515">0.2</text>
<text transform="translate(27.9,589.9) rotate(-90)" font-family="Liberation Sans, Arial, sans-serif" font-size="9.2" font-weight="bold" text-anchor="middle" fill="#151515">0</text>
<text transform="translate(27.9,615.0) rotate(-90)" font-family="Liberation Sans, Arial, sans-serif" font-size="9.2" font-weight="bold" text-anchor="middle" fill="#151515">-0.2</text>
<text transform="translate(27.9,638.1) rotate(-90)" font-family="Liberation Sans, Arial, sans-serif" font-size="9.2" font-weight="bold" text-anchor="middle" fill="#151515">-0.4</text>
<text x="77.6" y="662.8" font-family="Liberation Sans, Arial, sans-serif" font-size="9.2" font-weight="bold" text-anchor="middle" fill="#151515">5</text>
<text x="128.2" y="662.8" font-family="Liberation Sans, Arial, sans-serif" font-size="9.2" font-weight="bold" text-anchor="middle" fill="#151515">10</text>
<text x="178.8" y="662.8" font-family="Liberation Sans, Arial, sans-serif" font-size="9.2" font-weight="bold" text-anchor="middle" fill="#151515">15</text>
<text x="229.4" y="662.8" font-family="Liberation Sans, Arial, sans-serif" font-size="9.2" font-weight="bold" text-anchor="middle" fill="#151515">20</text>
<path d="M35.5,520.6h-2.8 M35.5,543.8h-2.8 M35.5,567.0h-2.8 M35.5,590.2h-2.8 M35.5,613.4h-2.8 M35.5,636.5h-2.8 M77.6,651.4v2.8 M128.2,651.4v2.8 M178.8,651.4v2.8 M229.4,651.4v2.8" stroke="#555" stroke-width="0.6" fill="none"/>
<text x="43.4" y="529.5" font-family="Liberation Sans, Arial, sans-serif" font-size="14" font-weight="bold" fill="#000">d</text>
<text x="150.8" y="679.6" font-family="Liberation Sans, Arial, sans-serif" font-size="12" font-weight="bold" text-anchor="middle" fill="#000">Temperature at 100 m (°C)</text>
<polygon points="306.0,579.0 307.8,578.7 309.6,578.4 311.4,578.2 313.2,578.0 315.0,577.7 316.8,577.5 318.6,577.3 320.4,577.1 322.2,576.9 324.0,576.7 325.8,576.4 327.6,576.2 329.4,576.0 331.2,575.7 333.0,575.5 334.8,575.2 336.6,574.9 338.4,574.6 340.2,574.3 342.0,573.9 343.8,573.6 345.6,573.2 347.4,572.7 349.2,572.3 351.0,571.8 352.8,571.4 354.6,570.9 356.4,570.4 358.2,569.9 360.0,569.3 361.8,568.8 363.6,568.2 365.4,567.7 367.2,567.1 369.0,566.5 370.8,565.9 372.6,565.4 374.4,564.8 376.2,564.2 378.0,563.6 379.8,563.0 381.6,562.4 383.4,561.8 385.2,561.3 387.0,560.7 388.8,560.1 390.6,559.6 392.4,559.0 394.2,558.5 396.0,557.9 397.8,557.4 399.6,556.9 401.4,556.4 403.2,556.0 405.0,555.5 406.8,555.1 408.6,554.7 410.4,554.3 412.2,553.9 414.0,553.5 415.8,553.1 417.6,552.7 419.4,552.4 421.2,552.0 423.0,551.7 424.8,551.4 426.6,551.0 428.4,550.7 430.2,550.4 432.0,550.1 433.8,549.8 435.6,549.4 437.4,549.1 439.2,548.8 441.0,548.5 442.8,548.2 444.6,547.8 446.4,547.5 448.2,547.2 450.0,546.8 451.8,546.5 453.6,546.1 455.4,545.7 457.2,545.4 459.0,545.0 460.8,544.6 462.6,544.1 464.4,543.7 466.2,543.3 468.0,542.8 469.8,542.3 471.6,541.8 473.4,541.3 475.2,540.8 477.0,540.2 478.8,539.7 480.6,539.1 482.4,538.4 484.2,537.8 486.0,537.1 487.8,536.4 489.6,535.7 491.4,535.0 493.2,534.2 495.0,533.4 496.8,532.5 498.6,531.7 500.4,530.8 502.2,529.8 504.0,528.8 505.8,527.8 507.6,526.8 509.4,525.7 511.2,524.6 513.0,523.4 514.8,522.3 516.6,521.0 518.4,519.7 520.2,518.4 520.2,564.0 518.4,563.0 516.6,562.1 514.8,561.1 513.0,560.2 511.2,559.4 509.4,558.6 507.6,557.8 505.8,557.0 504.0,556.3 502.2,555.7 500.4,555.0 498.6,554.4 496.8,553.8 495.0,553.3 493.2,552.8 491.4,552.4 489.6,552.0 487.8,551.6 486.0,551.2 484.2,551.0 482.4,550.7 480.6,550.5 478.8,550.3 477.0,550.2 475.2,550.1 473.4,550.0 471.6,550.0 469.8,550.0 468.0,550.1 466.2,550.2 464.4,550.3 462.6,550.5 460.8,550.7 459.0,551.0 457.2,551.2 455.4,551.6 453.6,551.9 451.8,552.3 450.0,552.7 448.2,553.1 446.4,553.6 444.6,554.1 442.8,554.6 441.0,555.1 439.2,555.7 437.4,556.3 435.6,556.9 433.8,557.5 432.0,558.1 430.2,558.8 428.4,559.5 426.6,560.2 424.8,560.9 423.0,561.6 421.2,562.4 419.4,563.1 417.6,563.9 415.8,564.7 414.0,565.5 412.2,566.3 410.4,567.2 408.6,568.1 406.8,569.0 405.0,569.9 403.2,570.9 401.4,571.9 399.6,572.9 397.8,574.0 396.0,575.1 394.2,576.1 392.4,577.2 390.6,578.3 388.8,579.3 387.0,580.3 385.2,581.3 383.4,582.3 381.6,583.3 379.8,584.3 378.0,585.3 376.2,586.4 374.4,587.5 372.6,588.7 370.8,589.9 369.0,591.1 367.2,592.4 365.4,593.8 363.6,595.3 361.8,596.8 360.0,598.3 358.2,599.9 356.4,601.5 354.6,603.2 352.8,604.8 351.0,606.5 349.2,608.2 347.4,609.8 345.6,611.5 343.8,613.1 342.0,614.7 340.2,616.2 338.4,617.7 336.6,619.2 334.8,620.6 333.0,622.0 331.2,623.4 329.4,624.8 327.6,626.1 325.8,627.5 324.0,628.9 322.2,630.3 320.4,631.7 318.6,633.2 316.8,634.8 315.0,636.4 313.2,638.1 311.4,639.9 309.6,641.8 307.8,643.8 306.0,646.0" fill="#d3d3d3"/>
<path d="M297.6,555.8 H528.8" stroke="#e8392c" stroke-width="0.6" stroke-dasharray="1.8,1.6" fill="none"/>
<polyline points="306.0,612.6 307.8,611.6 309.6,610.6 311.4,609.6 313.2,608.6 315.0,607.6 316.8,606.5 318.6,605.5 320.4,604.5 322.2,603.5 324.0,602.5 325.8,601.5 327.6,600.5 329.4,599.5 331.2,598.5 333.0,597.5 334.8,596.5 336.6,595.5 338.4,594.6 340.2,593.6 342.0,592.6 343.8,591.6 345.6,590.7 347.4,589.7 349.2,588.8 351.0,587.8 352.8,586.9 354.6,585.9 356.4,585.0 358.2,584.1 360.0,583.2 361.8,582.3 363.6,581.4 365.4,580.5 367.2,579.6 369.0,578.7 370.8,577.8 372.6,577.0 374.4,576.1 376.2,575.3 378.0,574.4 379.8,573.6 381.6,572.8 383.4,572.0 385.2,571.2 387.0,570.4 388.8,569.6 390.6,568.8 392.4,568.1 394.2,567.3 396.0,566.6 397.8,565.8 399.6,565.1 401.4,564.4 403.2,563.7 405.0,563.1 406.8,562.4 408.6,561.7 410.4,561.1 412.2,560.4 414.0,559.8 415.8,559.2 417.6,558.6 419.4,558.0 421.2,557.5 423.0,556.9 424.8,556.3 426.6,555.8 428.4,555.3 430.2,554.7 432.0,554.2 433.8,553.7 435.6,553.2 437.4,552.8 439.2,552.3 441.0,551.8 442.8,551.4 444.6,551.0 446.4,550.5 448.2,550.1 450.0,549.7 451.8,549.3 453.6,549.0 455.4,548.6 457.2,548.2 459.0,547.9 460.8,547.5 462.6,547.2 464.4,546.9 466.2,546.5 468.0,546.2 469.8,545.9 471.6,545.7 473.4,545.4 475.2,545.1 477.0,544.9 478.8,544.6 480.6,544.4 482.4,544.2 484.2,543.9 486.0,543.7 487.8,543.5 489.6,543.3 491.4,543.1 493.2,543.0 495.0,542.8 496.8,542.6 498.6,542.5 500.4,542.3 502.2,542.2 504.0,542.1 505.8,542.0 507.6,541.9 509.4,541.8 511.2,541.7 513.0,541.6 514.8,541.5 516.6,541.4 518.4,541.4 520.2,541.3" fill="none" stroke="#444" stroke-width="0.55"/>
<path d="M306.1,652.2v-4.4 M308.1,652.2v-4.4 M308.3,652.2v-4.4" stroke="#000" stroke-opacity="0.40" stroke-width="0.40" fill="none"/>
<path d="M321.1,652.2v-4.4 M322.6,652.2v-4.4 M324.9,652.2v-4.4 M326.4,652.2v-4.4 M326.8,652.2v-4.4 M327.0,652.2v-4.4 M327.2,652.2v-4.4 M329.0,652.2v-4.4 M330.9,652.2v-4.4 M332.2,652.2v-4.4 M334.1,652.2v-4.4 M336.3,652.2v-4.4 M341.3,652.2v-4.4 M341.4,652.2v-4.4 M342.3,652.2v-4.4 M342.8,652.2v-4.4 M343.9,652.2v-4.4 M345.0,652.2v-4.4 M348.5,652.2v-4.4 M348.5,652.2v-4.4 M350.0,652.2v-4.4 M350.3,652.2v-4.4 M350.6,652.2v-4.4 M352.8,652.2v-4.4 M353.7,652.2v-4.4 M354.9,652.2v-4.4 M357.4,652.2v-4.4 M358.3,652.2v-4.4 M360.5,652.2v-4.4 M361.8,652.2v-4.4" stroke="#000" stroke-opacity="0.50" stroke-width="0.40" fill="none"/>
<rect x="362.0" y="647.8" width="38.0" height="4.4" fill="#000" fill-opacity="0.08"/>
<path d="M363.6,652.2v-4.4 M363.9,652.2v-4.4 M364.0,652.2v-4.4 M365.6,652.2v-4.4 M365.7,652.2v-4.4 M365.9,652.2v-4.4 M366.5,652.2v-4.4 M366.6,652.2v-4.4 M367.2,652.2v-4.4 M368.1,652.2v-4.4 M368.2,652.2v-4.4 M368.8,652.2v-4.4 M369.9,652.2v-4.4 M370.5,652.2v-4.4 M372.5,652.2v-4.4 M374.3,652.2v-4.4 M375.1,652.2v-4.4 M375.6,652.2v-4.4 M378.1,652.2v-4.4 M378.8,652.2v-4.4 M379.5,652.2v-4.4 M380.2,652.2v-4.4 M380.5,652.2v-4.4 M381.0,652.2v-4.4 M381.8,652.2v-4.4 M382.1,652.2v-4.4 M382.5,652.2v-4.4 M383.9,652.2v-4.4 M386.2,652.2v-4.4 M386.2,652.2v-4.4 M386.8,652.2v-4.4 M387.0,652.2v-4.4 M387.1,652.2v-4.4 M387.5,652.2v-4.4 M387.6,652.2v-4.4 M387.9,652.2v-4.4 M388.1,652.2v-4.4 M388.4,652.2v-4.4 M388.7,652.2v-4.4 M388.7,652.2v-4.4 M390.4,652.2v-4.4 M391.8,652.2v-4.4 M392.9,652.2v-4.4 M393.6,652.2v-4.4 M394.9,652.2v-4.4 M395.3,652.2v-4.4 M395.8,652.2v-4.4 M397.1,652.2v-4.4 M398.1,652.2v-4.4 M398.2,652.2v-4.4" stroke="#000" stroke-opacity="0.65" stroke-width="0.45" fill="none"/>
<rect x="400.0" y="647.8" width="40.0" height="4.4" fill="#000" fill-opacity="0.08"/>
<path d="M400.5,652.2v-4.4 M401.9,652.2v-4.4 M403.2,652.2v-4.4 M405.2,652.2v-4.4 M405.9,652.2v-4.4 M407.8,652.2v-4.4 M408.0,652.2v-4.4 M408.1,652.2v-4.4 M409.1,652.2v-4.4 M409.5,652.2v-4.4 M409.6,652.2v-4.4 M409.6,652.2v-4.4 M411.5,652.2v-4.4 M412.0,652.2v-4.4 M413.7,652.2v-4.4 M414.1,652.2v-4.4 M414.3,652.2v-4.4 M414.3,652.2v-4.4 M414.5,652.2v-4.4 M414.7,652.2v-4.4 M415.1,652.2v-4.4 M415.4,652.2v-4.4 M415.5,652.2v-4.4 M415.6,652.2v-4.4 M415.8,652.2v-4.4 M416.5,652.2v-4.4 M417.5,652.2v-4.4 M419.9,652.2v-4.4 M422.1,652.2v-4.4 M424.3,652.2v-4.4 M425.2,652.2v-4.4 M426.1,652.2v-4.4 M426.3,652.2v-4.4 M427.0,652.2v-4.4 M427.8,652.2v-4.4 M428.0,652.2v-4.4 M428.4,652.2v-4.4 M428.5,652.2v-4.4 M429.3,652.2v-4.4 M429.5,652.2v-4.4 M430.4,652.2v-4.4 M433.0,652.2v-4.4 M433.7,652.2v-4.4 M433.8,652.2v-4.4 M436.2,652.2v-4.4 M436.6,652.2v-4.4 M437.7,652.2v-4.4 M437.8,652.2v-4.4 M438.8,652.2v-4.4 M439.0,652.2v-4.4" stroke="#000" stroke-opacity="0.55" stroke-width="0.45" fill="none"/>
<rect x="440.0" y="647.8" width="60.0" height="4.4" fill="#000" fill-opacity="0.30"/>
<path d="M440.1,652.2v-4.4 M440.3,652.2v-4.4 M441.4,652.2v-4.4 M442.7,652.2v-4.4 M443.7,652.2v-4.4 M444.5,652.2v-4.4 M445.1,652.2v-4.4 M446.1,652.2v-4.4 M446.6,652.2v-4.4 M447.8,652.2v-4.4 M449.8,652.2v-4.4 M451.0,652.2v-4.4 M452.0,652.2v-4.4 M453.3,652.2v-4.4 M453.4,652.2v-4.4 M453.6,652.2v-4.4 M454.8,652.2v-4.4 M455.8,652.2v-4.4 M456.0,652.2v-4.4 M456.6,652.2v-4.4 M458.2,652.2v-4.4 M458.8,652.2v-4.4 M459.2,652.2v-4.4 M461.6,652.2v-4.4 M462.9,652.2v-4.4 M464.4,652.2v-4.4 M467.2,652.2v-4.4 M467.3,652.2v-4.4 M467.8,652.2v-4.4 M470.7,652.2v-4.4 M471.0,652.2v-4.4 M472.8,652.2v-4.4 M472.9,652.2v-4.4 M473.7,652.2v-4.4 M474.8,652.2v-4.4 M474.9,652.2v-4.4 M476.2,652.2v-4.4 M476.6,652.2v-4.4 M477.5,652.2v-4.4 M477.9,652.2v-4.4 M477.9,652.2v-4.4 M478.6,652.2v-4.4 M478.8,652.2v-4.4 M479.0,652.2v-4.4 M481.4,652.2v-4.4 M481.7,652.2v-4.4 M482.7,652.2v-4.4 M483.8,652.2v-4.4 M484.1,652.2v-4.4 M484.3,652.2v-4.4 M486.8,652.2v-4.4 M488.0,652.2v-4.4 M488.4,652.2v-4.4 M488.9,652.2v-4.4 M491.2,652.2v-4.4 M492.3,652.2v-4.4 M492.6,652.2v-4.4 M492.9,652.2v-4.4 M493.1,652.2v-4.4 M493.4,652.2v-4.4 M493.5,652.2v-4.4 M494.6,652.2v-4.4 M494.6,652.2v-4.4 M495.0,652.2v-4.4 M495.0,652.2v-4.4 M495.7,652.2v-4.4 M495.9,652.2v-4.4 M496.7,652.2v-4.4 M499.2,652.2v-4.4 M499.6,652.2v-4.4" stroke="#000" stroke-opacity="0.90" stroke-width="0.45" fill="none"/>
<path d="M500.3,652.2v-4.4 M504.0,652.2v-4.4 M505.6,652.2v-4.4 M506.4,652.2v-4.4 M506.7,652.2v-4.4 M507.9,652.2v-4.4 M511.3,652.2v-4.4 M512.6,652.2v-4.4 M514.7,652.2v-4.4" stroke="#000" stroke-opacity="0.45" stroke-width="0.40" fill="none"/>
<path d="M520.1,652.2v-4.4" stroke="#000" stroke-opacity="0.30" stroke-width="0.40" fill="none"/>
<rect x="297.6" y="512.4" width="231.2" height="139.8" fill="none" stroke="#777" stroke-width="0.6"/>
<text transform="translate(289.9,531.4) rotate(-90)" font-family="Liberation Sans, Arial, sans-serif" font-size="9.2" font-weight="bold" text-anchor="middle" fill="#151515">0.05</text>
<text transform="translate(289.9,555.5) rotate(-90)" font-family="Liberation Sans, Arial, sans-serif" font-size="9.2" font-weight="bold" text-anchor="middle" fill="#151515">0</text>
<text transform="translate(289.9,581.5) rotate(-90)" font-family="Liberation Sans, Arial, sans-serif" font-size="9.2" font-weight="bold" text-anchor="middle" fill="#151515">-0.05</text>
<text transform="translate(289.9,605.6) rotate(-90)" font-family="Liberation Sans, Arial, sans-serif" font-size="9.2" font-weight="bold" text-anchor="middle" fill="#151515">-0.1</text>
<text transform="translate(289.9,629.7) rotate(-90)" font-family="Liberation Sans, Arial, sans-serif" font-size="9.2" font-weight="bold" text-anchor="middle" fill="#151515">-0.15</text>
<text transform="translate(289.9,653.8) rotate(-90)" font-family="Liberation Sans, Arial, sans-serif" font-size="9.2" font-weight="bold" text-anchor="middle" fill="#151515">-0.2</text>
<text x="328.6" y="663.0" font-family="Liberation Sans, Arial, sans-serif" font-size="9.2" font-weight="bold" text-anchor="middle" fill="#151515">3</text>
<text x="375.1" y="663.0" font-family="Liberation Sans, Arial, sans-serif" font-size="9.2" font-weight="bold" text-anchor="middle" fill="#151515">4</text>
<text x="421.6" y="663.0" font-family="Liberation Sans, Arial, sans-serif" font-size="9.2" font-weight="bold" text-anchor="middle" fill="#151515">5</text>
<text x="468.1" y="663.0" font-family="Liberation Sans, Arial, sans-serif" font-size="9.2" font-weight="bold" text-anchor="middle" fill="#151515">6</text>
<text x="514.6" y="663.0" font-family="Liberation Sans, Arial, sans-serif" font-size="9.2" font-weight="bold" text-anchor="middle" fill="#151515">7</text>
<path d="M297.6,531.7h-2.8 M297.6,555.8h-2.8 M297.6,579.9h-2.8 M297.6,604.0h-2.8 M297.6,628.1h-2.8 M297.6,652.2h-2.8 M328.6,652.2v2.8 M375.1,652.2v2.8 M421.6,652.2v2.8 M468.1,652.2v2.8 M514.6,652.2v2.8" stroke="#555" stroke-width="0.6" fill="none"/>
<text x="304.6" y="529.5" font-family="Liberation Sans, Arial, sans-serif" font-size="14" font-weight="bold" fill="#000">e</text>
<text x="414.6" y="679.0" font-family="Liberation Sans, Arial, sans-serif" font-size="12" font-weight="bold" text-anchor="middle" fill="#000">Dissolved Oxygen at 100 m (ml l<tspan font-size="7.5" dy="-4">-1</tspan><tspan dy="4">)</tspan></text>
<text transform="translate(10.7,490.9) rotate(-90)" font-family="Liberation Sans, Arial, sans-serif" font-size="12" font-weight="bold" text-anchor="middle" fill="#000">Contribution of smoother</text>
</svg>
</body></html>
